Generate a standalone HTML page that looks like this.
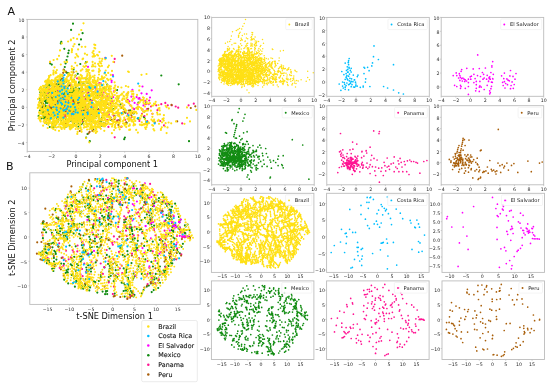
<!DOCTYPE html>
<html><head><meta charset="utf-8"><title>PCA and t-SNE</title>
<style>html,body{margin:0;padding:0;background:#fff;overflow:hidden}svg{display:block;filter:blur(0.3px)}</style></head>
<body><svg width="550" height="386" viewBox="0 0 550 386">
<rect width="550" height="386" fill="#fff"/>
<defs><clipPath id="c_pca"><rect x="27.2" y="19.4" width="170.60000000000002" height="132.0"/></clipPath>
<clipPath id="c_tsne"><rect x="29.8" y="172.8" width="170.39999999999998" height="131.59999999999997"/></clipPath></defs>
<g clip-path="url(#c_pca)">
<path d="M44.8 92.5h0M86.7 98.8h0M62.4 113.4h0M71.5 100.9h0M77.4 103.5h0M79.0 117.4h0M70.6 105.8h0M74.2 96.7h0M59.0 88.4h0M52.9 102.3h0M50.7 99.9h0M124.9 137.5h0M58.1 104.6h0M74.8 90.2h0M51.0 113.9h0M143.9 116.9h0M54.0 117.0h0M56.6 102.7h0M57.6 102.8h0M73.9 92.6h0M52.9 106.9h0M58.6 80.7h0M53.4 108.4h0M144.9 118.5h0M59.9 105.6h0M79.8 112.3h0M118.2 98.4h0M77.5 116.1h0M53.3 84.0h0M40.2 101.2h0M56.6 106.0h0M44.5 97.3h0M73.0 23.7h0M78.6 92.3h0M120.6 104.4h0M67.4 94.1h0M62.0 97.0h0M45.6 106.1h0M93.4 109.0h0M53.7 102.1h0M74.4 117.8h0M99.3 118.5h0M52.1 107.1h0M57.2 107.1h0M73.3 97.5h0M56.1 92.2h0M60.0 85.0h0M49.1 119.3h0M71.2 85.5h0M78.6 103.1h0M39.0 105.8h0M46.1 116.2h0M77.3 98.2h0M117.1 90.1h0M111.1 119.9h0M73.9 123.5h0M46.7 123.6h0M55.4 90.7h0M77.5 95.5h0M83.0 101.2h0M75.4 94.0h0M70.9 89.1h0M72.3 101.0h0M74.3 112.0h0M81.6 101.7h0M74.2 103.0h0M78.7 91.4h0M47.4 91.8h0M80.2 81.9h0M71.0 105.0h0M61.8 102.3h0M75.8 94.8h0M76.0 107.8h0M72.4 98.0h0M63.4 111.4h0M101.6 125.7h0M88.8 118.9h0M71.2 96.2h0M92.3 120.9h0M83.9 97.1h0M75.5 112.3h0M52.6 104.4h0M58.1 87.9h0M77.7 105.1h0M76.5 119.5h0M77.1 91.1h0M86.5 112.7h0M71.3 98.3h0M47.0 91.9h0M73.8 119.6h0M82.9 113.5h0M73.4 110.7h0M45.6 97.9h0M54.6 81.1h0M96.9 110.7h0M52.0 103.4h0M67.5 56.5h0M57.4 80.1h0M88.1 119.2h0M60.0 111.0h0M64.3 109.1h0M69.2 103.3h0M47.6 115.3h0M61.3 94.3h0M74.3 121.7h0M52.2 93.0h0M52.8 101.7h0M47.2 95.9h0M87.2 113.6h0M78.2 97.7h0M98.3 104.3h0M54.9 91.7h0M73.5 101.2h0M65.3 95.4h0M46.0 101.9h0M44.4 107.4h0M70.7 120.8h0M64.3 48.8h0M58.8 84.3h0M67.4 113.7h0M61.2 108.9h0M83.0 121.6h0M50.0 115.8h0M65.2 93.1h0M70.1 96.0h0M45.6 95.5h0M65.1 94.1h0M66.0 109.7h0M67.3 111.8h0M55.6 95.8h0M90.0 99.8h0M79.0 82.4h0M76.5 111.9h0M52.8 113.0h0M71.3 92.9h0M61.7 114.8h0M77.5 118.5h0M48.0 115.1h0M65.9 103.5h0M90.2 117.4h0M75.2 105.7h0M83.4 103.6h0M66.5 72.6h0M82.0 96.4h0M73.2 102.9h0M54.7 115.8h0M47.6 102.8h0M87.6 114.7h0M43.6 115.6h0M49.8 127.0h0M50.2 102.6h0M92.4 100.2h0M81.3 103.2h0M74.8 91.1h0M44.5 97.9h0M51.8 64.6h0M53.0 97.3h0M61.8 108.3h0M74.2 118.8h0M80.7 111.8h0M73.5 89.2h0M59.8 109.8h0M63.5 113.3h0M72.0 92.5h0M95.9 93.1h0M61.4 90.3h0M72.7 103.1h0M47.9 93.6h0M68.3 73.0h0M57.6 100.9h0M74.3 113.4h0M89.9 110.9h0M69.3 92.0h0M50.2 63.5h0M64.4 112.2h0M83.4 83.3h0M65.3 102.1h0M73.6 97.9h0M62.3 103.0h0M45.4 105.5h0M77.0 118.7h0M58.4 109.3h0M40.1 92.3h0M65.6 98.5h0M60.3 111.0h0M58.8 95.5h0M72.1 97.6h0M95.9 85.2h0M72.0 103.2h0M71.2 85.3h0M75.3 111.7h0M53.3 110.0h0M53.0 127.3h0M65.0 110.7h0M68.3 112.7h0M69.2 125.6h0M113.4 109.2h0M51.2 98.9h0M80.1 110.4h0M54.3 108.8h0M58.6 106.5h0M86.0 96.4h0M71.1 102.2h0M69.6 109.6h0M67.2 97.6h0M124.2 139.2h0M65.0 93.6h0M73.0 97.6h0M80.3 64.0h0M69.7 94.9h0M55.6 89.3h0M75.3 93.2h0M76.3 109.3h0M80.3 83.0h0M44.8 117.2h0M65.5 87.8h0M43.2 103.9h0M54.4 105.8h0M73.8 108.3h0M62.4 98.6h0M102.1 117.8h0M69.9 91.3h0M92.2 114.4h0M70.1 105.7h0M41.9 112.2h0M75.6 75.6h0M43.6 95.7h0M51.7 98.5h0M83.9 117.9h0M130.1 110.4h0M92.3 120.9h0M60.3 104.2h0M66.2 81.7h0M66.9 94.4h0M74.0 117.5h0M73.2 104.7h0M48.7 86.1h0M52.7 122.2h0M57.9 99.4h0M44.7 97.8h0M82.7 119.8h0M70.7 106.5h0M61.6 102.1h0M43.6 111.7h0M74.7 94.1h0M119.4 119.9h0M54.0 104.6h0M44.7 112.1h0M57.8 103.1h0M57.8 100.8h0M68.3 121.4h0M76.0 100.7h0M104.1 104.8h0M52.4 105.8h0M91.6 111.6h0M86.1 137.5h0M88.9 99.1h0M70.7 97.6h0M71.7 92.2h0M49.2 97.2h0M79.6 103.2h0M85.5 78.3h0M51.5 84.9h0M90.2 118.2h0M51.5 96.3h0M53.3 106.6h0M71.1 29.9h0M71.8 119.5h0M56.1 109.9h0M78.1 123.6h0M78.5 109.7h0M88.4 92.5h0M72.7 91.5h0M85.2 110.5h0M68.1 102.9h0M55.7 101.0h0M61.3 41.9h0M65.9 115.1h0M69.9 111.9h0M78.2 126.5h0M56.2 93.4h0M103.9 123.4h0M101.6 93.0h0M81.8 100.7h0M73.9 96.1h0M65.5 93.4h0M66.0 109.4h0M45.4 100.9h0M57.9 122.2h0M44.5 93.4h0M58.3 82.8h0M93.5 104.3h0M44.2 100.5h0M65.6 63.5h0M56.8 102.7h0M52.5 87.6h0M86.2 95.6h0M68.9 100.0h0M67.2 97.8h0M66.0 119.7h0M44.8 101.1h0M51.1 115.7h0M101.2 121.4h0M88.8 104.4h0M72.9 105.4h0M178.7 84.3h0M105.1 113.9h0M68.8 105.0h0M73.3 109.4h0M68.8 50.5h0M56.8 118.2h0M56.9 113.4h0M73.2 116.2h0M63.8 104.4h0M54.6 114.5h0M72.7 113.1h0M87.5 119.2h0M60.8 43.4h0M66.7 110.7h0M60.8 120.6h0M55.2 107.9h0M53.0 97.7h0M98.1 109.2h0M106.0 107.8h0M77.3 105.6h0M77.3 117.2h0M50.9 95.5h0M66.0 103.0h0M48.4 101.1h0M72.4 93.2h0M66.2 107.6h0M78.1 120.4h0M96.1 95.9h0M64.3 81.9h0M64.4 113.9h0M47.3 108.0h0M107.2 84.7h0M56.2 105.5h0M41.4 95.4h0M86.1 62.2h0M63.9 106.2h0M50.3 117.5h0M90.5 101.3h0M72.8 101.0h0M72.9 112.0h0M52.3 90.4h0M84.9 106.4h0M38.6 116.1h0M43.9 111.4h0M82.6 33.2h0M68.4 111.8h0M72.9 89.7h0M48.7 113.5h0M42.5 104.3h0M54.0 121.8h0M72.7 116.9h0M59.1 108.3h0M74.0 110.3h0M57.5 108.2h0M64.3 107.4h0M63.0 96.6h0M125.4 112.7h0M75.0 92.9h0M66.0 90.2h0M78.4 117.7h0M57.7 111.8h0M63.1 99.1h0M41.1 93.4h0M109.3 88.9h0M106.4 103.2h0M69.2 105.0h0M54.0 105.5h0M59.6 87.6h0M53.9 118.0h0M43.9 86.4h0M56.6 96.1h0M77.8 73.8h0M48.1 111.0h0M72.9 97.2h0M39.9 110.4h0M60.7 106.1h0M41.7 94.0h0M58.5 98.2h0M73.4 117.0h0M61.5 113.0h0M58.5 110.3h0M77.8 118.1h0M74.2 101.3h0M78.1 116.3h0M55.7 110.2h0M54.0 94.9h0M64.3 88.6h0M42.7 113.2h0M84.1 103.3h0M41.6 118.3h0M42.0 101.9h0M61.5 105.0h0M60.7 92.0h0M61.3 86.7h0M57.1 110.2h0M46.6 99.3h0M44.2 91.2h0M79.6 116.6h0M72.8 107.9h0M51.1 107.1h0M85.4 99.1h0M57.1 88.4h0M52.6 99.6h0M56.2 84.3h0M80.6 93.6h0M104.2 103.3h0M65.7 86.5h0M48.2 107.2h0M83.8 107.9h0M63.2 101.8h0M72.1 101.6h0M81.9 86.9h0M74.9 94.5h0M69.7 96.0h0M59.8 90.3h0M85.8 109.8h0M80.7 89.7h0M63.2 102.0h0M57.3 111.0h0M78.1 112.2h0M87.7 95.3h0M53.4 96.4h0M46.3 119.3h0M66.4 88.0h0M68.3 53.2h0M51.3 113.8h0M55.6 104.8h0M72.8 95.7h0M58.2 105.2h0M73.2 100.4h0M67.1 104.8h0M72.1 101.2h0M100.9 123.9h0M74.9 96.8h0M57.1 107.9h0M63.5 101.4h0M48.1 111.6h0M51.8 113.8h0M48.9 100.2h0M71.7 87.0h0M65.8 106.0h0M44.4 87.0h0M114.6 116.2h0M78.5 91.1h0M43.9 107.6h0M45.9 92.1h0M57.7 112.9h0M63.7 81.8h0M72.0 108.1h0M45.9 91.0h0M82.0 92.6h0M45.5 92.6h0M97.4 94.7h0M137.2 107.9h0M66.9 108.2h0M94.2 97.9h0M44.2 104.9h0M78.3 102.2h0M56.6 112.1h0M49.1 85.2h0M65.4 93.5h0M88.1 82.7h0M71.6 105.2h0M57.1 96.6h0M53.0 124.4h0M93.3 129.4h0M59.4 89.5h0M51.2 116.7h0M60.5 109.9h0M61.7 103.0h0M189.0 141.2h0M70.9 116.3h0M92.8 103.7h0M46.2 113.9h0M63.0 110.6h0M66.1 117.9h0M63.9 104.6h0M87.1 113.7h0M89.8 141.2h0M55.5 115.0h0M62.7 106.7h0M83.8 102.0h0M61.9 108.3h0M70.3 107.8h0M83.5 114.8h0M63.7 117.2h0M124.2 109.2h0M96.9 102.1h0M63.7 93.9h0M56.4 90.3h0M75.7 87.7h0M72.8 106.4h0M73.8 117.2h0M108.8 111.6h0M64.0 70.3h0M89.1 89.2h0M61.3 117.4h0M77.3 113.8h0M76.9 120.0h0M111.5 98.1h0M62.3 108.0h0M138.4 102.7h0M60.0 97.1h0M87.5 134.0h0M88.2 104.6h0M81.5 100.6h0M41.0 95.3h0M43.5 115.0h0M55.0 109.8h0M46.2 98.3h0M47.6 87.0h0M56.7 97.0h0M70.7 96.2h0M65.6 105.0h0M161.3 75.5h0M89.0 95.8h0M70.9 110.1h0M83.0 123.5h0M97.3 96.6h0M92.1 126.9h0M83.6 115.5h0M82.4 92.1h0M52.4 91.9h0M112.3 102.1h0M67.5 107.0h0M71.3 109.8h0M59.2 93.9h0M68.8 83.6h0M76.5 109.1h0M52.3 106.3h0M137.7 118.5h0M49.4 86.5h0M45.7 106.1h0M60.8 94.7h0M75.8 105.5h0M72.3 87.6h0M59.2 103.5h0M47.2 117.9h0M76.4 114.2h0M85.9 98.9h0M90.8 88.4h0M66.1 109.6h0M64.8 67.0h0M48.8 84.5h0M71.3 110.9h0M44.1 118.2h0M78.7 103.7h0M92.9 113.3h0M100.4 94.9h0M59.8 93.4h0M55.1 110.7h0M59.6 85.6h0M53.9 94.8h0M42.2 109.3h0M63.1 88.2h0M55.8 91.5h0M54.8 111.9h0M42.0 103.5h0M56.0 105.2h0M46.4 85.0h0M52.4 115.4h0M75.1 103.6h0M54.7 99.2h0M73.6 98.6h0M64.9 92.5h0M60.9 113.2h0M57.8 98.0h0M84.4 104.6h0M44.6 92.1h0M51.3 98.5h0M78.2 99.1h0M62.2 124.1h0M76.5 100.8h0M56.4 104.4h0M74.5 94.4h0M68.9 95.5h0M61.1 96.4h0M53.4 109.2h0M71.4 97.6h0M74.8 106.3h0M83.4 106.2h0M49.3 107.9h0M67.7 110.0h0M64.3 98.1h0M53.9 113.6h0M59.8 82.2h0M64.6 99.1h0M52.7 90.9h0M70.9 93.7h0M86.5 78.5h0M49.8 92.5h0M92.5 110.4h0M81.0 39.4h0M78.9 88.7h0M59.4 108.1h0M101.6 94.8h0M46.4 107.9h0M61.3 106.2h0M88.7 104.4h0M41.4 107.7h0M51.6 109.3h0M60.5 79.8h0M69.3 106.6h0M86.1 62.3h0M81.1 109.9h0M54.3 94.2h0M46.5 88.7h0M50.2 108.8h0M65.7 126.9h0M73.5 69.5h0M54.6 100.0h0M68.5 106.7h0M58.6 118.3h0M146.2 102.1h0M53.5 127.5h0M69.4 119.1h0M61.3 92.7h0M65.0 81.0h0M71.8 98.2h0M101.6 100.9h0M40.1 98.7h0M66.7 94.6h0M59.6 106.7h0M58.2 119.3h0M51.3 102.0h0M63.0 104.9h0M75.8 116.6h0M82.8 114.6h0M43.5 98.8h0M77.0 106.4h0M79.6 100.6h0M87.7 108.1h0M58.1 119.5h0M49.0 85.1h0M58.7 99.0h0M82.7 101.9h0M69.7 102.6h0M58.5 103.0h0M55.2 125.5h0M43.4 118.2h0M66.2 89.3h0M73.7 79.9h0M45.2 98.2h0M44.9 116.2h0M83.4 113.2h0M59.4 105.1h0M69.2 85.2h0M69.1 84.0h0M59.0 86.8h0M50.2 99.5h0M58.1 111.9h0M61.3 109.4h0M47.0 108.9h0M56.2 106.4h0M93.3 104.0h0M62.4 117.1h0M81.5 112.7h0M84.1 107.8h0M126.6 122.9h0M74.8 105.1h0M70.1 99.1h0M49.3 106.5h0M79.0 96.4h0M65.0 115.4h0M46.0 102.9h0M65.6 90.2h0M83.5 110.2h0M58.3 98.2h0M52.6 107.1h0M133.7 113.4h0M61.1 93.0h0M56.7 97.9h0M66.5 60.0h0M47.5 99.0h0M74.4 93.9h0M65.6 109.9h0M67.6 86.7h0M79.9 115.7h0M50.8 105.8h0M76.3 119.6h0M61.1 103.0h0M68.7 114.1h0M82.2 107.3h0M61.9 105.1h0M46.8 113.3h0M61.9 105.4h0M81.1 116.5h0M74.2 118.6h0M57.0 85.6h0M66.1 106.7h0M50.5 98.8h0M88.9 117.2h0M81.0 124.3h0M79.1 44.5h0M48.1 81.8h0M91.9 117.5h0M78.9 83.8h0M49.4 106.4h0M72.0 94.2h0M43.0 107.4h0M94.4 122.2h0M55.8 108.6h0M57.1 87.7h0M96.3 115.9h0M84.3 101.1h0M71.8 115.1h0M48.5 115.9h0M77.6 104.5h0M57.6 91.5h0M53.7 90.0h0M104.0 87.8h0M65.4 110.7h0M57.9 96.2h0M146.2 122.2h0" stroke="#128c12" stroke-width="2.20" stroke-linecap="round" fill="none"/>
<path d="M59.6 110.9h0M51.8 113.2h0M67.4 101.5h0M67.2 107.9h0M61.2 109.2h0M68.0 103.4h0M63.7 115.0h0M73.8 104.6h0M61.8 112.4h0M69.9 106.7h0M67.9 112.6h0M62.7 100.5h0M64.1 115.4h0M78.0 112.6h0M61.5 109.6h0M56.3 107.5h0M65.9 116.3h0M73.4 112.4h0M66.6 114.5h0M64.4 104.3h0M67.0 112.0h0M61.8 108.9h0M61.0 113.5h0M67.7 108.2h0M67.4 106.3h0M80.2 110.2h0M77.4 109.1h0M65.0 107.8h0M62.0 104.2h0M73.2 106.2h0M67.3 111.2h0M72.2 114.3h0M64.7 109.9h0M68.4 107.3h0M69.0 99.8h0M63.0 108.9h0M74.6 108.1h0M64.0 115.2h0M66.3 105.1h0M71.2 114.4h0M59.9 106.8h0M59.5 108.7h0M85.6 110.9h0M69.2 102.2h0M59.6 108.8h0M75.0 102.8h0M72.0 108.2h0M65.6 116.9h0M70.5 114.0h0M82.8 113.8h0M61.9 115.1h0M64.1 109.4h0M77.5 101.2h0M60.7 103.7h0M63.3 113.4h0M59.9 107.0h0M68.7 110.2h0M56.8 100.6h0M53.6 108.9h0M78.8 104.1h0M64.7 117.5h0M58.1 107.9h0M55.6 112.3h0M66.0 117.5h0M61.7 116.3h0M54.1 109.6h0M65.3 105.0h0M76.5 108.8h0M71.8 118.7h0M60.8 108.8h0M61.1 107.6h0M64.1 113.9h0M60.4 102.9h0M62.8 103.9h0M64.0 105.2h0M62.5 107.2h0M73.0 106.3h0M77.2 110.1h0M62.7 109.8h0M67.7 109.2h0M60.5 106.8h0M68.5 109.5h0M72.1 111.6h0M64.2 115.2h0M69.7 110.1h0M67.4 98.8h0M77.4 104.9h0M61.5 103.0h0M87.0 115.7h0M65.8 107.0h0M61.1 92.9h0M65.9 101.4h0M77.0 100.1h0M51.1 97.0h0M73.7 119.8h0M66.3 99.2h0M60.1 97.7h0M74.9 98.3h0M93.6 92.1h0M74.2 97.2h0M76.0 104.4h0M78.8 97.0h0M65.1 107.5h0M53.6 99.2h0M70.9 101.5h0M54.2 95.1h0M71.4 107.8h0M68.7 113.2h0M80.3 111.4h0M50.2 89.1h0M66.0 115.5h0M51.7 92.2h0M73.3 106.8h0M54.9 105.5h0M71.2 106.0h0M48.0 114.6h0M67.6 104.4h0M70.7 115.4h0M68.1 107.3h0M74.7 120.0h0M75.7 106.1h0M55.7 98.9h0M70.7 86.2h0M73.3 111.9h0M80.6 110.8h0M69.7 125.0h0M92.7 114.0h0M82.1 121.3h0M71.9 116.5h0M56.5 112.4h0M88.2 110.9h0M59.4 109.7h0M48.3 90.2h0M64.3 109.7h0M45.6 122.4h0M69.9 107.7h0M67.7 93.0h0M77.4 108.1h0M73.5 120.7h0M52.0 103.3h0M76.6 116.6h0M105.3 57.9h0M114.7 58.9h0M114.1 62.1h0M99.3 83.1h0M92.8 88.6h0M85.6 90.3h0M85.1 99.4h0M86.3 106.5h0M85.1 109.0h0M87.6 113.8h0M94.1 107.7h0M101.9 95.7h0M105.8 100.5h0M100.6 102.9h0M99.3 110.2h0M97.9 113.8h0M103.1 113.3h0M108.4 113.8h0M110.9 102.9h0M113.6 115.6h0M118.7 115.0h0M122.6 106.5h0M123.9 111.8h0M127.7 99.9h0M127.7 113.8h0M130.4 112.5h0M131.6 117.3h0M125.2 119.8h0M134.2 109.0h0M138.0 107.7h0M139.4 98.1h0M142.0 113.8h0M144.5 116.1h0M147.2 109.0h0M145.9 104.2h0M149.2 100.5h0M151.0 106.5h0M152.4 113.8h0M156.2 105.3h0M161.3 104.2h0M165.3 102.9h0M167.8 105.3h0M171.8 105.3h0M175.7 106.5h0M178.2 107.7h0M188.6 105.3h0M193.8 103.7h0M157.5 110.2h0M153.7 121.0h0M160.2 121.0h0M164.0 125.4h0M182.2 123.4h0M147.2 121.0h0M139.4 121.0h0M121.2 126.9h0M108.4 126.9h0M99.3 123.8h0M114.7 137.3h0M117.4 120.4h0M107.1 119.8h0M95.4 116.1h0M88.9 96.9h0M70.1 75.3h0M77.1 78.3h0M53.8 87.2h0M65.8 87.2h0M50.3 94.4h0M85.8 89.6h0M92.6 88.9h0M50.0 61.9h0" stroke="#ff1493" stroke-width="2.20" stroke-linecap="round" fill="none"/>
<path d="M88.0 66.8h0M112.9 75.2h0M111.6 80.5h0M111.6 82.1h0M69.8 83.7h0M80.5 84.5h0M90.6 84.0h0M100.8 83.3h0M61.3 85.2h0M60.3 87.5h0M52.2 89.5h0M47.2 92.9h0M53.2 92.9h0M57.3 90.5h0M58.3 92.9h0M59.3 95.2h0M61.3 96.7h0M63.3 96.0h0M65.3 97.5h0M67.3 98.2h0M69.5 99.7h0M56.2 96.0h0M58.3 99.0h0M62.3 99.7h0M66.3 100.3h0M72.5 97.5h0M76.5 97.5h0M77.5 93.7h0M83.6 96.7h0M87.6 92.9h0M92.6 94.1h0M95.8 89.0h0M97.8 91.3h0M98.8 96.0h0M96.8 97.5h0M103.8 92.5h0M106.9 95.2h0M102.8 97.5h0M108.9 97.5h0M112.9 96.7h0M113.9 91.3h0M109.9 89.0h0M105.9 100.3h0M110.9 101.3h0M85.6 100.3h0M81.6 101.8h0M91.6 100.3h0M72.5 101.8h0M49.5 105.2h0M59.3 105.2h0M60.3 106.7h0M72.5 106.7h0M59.3 109.0h0M67.3 109.0h0M85.6 104.4h0M91.6 105.9h0M90.6 107.5h0M93.8 107.5h0M85.6 109.0h0M98.8 110.5h0M103.8 105.2h0M110.9 106.4h0M109.9 109.5h0M107.9 112.1h0M108.9 114.4h0M107.9 115.9h0M84.6 112.1h0M90.6 112.9h0M72.5 116.7h0M81.6 91.3h0M75.5 94.4h0M53.2 106.7h0M108.1 94.4h0M107.1 96.7h0M113.2 97.2h0M106.1 99.7h0M112.3 101.4h0M142.5 86.5h0M132.4 89.8h0M151.7 90.3h0M127.7 93.2h0M141.5 93.3h0M146.7 93.9h0M131.4 96.7h0M136.6 97.1h0M138.5 98.7h0M140.5 99.5h0M150.0 97.5h0M129.4 101.4h0M132.4 100.6h0M134.6 102.9h0M137.5 104.4h0M145.2 100.9h0M148.7 104.2h0M143.5 105.4h0M130.4 105.4h0M133.4 108.6h0M142.5 109.5h0M147.2 109.0h0" stroke="#ff00ff" stroke-width="2.20" stroke-linecap="round" fill="none"/>
<path d="M77.5 108.0h0M63.0 108.5h0M56.0 110.5h0M56.3 103.1h0M72.5 100.0h0M71.6 94.8h0M68.9 111.0h0M59.9 105.6h0M81.3 102.8h0M53.2 112.3h0M78.1 98.3h0M75.3 105.4h0M75.6 98.5h0M67.8 120.1h0M58.0 95.7h0M51.2 111.0h0M49.1 101.7h0M63.1 103.8h0M73.4 107.1h0M55.0 109.7h0M56.6 108.3h0M62.8 109.2h0M47.2 98.5h0M52.7 104.4h0M67.9 101.1h0M49.1 113.8h0M55.4 96.4h0M56.9 95.2h0M50.9 107.8h0M46.2 117.9h0M65.0 111.2h0M86.2 117.9h0M52.0 105.5h0M67.2 109.1h0M53.5 108.8h0M63.2 101.7h0M69.1 97.4h0M50.8 112.1h0M74.2 102.2h0M64.8 111.7h0M57.0 103.9h0M72.0 104.4h0M50.5 93.2h0M56.1 102.4h0M40.7 102.2h0M58.6 99.6h0M79.6 105.5h0M50.0 111.0h0M43.4 104.6h0M76.2 95.5h0M70.1 102.9h0M61.1 99.6h0M71.4 95.3h0M43.4 106.7h0M73.4 111.2h0M72.5 115.2h0M55.9 106.7h0M61.7 111.4h0M63.4 106.6h0M61.0 102.5h0M52.4 105.2h0M48.0 107.6h0M57.1 91.6h0M74.7 103.6h0M54.1 99.9h0M72.7 122.1h0M77.4 116.7h0M56.3 112.3h0M67.3 106.7h0M56.3 121.7h0M76.7 105.8h0M52.5 108.1h0M73.8 101.7h0M50.5 108.3h0M69.1 110.0h0M65.9 123.7h0M50.9 97.3h0M90.2 114.4h0M46.7 111.4h0M59.8 95.2h0M58.9 101.6h0M70.1 103.8h0M63.7 87.9h0M88.3 110.6h0M50.9 94.0h0M77.0 118.2h0M58.1 102.7h0M87.1 100.5h0M57.1 97.5h0M66.9 115.6h0M66.7 95.2h0M75.1 104.1h0M59.3 104.2h0M60.6 100.3h0M51.6 100.4h0M74.2 112.0h0M60.0 96.6h0M61.3 116.2h0M57.6 117.8h0M57.7 101.4h0M50.1 111.5h0M49.1 108.1h0M54.3 102.8h0M59.7 107.4h0M63.7 69.7h0M63.2 72.8h0M62.7 75.7h0M62.0 78.7h0M61.2 81.8h0M60.5 85.8h0M59.8 88.8h0M59.3 91.9h0M56.8 80.7h0M55.7 83.8h0M54.7 86.7h0M54.0 89.8h0M53.3 92.3h0M65.8 71.7h0M73.5 72.3h0M67.0 80.7h0M93.8 87.8h0M92.4 88.8h0M79.8 131.0h0M89.6 131.9h0M92.8 129.9h0M98.1 120.9h0M122.2 55.7h0M84.8 106.8h0M87.3 109.2h0M108.1 104.0h0M121.7 108.0h0M124.9 112.0h0M128.7 110.5h0M132.6 112.8h0M131.4 115.3h0M136.6 108.0h0M144.2 111.6h0M148.2 108.8h0M139.0 118.9h0M154.7 122.4h0M171.5 104.9h0M190.8 108.0h0M195.3 106.3h0M177.2 121.3h0M104.1 114.1h0M101.6 120.1h0M98.9 121.3h0M96.4 122.4h0M105.4 123.7h0M110.6 117.6h0M111.9 120.1h0M114.6 118.9h0M117.1 121.3h0M119.7 120.1h0M118.4 124.9h0M126.2 122.4h0M89.9 121.3h0M92.4 131.0h0M88.6 133.3h0M91.3 118.9h0M83.5 120.1h0" stroke="#a95f0a" stroke-width="2.20" stroke-linecap="round" fill="none"/>
<path d="M82.4 85.3h0M40.3 91.8h0M55.3 130.1h0M71.8 52.2h0M55.9 116.1h0M99.4 88.9h0M99.1 84.8h0M95.0 111.9h0M113.9 122.1h0M52.0 110.7h0M114.0 109.8h0M107.9 97.4h0M73.7 94.8h0M53.9 90.2h0M80.3 84.1h0M51.6 87.5h0M106.6 121.4h0M130.4 114.4h0M63.6 124.7h0M94.9 110.0h0M126.5 98.1h0M92.8 80.0h0M74.3 92.4h0M96.6 87.5h0M165.0 126.5h0M94.2 121.4h0M123.8 96.5h0M72.5 121.1h0M80.2 115.0h0M69.4 82.6h0M43.1 89.7h0M75.1 93.4h0M42.3 103.9h0M77.8 109.6h0M72.1 81.8h0M88.3 120.0h0M95.2 48.4h0M99.9 70.7h0M54.1 101.9h0M86.1 96.3h0M98.5 104.0h0M108.4 122.5h0M99.4 52.0h0M99.9 118.7h0M85.8 100.9h0M49.6 117.9h0M80.5 89.8h0M95.0 91.2h0M65.4 95.1h0M102.2 100.3h0M67.3 104.4h0M56.1 90.2h0M66.8 122.2h0M59.7 97.4h0M84.9 53.7h0M74.1 110.0h0M39.1 89.5h0M102.0 90.7h0M60.6 83.7h0M50.2 111.5h0M69.9 95.1h0M133.4 122.1h0M47.7 128.0h0M91.0 108.5h0M77.7 95.7h0M49.6 80.5h0M49.6 94.1h0M110.1 109.9h0M70.5 103.3h0M83.9 101.5h0M82.3 95.3h0M92.6 102.6h0M48.0 105.6h0M75.9 83.9h0M68.8 91.5h0M60.0 89.2h0M95.4 130.5h0M70.4 119.8h0M102.3 123.6h0M115.0 91.0h0M91.7 94.1h0M75.6 92.9h0M67.5 96.1h0M95.6 97.1h0M104.6 97.1h0M71.8 68.9h0M70.9 79.3h0M91.3 90.2h0M95.0 93.2h0M73.7 116.0h0M83.4 78.4h0M95.8 116.5h0M67.4 98.6h0M57.9 112.9h0M72.4 115.3h0M82.5 85.1h0M84.0 101.1h0M48.5 124.9h0M47.8 90.3h0M97.2 110.5h0M55.8 71.8h0M67.6 119.7h0M55.0 80.1h0M75.7 111.7h0M98.2 92.7h0M46.2 91.4h0M56.0 120.8h0M59.0 111.8h0M114.1 92.1h0M98.9 114.5h0M142.3 109.1h0M124.5 123.4h0M45.7 98.5h0M102.4 125.2h0M101.8 123.8h0M141.5 74.8h0M86.4 78.7h0M71.4 100.8h0M107.5 100.5h0M46.3 114.4h0M82.7 104.8h0M47.8 119.9h0M55.1 126.9h0M71.9 94.6h0M68.7 118.1h0M72.6 89.3h0M184.5 123.8h0M115.6 127.8h0M103.7 96.6h0M56.3 89.9h0M71.8 90.4h0M56.0 85.3h0M98.4 102.4h0M132.2 120.4h0M72.4 120.4h0M124.3 119.5h0M92.8 76.6h0M77.6 112.6h0M89.1 123.7h0M160.0 114.3h0M95.6 110.7h0M143.1 111.7h0M141.0 108.1h0M81.2 107.2h0M136.2 129.9h0M67.4 85.2h0M80.5 121.9h0M64.7 113.6h0M60.3 104.2h0M128.3 86.8h0M84.5 67.0h0M62.5 98.5h0M93.6 95.5h0M69.9 106.0h0M56.0 92.9h0M157.1 112.7h0M47.0 110.7h0M101.1 105.3h0M76.8 122.3h0M58.5 107.0h0M94.3 118.6h0M80.8 104.3h0M113.4 61.9h0M108.9 100.3h0M42.7 117.6h0M133.6 112.1h0M108.7 87.2h0M53.8 114.3h0M103.3 84.7h0M132.1 94.1h0M80.8 114.9h0M98.5 93.2h0M97.0 113.6h0M54.5 83.0h0M81.5 88.0h0M86.3 77.4h0M40.2 120.0h0M60.6 109.3h0M70.4 89.5h0M54.6 107.0h0M190.0 121.4h0M63.6 100.5h0M70.7 103.9h0M47.6 80.4h0M97.1 131.5h0M92.8 117.2h0M106.2 101.3h0M53.6 95.0h0M90.8 126.2h0M75.3 104.9h0M57.2 87.5h0M44.5 112.6h0M89.4 97.2h0M70.2 94.1h0M91.9 85.6h0M56.3 121.9h0M75.6 89.3h0M75.2 104.5h0M78.3 117.4h0M86.3 92.5h0M69.6 102.0h0M71.7 109.7h0M82.9 78.4h0M95.4 112.1h0M94.5 126.2h0M53.0 85.3h0M48.6 109.5h0M94.6 106.8h0M109.0 105.3h0M82.0 95.4h0M121.8 114.4h0M81.0 89.8h0M80.6 90.8h0M74.7 120.5h0M74.0 114.1h0M141.8 122.4h0M73.8 94.9h0M75.8 110.2h0M47.4 88.7h0M80.3 127.7h0M53.8 106.8h0M79.2 115.7h0M114.7 109.4h0M100.9 97.4h0M101.9 99.1h0M104.0 104.9h0M60.2 74.6h0M78.6 118.0h0M67.3 80.6h0M111.7 108.1h0M70.0 108.8h0M88.9 110.0h0M77.3 133.9h0M65.8 88.1h0M72.8 105.9h0M93.9 94.1h0M86.4 91.2h0M39.7 103.5h0M38.2 105.1h0M118.7 122.3h0M42.5 94.0h0M123.8 92.0h0M80.6 74.9h0M55.8 88.8h0M103.5 120.5h0M86.2 117.9h0M81.6 131.8h0M55.8 73.1h0M102.4 91.6h0M81.7 82.1h0M62.8 89.7h0M88.3 119.9h0M139.7 102.3h0M79.7 121.8h0M63.2 125.7h0M95.1 85.3h0M44.8 89.8h0M74.6 121.0h0M109.6 91.6h0M80.7 102.4h0M80.7 102.5h0M97.3 114.7h0M73.6 98.4h0M78.4 96.9h0M66.3 95.8h0M143.5 102.8h0M73.9 115.4h0M84.3 85.2h0M76.0 115.1h0M122.9 121.0h0M64.7 83.4h0M83.5 116.0h0M64.6 61.9h0M85.4 114.8h0M87.5 105.9h0M99.7 126.5h0M54.0 125.6h0M46.8 90.4h0M78.7 124.8h0M124.3 105.2h0M108.5 90.7h0M83.5 23.3h0M50.2 81.3h0M49.6 99.7h0M73.0 104.0h0M93.1 86.0h0M74.7 77.3h0M98.4 121.2h0M70.9 87.1h0M46.2 92.1h0M41.6 88.0h0M96.2 96.5h0M72.1 110.8h0M130.9 113.1h0M61.6 88.6h0M65.4 101.9h0M124.3 96.5h0M163.7 120.6h0M117.6 113.1h0M44.4 90.8h0M84.0 93.1h0M67.2 124.2h0M47.2 117.0h0M78.1 49.4h0M57.7 86.6h0M114.6 82.3h0M54.0 106.6h0M77.7 92.0h0M91.0 91.5h0M94.2 112.4h0M107.7 120.9h0M137.0 94.9h0M48.1 87.7h0M73.5 82.2h0M84.1 108.5h0M63.9 83.4h0M88.4 106.2h0M92.7 92.0h0M80.6 100.9h0M136.8 113.3h0M137.9 132.6h0M83.9 89.2h0M86.5 115.0h0M134.4 118.7h0M73.4 96.9h0M60.3 116.2h0M70.9 77.8h0M89.7 77.0h0M97.8 122.0h0M92.2 92.7h0M56.5 96.7h0M56.6 103.9h0M66.7 93.4h0M107.9 116.8h0M54.5 113.8h0M62.0 115.9h0M104.7 91.3h0M85.8 122.4h0M55.5 107.0h0M146.5 101.7h0M68.1 110.6h0M93.5 118.8h0M46.7 117.2h0M85.2 85.0h0M81.1 100.9h0M77.0 101.2h0M54.8 107.6h0M126.4 124.3h0M108.6 108.8h0M176.0 121.4h0M101.1 63.4h0M119.2 126.6h0M94.6 75.5h0M81.9 113.8h0M101.5 120.3h0M64.8 104.2h0M67.7 92.5h0M39.0 112.4h0M43.7 110.5h0M58.0 122.2h0M86.7 98.1h0M42.5 93.5h0M96.6 93.0h0M74.4 80.9h0M53.7 89.1h0M89.9 75.8h0M77.3 97.7h0M67.2 76.8h0M47.8 116.2h0M75.5 91.4h0M97.2 113.4h0M98.0 105.5h0M67.6 113.1h0M52.1 90.3h0M66.4 103.3h0M64.2 96.7h0M72.0 102.8h0M53.6 85.6h0M49.4 111.5h0M62.3 114.4h0M53.3 90.5h0M41.1 98.0h0M70.0 90.6h0M62.2 115.7h0M69.8 128.7h0M83.3 106.4h0M129.6 117.8h0M91.7 102.9h0M71.4 125.2h0M98.1 93.7h0M103.8 95.1h0M75.3 113.4h0M97.4 114.8h0M110.1 124.2h0M66.0 94.4h0M90.5 115.5h0M95.0 106.4h0M146.1 122.8h0M81.4 121.1h0M109.4 108.5h0M72.7 123.3h0M93.4 122.8h0M89.6 96.1h0M85.3 102.6h0M80.3 99.1h0M41.4 111.2h0M82.1 116.9h0M53.2 128.4h0M55.7 111.4h0M60.9 99.1h0M103.6 110.6h0M66.7 106.3h0M155.7 101.8h0M75.1 98.6h0M67.7 115.4h0M70.6 94.0h0M73.2 87.0h0M110.6 79.2h0M72.6 72.6h0M81.7 109.2h0M96.2 115.2h0M143.4 100.2h0M50.0 91.5h0M113.6 103.8h0M86.9 110.6h0M80.0 119.8h0M80.5 79.8h0M92.1 110.3h0M78.7 101.4h0M94.0 82.8h0M54.3 83.6h0M53.6 72.6h0M153.3 105.5h0M82.3 96.0h0M74.1 93.9h0M52.4 101.6h0M52.8 113.5h0M117.9 99.6h0M73.3 114.5h0M100.3 88.9h0M59.1 118.0h0M93.1 92.9h0M50.1 90.7h0M76.3 71.5h0M41.3 111.6h0M69.0 120.1h0M71.5 125.0h0M133.4 93.9h0M74.9 96.9h0M71.6 105.9h0M66.0 87.7h0M40.7 105.9h0M64.3 85.8h0M99.3 105.6h0M159.0 123.8h0M84.2 111.8h0M61.8 43.3h0M111.4 105.0h0M60.7 97.1h0M130.8 111.9h0M61.8 112.0h0M105.4 100.7h0M77.4 123.3h0M59.1 92.9h0M111.8 124.2h0M145.8 129.0h0M133.0 91.3h0M88.5 112.4h0M73.0 93.6h0M43.0 102.3h0M79.1 113.6h0M42.3 110.5h0M154.3 130.5h0M84.0 99.5h0M55.6 113.9h0M100.6 86.5h0M54.9 107.3h0M63.5 70.7h0M98.3 94.7h0M122.8 108.3h0M93.3 97.4h0M104.1 124.1h0M62.6 87.5h0M87.8 108.3h0M72.8 126.2h0M117.2 96.1h0M78.9 114.5h0M73.1 127.0h0M88.9 89.7h0M98.7 94.4h0M72.6 124.7h0M72.3 98.7h0M107.7 94.7h0M51.0 116.5h0M106.2 124.8h0M52.2 115.6h0M151.5 119.7h0M98.7 117.3h0M62.4 111.7h0M83.7 103.3h0M49.7 99.9h0M116.4 108.1h0M86.0 94.6h0M82.6 59.2h0M124.3 117.5h0M110.9 86.3h0M72.6 103.3h0M71.4 94.2h0M91.8 102.9h0M47.5 82.0h0M92.5 94.8h0M84.2 111.6h0M45.1 81.7h0M106.1 95.8h0M106.2 89.8h0M94.0 100.2h0M69.3 104.1h0M85.2 111.7h0M49.3 100.3h0M92.0 104.8h0M55.5 112.5h0M52.2 113.1h0M85.8 109.4h0M70.0 101.6h0M73.0 96.4h0M102.1 104.7h0M58.1 116.5h0M134.3 118.9h0M98.9 71.4h0M57.1 108.8h0M48.7 116.1h0M71.4 97.4h0M53.6 115.1h0M86.4 120.9h0M63.3 103.8h0M103.7 124.7h0M91.1 102.4h0M90.4 86.6h0M65.2 103.4h0M85.2 114.5h0M61.6 108.2h0M91.8 112.3h0M93.4 70.7h0M66.9 115.2h0M91.0 120.4h0M95.3 45.1h0M70.8 78.3h0M90.2 117.2h0M86.5 78.6h0M42.9 92.6h0M75.4 97.6h0M72.8 119.0h0M79.2 117.9h0M75.5 99.8h0M110.2 110.7h0M49.2 91.1h0M89.7 98.1h0M147.9 110.6h0M77.0 114.1h0M46.2 90.6h0M81.7 103.2h0M86.1 65.9h0M115.5 106.4h0M63.3 82.6h0M63.7 104.6h0M63.9 121.8h0M53.7 84.7h0M84.4 119.9h0M84.0 104.5h0M168.9 108.4h0M70.4 125.6h0M83.8 123.6h0M98.6 94.7h0M65.7 92.9h0M108.7 91.0h0M74.5 44.2h0M132.1 100.6h0M152.6 113.8h0M118.9 96.9h0M95.1 105.6h0M84.8 78.3h0M115.8 103.4h0M49.5 120.1h0M91.0 85.2h0M43.7 97.3h0M61.9 127.9h0M58.8 105.9h0M140.7 100.4h0M68.6 115.7h0M61.0 104.6h0M90.3 94.4h0M54.8 102.9h0M81.8 114.0h0M112.1 120.9h0M47.8 84.5h0M80.7 104.1h0M103.3 78.5h0M78.1 128.9h0M80.8 81.7h0M89.5 75.0h0M49.4 109.5h0M40.0 120.3h0M49.6 123.0h0M108.1 93.8h0M97.7 80.9h0M140.3 118.7h0M52.7 111.8h0M59.6 114.0h0M54.8 93.3h0M95.8 104.6h0M115.4 113.3h0M166.6 133.1h0M78.3 119.3h0M109.3 94.2h0M46.5 120.5h0M61.6 121.6h0M79.8 110.7h0M137.6 107.1h0M46.1 92.2h0M53.5 94.1h0M150.9 110.7h0M95.3 66.6h0M54.2 97.6h0M80.6 94.0h0M105.1 102.3h0M60.6 104.0h0M53.6 60.0h0M88.1 87.1h0M80.6 78.7h0M97.9 98.6h0M75.3 62.8h0M81.4 87.2h0M84.1 127.5h0M103.5 98.0h0M42.2 114.6h0M63.0 119.8h0M97.2 114.5h0M101.2 106.5h0M54.2 80.3h0M187.0 117.8h0M94.6 105.7h0M50.0 121.1h0M39.5 97.4h0M104.4 111.5h0M60.6 91.3h0M139.6 118.4h0M138.3 103.5h0M53.3 125.0h0M110.5 102.1h0M53.6 104.1h0M109.3 108.1h0M49.5 112.8h0M152.1 105.6h0M46.4 83.3h0M77.0 111.4h0M161.8 127.3h0M52.2 88.9h0M78.1 111.3h0M86.0 138.1h0M144.8 111.4h0M46.2 89.1h0M116.9 96.5h0M64.5 128.1h0M62.7 104.6h0M71.6 109.1h0M130.9 119.6h0M77.6 118.3h0M112.5 94.7h0M72.4 120.5h0M157.7 120.9h0M83.4 104.9h0M162.0 122.3h0M89.4 85.1h0M110.6 101.1h0M68.9 91.3h0M104.6 77.3h0M99.1 93.9h0M93.8 117.5h0M58.5 115.8h0M70.4 98.4h0M43.9 115.0h0M45.1 85.5h0M76.2 118.9h0M69.7 97.7h0M116.0 113.1h0M79.9 95.6h0M45.9 97.0h0M128.7 116.2h0M79.0 34.5h0M89.8 95.8h0M100.7 107.1h0M59.5 79.4h0M40.9 91.6h0M72.5 117.4h0M152.2 125.1h0M153.1 125.7h0M123.5 120.3h0M83.9 102.7h0M95.7 100.9h0M69.7 99.5h0M99.9 106.9h0M106.4 106.7h0M107.8 107.9h0M67.0 116.2h0M90.0 107.1h0M87.4 126.1h0M74.3 104.9h0M62.5 122.7h0M41.2 96.3h0M117.0 100.9h0M98.4 111.2h0M130.6 105.3h0M75.7 118.7h0M57.2 59.2h0M57.6 109.1h0M48.7 107.1h0M48.7 119.5h0M70.4 119.9h0M71.3 99.3h0M67.0 126.6h0M77.6 85.4h0M95.7 128.1h0M57.2 119.2h0M87.4 100.9h0M68.1 74.3h0M53.3 129.0h0M110.9 91.7h0M96.1 95.9h0M125.6 123.9h0M120.3 118.1h0M103.3 126.2h0M85.9 78.4h0M44.3 99.6h0M89.9 118.0h0M58.2 82.7h0M100.9 93.8h0M111.8 93.4h0M142.8 124.8h0M72.2 125.3h0M97.3 89.0h0M81.3 89.7h0M88.8 114.5h0M52.6 86.5h0M55.6 82.8h0M78.7 98.7h0M66.4 93.5h0M49.1 112.2h0M75.7 97.9h0M99.7 61.7h0M65.4 98.0h0M50.6 91.5h0M75.9 85.3h0M89.4 78.7h0M47.6 119.8h0M99.0 69.0h0M159.7 110.4h0M46.7 85.9h0M51.1 119.1h0M84.2 119.7h0M87.3 123.7h0M108.9 65.5h0M48.7 119.4h0M143.7 101.0h0M96.4 106.7h0M89.6 104.0h0M100.7 102.2h0M67.8 105.7h0M81.3 117.8h0M66.6 78.7h0M76.3 116.1h0M56.4 127.5h0M80.8 101.2h0M66.8 115.9h0M63.1 123.6h0M94.9 114.7h0M51.4 95.3h0M106.0 107.8h0M104.7 103.5h0M67.3 122.3h0M55.0 120.8h0M57.8 120.3h0M133.1 98.9h0M125.9 86.0h0M90.8 107.3h0M55.4 117.2h0M89.5 103.2h0M103.7 100.5h0M63.1 101.1h0M59.1 103.7h0M70.9 39.5h0M82.6 108.9h0M111.7 99.9h0M108.2 72.9h0M112.7 106.2h0M171.2 123.3h0M79.7 96.6h0M86.4 83.2h0M62.0 87.1h0M70.1 115.5h0M105.0 119.8h0M59.8 76.0h0M104.4 106.5h0M79.7 125.0h0M59.3 82.1h0M81.5 112.3h0M67.8 81.3h0M107.9 67.2h0M118.0 86.9h0M48.4 81.8h0M55.0 93.4h0M56.0 101.4h0M143.4 99.9h0M54.1 91.9h0M96.2 107.8h0M98.6 101.3h0M53.4 95.3h0M61.1 82.0h0M78.1 94.7h0M115.1 125.1h0M97.8 127.2h0M69.0 80.5h0M128.6 112.6h0M77.4 86.3h0M56.7 92.9h0M64.7 98.1h0M64.2 109.3h0M82.5 98.2h0M69.5 121.7h0M111.1 111.9h0M82.8 90.5h0M61.5 116.2h0M106.4 114.4h0M43.1 90.2h0M77.4 97.1h0M47.7 88.1h0M108.1 107.5h0M90.6 117.0h0M68.6 124.8h0M92.1 113.6h0M82.0 96.8h0M87.1 54.8h0M43.9 86.6h0M86.2 110.7h0M63.0 106.4h0M61.8 92.7h0M70.6 117.5h0M107.7 114.2h0M47.1 108.3h0M90.7 84.8h0M57.5 115.6h0M54.5 98.8h0M87.8 70.4h0M76.3 111.7h0M85.3 104.3h0M105.4 88.1h0M75.5 102.1h0M104.3 130.8h0M75.7 129.0h0M129.1 120.6h0M106.9 86.6h0M75.7 88.7h0M109.3 97.8h0M75.7 126.3h0M39.0 102.3h0M47.5 91.7h0M98.9 97.2h0M44.3 89.4h0M48.9 100.5h0M75.1 95.2h0M49.3 96.2h0M72.7 122.7h0M63.5 115.6h0M123.1 123.3h0M91.9 125.0h0M91.5 107.6h0M76.3 54.0h0M95.0 63.4h0M59.0 100.7h0M73.5 38.1h0M99.9 66.3h0M98.0 126.0h0M103.1 105.8h0M92.7 105.0h0M49.8 111.2h0M76.3 100.5h0M55.0 95.5h0M66.3 113.2h0M93.4 92.8h0M75.9 81.5h0M144.8 124.4h0M114.5 118.2h0M168.6 122.5h0M83.4 81.9h0M79.0 107.1h0M115.6 128.0h0M58.1 88.4h0M46.9 90.2h0M78.2 116.2h0M68.8 99.2h0M53.8 92.0h0M89.3 142.3h0M48.1 79.2h0M136.6 113.5h0M160.9 129.0h0M86.0 101.1h0M53.4 74.5h0M69.3 109.6h0M109.1 108.0h0M83.8 127.6h0M62.6 118.2h0M51.5 123.2h0M55.3 97.7h0M73.5 122.5h0M44.7 115.6h0M63.5 125.7h0M83.8 125.1h0M90.5 108.5h0M77.7 112.2h0M81.2 94.3h0M74.9 114.7h0M68.2 108.7h0M94.2 82.6h0M112.6 102.6h0M86.3 123.0h0M103.7 117.7h0M130.0 118.7h0M54.3 92.9h0M116.2 122.9h0M87.0 107.6h0M77.1 99.2h0M94.1 108.7h0M95.3 124.7h0M116.5 111.8h0M92.6 91.5h0M71.9 50.7h0M109.9 117.6h0M61.8 106.9h0M124.3 117.8h0M139.2 90.4h0M138.2 106.7h0M87.7 107.8h0M80.8 70.7h0M71.9 105.4h0M105.7 103.5h0M106.8 115.8h0M94.7 123.7h0M99.1 102.7h0M92.9 103.2h0M88.9 87.8h0M48.2 82.2h0M46.1 123.1h0M98.2 96.7h0M159.5 108.0h0M81.3 30.0h0M40.4 101.5h0M119.4 101.0h0M68.9 97.8h0M127.3 97.0h0M97.9 121.3h0M62.3 88.8h0M89.9 79.3h0M61.6 96.1h0M104.4 73.5h0M99.9 79.3h0M147.1 124.9h0M55.8 88.5h0M65.1 121.5h0M114.7 127.2h0M91.0 113.5h0M82.7 101.3h0M71.8 119.3h0M76.6 118.6h0M96.7 89.2h0M107.2 121.4h0M75.4 117.6h0M52.4 122.0h0M107.0 98.2h0M45.4 119.2h0M90.2 75.4h0M44.8 123.0h0M64.8 110.0h0M53.2 86.3h0M71.5 128.4h0M77.1 93.0h0M60.5 76.7h0M61.4 109.8h0M63.8 82.2h0M83.6 84.2h0M51.5 84.8h0M94.0 114.3h0M91.5 118.8h0M95.7 83.4h0M100.7 125.5h0M62.4 75.7h0M93.4 88.7h0M89.2 106.4h0M58.6 115.3h0M71.9 113.5h0M62.0 83.3h0M50.6 114.1h0M98.9 105.3h0M97.2 107.7h0M56.5 77.4h0M58.4 97.0h0M66.6 107.5h0M68.4 122.0h0M115.2 124.5h0M126.1 100.6h0M67.9 89.9h0M65.8 105.7h0M62.9 85.0h0M60.4 106.3h0M52.5 96.5h0M105.6 88.7h0M80.5 85.1h0M81.3 78.3h0M47.1 112.5h0M76.4 113.6h0M80.5 79.5h0M95.2 104.3h0M116.7 106.7h0M45.9 122.7h0M52.2 106.1h0M113.6 118.6h0M101.2 89.6h0M93.8 116.9h0M187.0 107.4h0M57.3 87.3h0M77.0 105.9h0M93.5 50.9h0M66.3 120.7h0M81.1 103.4h0M86.9 120.8h0M55.4 112.6h0M40.2 106.0h0M53.1 110.3h0M68.9 119.8h0M42.9 98.8h0M95.5 86.2h0M63.3 87.5h0M101.8 61.0h0M89.5 87.5h0M52.9 83.8h0M47.7 84.5h0M90.6 78.6h0M143.9 124.2h0M92.9 94.7h0M93.6 117.4h0M108.5 97.7h0M40.2 109.1h0M126.5 101.9h0M128.7 117.9h0M84.6 102.8h0M118.0 114.9h0M92.3 70.8h0M103.4 113.8h0M97.0 105.8h0M53.7 112.6h0M62.5 91.5h0M55.6 92.9h0M92.8 64.5h0M41.1 93.8h0M57.9 76.9h0M53.9 120.1h0M123.5 95.8h0M81.3 97.5h0M50.6 100.1h0M80.7 127.4h0M101.4 104.5h0M122.1 100.1h0M66.6 98.7h0M104.4 117.9h0M110.8 74.9h0M111.8 97.1h0M44.8 123.1h0M76.9 113.0h0M110.5 101.6h0M42.8 109.0h0M81.8 46.8h0M53.9 87.0h0M87.3 86.1h0M62.2 101.4h0M100.9 112.2h0M80.3 111.9h0M68.8 116.1h0M92.0 66.4h0M69.7 127.6h0M72.6 80.1h0M66.4 101.2h0M110.8 109.2h0M63.8 82.0h0M57.2 104.7h0M85.3 90.5h0M70.3 95.6h0M101.4 95.4h0M75.3 75.3h0M114.8 121.8h0M116.9 99.8h0M46.1 122.2h0M73.7 109.4h0M55.2 112.9h0M139.5 86.2h0M47.7 123.1h0M80.7 123.3h0M49.2 80.3h0M113.9 100.9h0M89.8 111.8h0M56.3 111.1h0M87.6 88.1h0M38.6 118.5h0M91.2 104.4h0M81.5 129.7h0M43.4 109.9h0M105.9 105.3h0M148.1 103.5h0M46.3 80.8h0M78.0 97.5h0M75.0 83.6h0M89.4 129.3h0M99.2 96.8h0M65.6 107.0h0M81.7 87.0h0M63.7 86.2h0M72.8 104.7h0M62.9 102.3h0M53.3 87.3h0M105.8 82.5h0M49.7 116.5h0M54.8 83.2h0M141.2 115.5h0M88.0 113.5h0M101.9 76.3h0M53.3 119.7h0M122.1 93.7h0M83.1 117.7h0M110.6 89.3h0M90.5 121.6h0M60.0 50.4h0M77.0 94.8h0M104.7 115.3h0M90.2 101.4h0M90.6 77.5h0M85.1 78.3h0M100.1 90.2h0M41.2 91.2h0M105.4 81.6h0M50.0 96.0h0M90.2 86.9h0M96.4 122.2h0M132.3 107.9h0M64.6 125.9h0M54.5 123.2h0M92.4 99.3h0M59.4 100.7h0M108.8 103.7h0M67.3 86.4h0M74.2 85.0h0M94.4 94.3h0M85.1 63.3h0M82.4 69.4h0M122.5 106.5h0M58.1 113.8h0M91.4 94.1h0M41.6 112.6h0M63.3 99.0h0M42.4 89.0h0M41.2 99.5h0M69.6 74.6h0M71.7 119.6h0M106.7 101.8h0M51.0 81.2h0M71.1 91.5h0M56.0 96.8h0M90.3 127.3h0M65.3 113.5h0M80.7 118.9h0M94.4 126.1h0M73.1 123.9h0M106.7 112.3h0M56.9 70.0h0M83.5 66.3h0M87.2 90.3h0M89.7 95.2h0M80.1 106.0h0M86.3 71.5h0M87.3 89.8h0M55.6 120.4h0M48.9 76.0h0M76.4 103.9h0M57.6 113.3h0M66.6 124.6h0M42.6 117.6h0M95.0 56.0h0M45.3 81.4h0M49.6 109.2h0M49.5 121.9h0M74.6 113.7h0M75.9 82.6h0M55.7 85.6h0M60.5 94.6h0M55.9 115.2h0M70.0 124.6h0M73.1 108.7h0M70.0 75.0h0M115.3 103.7h0M106.1 75.2h0M95.8 116.0h0M94.4 77.9h0M145.9 120.8h0M117.5 101.5h0M43.9 107.8h0M46.5 89.2h0M118.7 116.1h0M44.5 94.4h0M102.0 108.0h0M87.9 96.9h0M105.2 105.5h0M46.1 122.7h0M80.3 93.0h0M79.5 118.5h0M61.0 96.1h0M67.1 61.9h0M53.7 122.2h0M146.0 123.5h0M167.5 127.4h0M90.0 82.1h0M61.1 110.7h0M101.0 103.4h0M98.2 92.1h0M73.6 105.5h0M96.9 103.6h0M67.3 101.0h0M89.7 118.5h0M100.0 127.7h0M53.5 70.7h0M78.4 77.6h0M104.8 118.6h0M54.9 81.8h0M83.9 113.6h0M87.9 98.3h0M59.5 91.5h0M41.7 96.0h0M81.0 118.1h0M100.0 124.5h0M71.5 111.9h0M153.5 129.2h0M107.4 85.0h0M133.5 125.4h0M97.4 114.2h0M108.0 110.8h0M127.7 95.0h0M120.4 119.6h0M67.5 84.7h0M112.0 103.6h0M143.8 97.9h0M51.5 127.6h0M96.6 107.4h0M88.3 90.6h0M55.8 106.3h0M110.8 88.5h0M59.9 85.4h0M77.8 89.2h0M85.4 115.2h0M93.0 120.1h0M100.6 94.7h0M91.9 102.4h0M51.9 100.9h0M78.1 118.8h0M48.5 119.0h0M101.7 97.8h0M74.0 93.9h0M131.8 110.5h0M59.3 124.7h0M102.1 102.9h0M76.9 110.0h0M54.0 113.5h0M67.0 107.6h0M91.7 89.0h0M88.8 121.2h0M89.5 112.4h0M81.0 94.8h0M60.2 117.8h0M95.2 109.5h0M62.2 81.8h0M60.6 114.9h0M49.0 77.7h0M61.1 85.8h0M119.3 95.8h0M106.2 104.8h0M61.2 81.5h0M66.5 125.2h0M73.7 107.5h0M120.0 113.2h0M46.5 92.4h0M62.1 93.3h0M68.1 122.6h0M43.0 85.8h0M80.1 104.6h0M117.4 115.3h0M66.0 118.1h0M75.3 57.6h0M118.3 115.3h0M41.2 108.8h0M90.6 84.1h0M59.6 104.2h0M69.7 112.7h0M110.8 106.9h0M69.7 100.1h0M57.2 86.5h0M64.6 122.8h0M76.7 99.6h0M99.0 65.5h0M92.6 56.6h0M74.2 117.6h0M71.5 72.1h0M62.7 101.9h0M98.1 116.8h0M95.6 121.0h0M82.9 113.3h0M51.8 80.2h0M78.1 56.6h0M84.2 105.7h0M106.7 116.8h0M49.2 77.1h0M53.9 118.2h0M40.7 90.6h0M71.9 49.0h0M58.2 114.1h0M90.7 118.9h0M78.9 97.3h0M119.5 116.2h0M88.4 105.0h0M62.2 115.2h0M87.9 116.7h0M43.1 125.7h0M90.3 88.5h0M63.5 119.6h0M60.4 127.5h0M64.5 71.6h0M113.8 88.3h0M48.4 82.5h0M98.8 126.4h0M55.2 95.9h0M96.9 83.8h0M51.0 89.1h0M87.3 99.6h0M74.1 112.5h0M51.9 124.8h0M59.9 116.9h0M48.9 88.3h0M119.3 106.0h0M196.3 109.9h0M72.5 75.3h0M104.5 117.6h0M99.2 120.3h0M115.6 89.5h0M94.2 56.4h0M90.4 94.6h0M77.5 94.0h0M98.1 120.5h0M42.0 104.5h0M80.3 117.1h0M70.2 109.4h0M62.6 84.9h0M60.8 122.5h0M109.8 100.3h0M93.6 131.4h0M121.5 103.7h0M50.9 110.1h0M108.5 89.9h0M56.3 80.5h0M96.5 107.1h0M125.4 110.2h0M138.1 106.5h0M61.4 89.8h0M67.8 83.8h0M114.1 130.1h0M102.0 113.4h0M91.2 86.3h0M78.5 116.2h0M116.3 103.6h0M103.3 78.4h0M113.1 103.2h0M49.9 116.1h0M128.7 126.0h0M72.5 88.6h0M92.0 129.2h0M66.2 80.1h0M73.9 106.2h0M48.7 87.7h0M107.7 124.0h0M66.5 118.9h0M75.3 105.0h0M92.5 112.7h0M65.3 109.6h0M51.6 100.0h0M49.6 117.9h0M114.7 116.8h0M111.5 108.9h0M143.1 97.4h0M124.8 123.7h0M44.9 95.1h0M134.1 111.4h0M79.8 100.7h0M105.2 104.6h0M134.9 117.0h0M104.9 126.4h0M94.9 106.8h0M96.0 107.3h0M80.2 124.5h0M121.1 94.7h0M52.3 90.1h0M48.9 86.6h0M115.1 121.6h0M109.3 116.0h0M57.2 112.2h0M89.0 116.6h0M56.3 73.0h0M89.4 117.5h0M83.3 108.8h0M90.8 103.8h0M154.3 121.4h0M73.7 81.2h0M79.0 98.2h0M97.5 104.2h0M101.3 105.5h0M52.6 115.1h0M103.9 123.6h0M78.2 93.3h0M95.7 121.0h0M51.9 87.4h0M58.6 110.2h0M68.2 112.5h0M88.9 69.9h0M55.6 78.2h0M133.9 124.1h0M82.3 112.0h0M93.9 111.0h0M72.0 94.1h0M58.3 79.3h0M70.6 116.7h0M81.2 96.6h0M66.6 102.6h0M54.6 84.8h0M67.9 123.5h0M70.3 105.3h0M61.1 87.4h0M76.5 121.6h0M50.6 75.2h0M58.6 88.6h0M96.0 90.2h0M57.6 99.1h0M109.6 86.2h0M74.5 122.5h0M139.9 124.7h0M89.2 79.4h0M105.7 107.9h0M74.0 108.0h0M54.5 88.5h0M73.9 67.9h0M86.3 100.7h0M87.4 119.8h0M91.3 123.1h0M79.2 105.1h0M72.6 87.6h0M106.1 93.1h0M114.5 87.5h0M125.6 111.3h0M59.5 105.9h0M102.5 117.8h0M70.0 107.6h0M101.0 109.3h0M120.4 121.5h0M91.5 96.2h0M73.6 126.3h0M42.0 110.9h0M103.3 97.2h0M76.5 91.4h0M78.4 92.2h0M78.8 79.3h0M163.6 118.3h0M81.3 116.0h0M70.4 89.5h0M160.9 130.0h0M72.2 88.7h0M60.0 114.0h0M48.7 121.0h0M63.0 98.9h0M102.6 109.2h0M95.2 117.3h0M60.4 126.8h0M79.6 101.0h0M90.5 83.4h0M84.0 100.7h0M50.5 94.1h0M80.8 109.5h0M58.1 87.0h0M92.4 93.3h0M64.7 108.6h0M93.9 118.9h0M158.6 119.8h0M85.8 113.2h0M44.5 89.0h0M136.5 108.3h0M108.5 103.4h0M97.4 107.9h0M93.3 81.1h0M86.4 105.9h0M112.0 70.9h0M77.7 104.8h0M124.7 108.7h0M100.5 110.4h0M88.0 126.4h0M74.7 82.0h0M76.8 122.2h0M93.2 98.8h0M56.6 103.1h0M100.3 109.1h0M94.9 121.2h0M76.8 97.5h0M66.8 125.8h0M61.8 81.4h0M50.3 104.1h0M55.0 116.5h0M51.5 82.6h0M69.3 116.8h0M84.2 113.3h0M39.8 94.8h0M46.5 121.8h0M101.1 124.4h0M84.7 100.9h0M89.6 73.1h0M86.3 127.0h0M69.7 116.3h0M49.3 109.8h0M106.3 99.0h0M43.8 95.9h0M82.9 97.0h0M93.8 54.0h0M108.3 79.8h0M89.3 90.8h0M62.7 100.2h0M92.8 111.4h0M63.4 116.5h0M104.8 123.4h0M71.9 90.9h0M82.7 116.5h0M39.0 102.3h0M106.4 116.2h0M58.0 98.3h0M56.6 80.8h0M101.9 78.2h0M80.0 91.3h0M66.3 78.4h0M99.6 90.1h0M127.8 93.4h0M74.7 116.8h0M57.2 122.2h0M61.4 74.8h0M84.0 113.8h0M38.0 99.0h0M87.4 74.0h0M104.2 108.5h0M81.5 90.8h0M75.4 104.6h0M40.3 105.5h0M50.2 104.2h0M85.5 91.8h0M117.6 122.5h0M64.5 97.7h0M108.2 99.3h0M109.8 96.2h0M100.5 99.5h0M79.7 118.6h0M60.5 98.0h0M76.7 120.7h0M58.3 109.8h0M50.0 61.9h0M77.8 90.3h0M120.6 108.2h0M70.6 89.9h0M81.7 117.7h0M85.8 101.7h0M47.3 101.5h0M62.3 118.6h0M101.9 65.9h0M103.8 89.6h0M129.2 129.9h0M78.0 93.6h0M79.4 118.0h0M87.6 104.4h0M57.9 86.1h0M74.8 85.5h0M148.4 122.4h0M126.6 94.1h0M60.8 64.5h0M44.2 120.1h0M105.3 92.7h0M138.0 109.2h0M51.2 99.3h0M82.0 93.0h0M75.7 125.2h0M72.9 103.2h0M109.6 110.7h0M123.0 114.1h0M97.7 79.9h0M95.8 123.0h0M94.5 113.9h0M52.3 80.3h0M56.9 99.4h0M87.7 85.5h0M61.3 96.2h0M45.3 94.1h0M114.9 95.0h0M90.2 102.5h0M111.8 55.8h0M126.1 101.5h0M61.5 104.2h0M105.6 119.5h0M58.1 110.8h0M57.5 88.5h0M93.1 115.0h0M40.7 107.3h0M129.1 103.6h0M82.8 93.2h0M105.7 70.5h0M144.6 103.9h0M54.5 67.3h0M60.6 88.1h0M46.2 86.0h0M90.1 102.9h0M71.5 85.8h0M77.3 107.0h0M70.2 129.3h0M100.6 104.1h0M65.0 79.7h0M81.1 101.0h0M76.2 91.6h0M127.3 100.8h0M78.3 121.4h0M59.2 117.6h0M64.3 118.0h0M79.2 124.7h0M87.6 81.7h0M111.9 107.3h0M122.1 126.5h0M88.1 71.7h0M62.6 124.0h0M106.8 106.8h0M117.9 98.8h0M68.1 41.5h0M53.9 110.0h0M128.8 121.1h0M112.2 96.4h0M62.9 112.7h0M152.7 121.1h0M94.3 44.6h0M103.4 84.6h0M80.3 127.3h0M63.8 102.5h0M66.0 80.8h0M124.2 96.7h0M59.6 114.1h0M80.3 80.9h0M146.8 103.5h0M56.5 93.8h0M117.4 122.5h0M64.8 91.5h0M64.2 89.9h0M81.1 87.6h0M60.0 108.9h0M45.2 91.6h0M51.9 112.5h0M78.9 109.6h0M100.6 122.6h0M66.9 97.4h0M121.4 126.4h0M55.2 107.8h0M82.1 95.5h0M68.1 76.2h0M111.2 108.9h0M65.7 109.6h0M54.1 111.6h0M45.2 112.9h0M70.3 83.0h0M60.5 123.4h0M135.3 120.9h0M122.9 112.2h0M105.8 88.0h0M54.6 99.6h0M61.8 124.1h0M63.5 120.0h0M108.9 89.9h0M83.4 116.1h0M93.9 104.5h0M73.3 107.4h0M85.2 81.5h0M74.9 105.5h0M51.0 91.6h0M117.9 104.6h0M56.2 96.7h0M76.0 125.4h0M55.1 110.4h0M81.7 88.9h0M75.7 100.4h0M89.9 112.3h0M59.6 98.3h0M93.1 82.8h0M57.5 119.3h0M116.4 122.8h0M91.3 128.6h0M108.3 108.3h0M55.7 100.0h0M94.8 55.8h0M100.5 103.9h0M100.4 111.4h0M58.1 118.7h0M80.0 93.6h0M59.9 92.3h0M87.6 125.1h0M81.8 95.3h0M80.7 113.9h0M73.9 93.4h0M95.8 132.9h0M60.0 88.8h0M54.9 117.3h0M84.7 103.2h0M88.7 99.2h0M84.2 102.1h0M131.4 91.4h0M102.5 102.8h0M56.6 98.5h0M65.4 121.8h0M61.3 124.3h0M46.8 113.7h0M82.2 86.8h0M70.2 90.7h0M66.6 102.6h0M47.6 99.6h0M69.7 113.6h0M67.8 112.4h0M102.1 109.8h0M49.5 109.5h0M45.8 94.2h0M92.6 116.8h0M56.4 94.6h0M109.3 88.2h0M135.9 111.9h0M77.1 38.9h0M85.3 103.0h0M93.5 127.9h0M83.7 104.9h0M64.1 112.7h0M56.7 93.6h0M43.5 113.9h0M77.6 114.9h0M75.9 89.8h0M47.1 107.8h0M65.0 125.3h0M106.7 102.8h0M64.2 113.2h0M48.4 116.8h0M50.7 112.0h0M79.4 120.9h0M98.6 123.5h0M43.7 121.6h0M67.0 89.5h0M67.8 84.8h0M71.6 106.4h0M84.6 107.6h0M37.8 107.9h0M118.2 122.6h0M96.3 104.9h0M59.0 130.8h0M76.7 98.4h0M70.4 105.2h0M44.2 105.0h0M129.0 118.7h0M131.4 106.1h0M77.2 107.6h0M90.4 110.2h0M71.5 77.9h0M116.8 93.1h0M99.0 74.5h0M49.2 102.1h0M86.7 87.5h0M86.7 110.5h0M70.4 99.2h0M113.1 112.7h0M146.9 124.6h0M70.6 108.1h0M82.0 78.0h0M77.1 65.5h0M48.4 123.2h0M95.6 113.6h0M163.9 115.2h0M66.4 98.8h0M92.6 61.9h0M158.5 108.6h0M44.2 87.1h0M90.2 111.9h0M108.6 117.3h0M46.4 108.0h0M87.1 76.1h0M145.1 127.5h0M64.4 102.2h0M98.9 72.0h0M50.4 99.6h0M90.2 116.4h0M57.9 122.4h0M76.0 88.4h0M67.7 91.9h0M60.5 109.7h0M64.5 128.8h0M47.6 115.1h0M139.2 107.0h0M95.4 96.9h0M85.6 117.4h0M79.6 107.9h0M72.3 69.5h0M113.0 120.6h0M40.4 113.5h0M47.4 96.0h0M126.2 127.1h0M80.2 93.6h0M50.1 97.9h0M70.2 90.1h0M70.9 40.3h0M112.6 114.4h0M128.3 92.2h0M74.7 117.0h0M73.3 46.3h0M65.6 82.2h0M67.6 84.6h0M97.3 104.5h0M132.8 117.0h0M99.5 127.4h0M76.6 86.0h0M81.9 86.7h0M155.2 104.2h0M52.9 115.0h0M78.1 115.1h0M54.4 101.2h0M146.8 99.2h0M86.2 124.4h0M73.2 104.9h0M122.9 106.3h0M101.6 84.8h0M102.0 101.4h0M114.4 106.1h0M126.7 94.4h0M133.3 96.3h0M87.6 118.5h0M123.4 108.0h0M113.5 121.7h0M67.0 90.8h0M106.6 89.1h0M76.2 111.1h0M57.9 110.0h0M131.5 121.3h0M60.2 91.0h0M165.7 105.8h0M79.8 103.9h0M110.2 119.1h0M59.5 103.6h0M86.9 97.6h0M82.8 82.2h0M56.7 123.0h0M91.1 90.8h0M130.1 129.7h0M77.6 115.4h0M61.2 113.2h0M112.2 110.8h0M72.6 80.6h0M40.8 98.0h0M46.3 118.8h0M87.7 108.1h0M87.1 61.9h0M38.4 104.7h0M74.0 115.0h0M47.8 94.6h0M61.7 129.0h0M80.3 128.4h0M59.6 101.0h0M114.7 108.2h0M82.0 99.6h0M104.3 124.6h0M95.5 82.4h0M59.0 55.8h0M86.0 86.6h0M80.8 113.0h0M59.7 118.2h0M119.6 102.0h0M75.8 94.3h0M165.6 123.2h0M162.5 119.2h0M94.3 80.1h0M149.1 123.1h0M88.3 101.7h0M54.6 107.7h0M72.1 49.7h0M73.1 93.6h0M115.4 117.3h0M54.0 109.0h0M44.9 89.4h0M71.6 108.1h0M51.4 102.9h0M124.2 123.9h0M86.9 87.3h0M53.1 91.7h0M89.8 112.6h0M52.7 91.4h0M43.8 93.4h0M89.9 124.6h0M100.1 99.5h0M48.3 108.5h0M78.2 84.4h0M50.7 101.7h0M48.0 82.0h0M102.1 118.8h0M95.7 101.8h0M95.3 124.5h0M112.5 125.1h0M126.8 116.1h0M105.9 121.5h0M75.8 95.6h0M108.3 80.2h0M55.3 78.6h0M75.4 112.9h0M46.3 80.7h0M57.6 114.5h0M124.7 125.5h0M61.1 114.4h0M115.0 126.6h0M65.4 91.0h0M50.8 116.0h0M71.4 113.5h0M55.1 125.0h0M96.2 109.4h0M50.6 84.1h0M98.5 123.4h0M61.6 118.2h0M45.4 108.1h0M90.9 77.5h0M89.2 77.9h0M106.4 93.6h0M71.7 84.3h0M128.0 102.6h0M86.8 105.0h0M69.0 114.3h0M154.1 119.6h0M99.1 105.6h0M62.2 89.2h0M97.2 92.7h0M133.7 113.0h0M115.2 85.7h0M66.5 125.8h0M60.6 118.8h0M106.0 102.5h0M83.5 93.7h0M71.9 127.5h0M108.9 103.3h0M70.0 94.7h0M80.6 95.7h0M76.5 92.8h0M92.9 82.2h0M82.9 101.9h0M65.1 124.8h0M77.3 116.6h0M102.3 58.9h0M79.1 115.9h0M104.9 113.4h0M67.6 97.4h0M158.5 105.0h0M97.5 85.6h0M149.9 103.2h0M50.7 100.2h0M61.1 92.9h0M63.5 84.3h0M144.8 119.0h0M75.7 109.7h0M100.3 83.5h0M41.6 101.4h0M62.2 95.3h0M79.5 112.9h0M60.6 101.6h0M146.1 110.7h0M77.1 97.0h0M61.8 123.3h0M96.9 98.2h0M42.4 101.0h0M77.1 107.8h0M88.0 69.8h0M39.2 117.9h0M118.4 109.6h0M82.1 117.8h0M79.9 111.7h0M90.9 118.9h0M124.7 109.9h0M96.3 129.2h0M83.1 58.6h0M57.4 117.0h0M126.2 110.3h0M102.7 87.7h0M82.5 113.5h0M60.7 122.9h0M118.5 116.0h0M96.4 82.2h0M94.6 115.0h0M127.7 119.1h0M50.8 105.7h0M74.6 108.1h0M105.8 90.6h0M73.5 79.7h0M56.6 123.9h0M92.9 121.7h0M118.3 112.9h0M87.2 75.7h0M122.7 98.5h0M40.6 121.4h0M145.0 106.6h0M51.9 82.3h0M40.1 87.9h0M62.3 110.3h0M87.2 119.1h0M128.9 72.0h0M53.3 102.8h0M121.4 87.5h0M77.6 131.9h0M53.7 123.7h0M86.4 81.3h0M146.7 123.7h0M70.4 114.2h0M115.8 102.8h0M71.8 66.3h0M94.9 110.0h0M76.1 101.2h0M98.1 77.9h0M141.7 109.8h0M69.2 73.4h0M139.2 117.8h0M53.2 117.4h0M105.4 102.6h0M89.6 80.3h0M75.7 85.0h0M146.6 127.0h0M97.7 125.0h0M69.4 119.0h0M68.6 121.0h0M91.7 111.8h0M100.5 79.3h0M48.1 88.0h0M58.6 114.2h0M97.8 94.2h0M87.1 99.0h0M122.4 103.7h0M114.3 100.6h0M128.1 71.5h0M99.5 104.6h0M41.2 100.9h0M97.6 98.1h0M89.5 89.5h0M97.2 102.4h0M102.0 116.0h0M56.5 94.0h0M104.8 86.9h0M98.0 55.4h0M77.2 108.0h0M43.7 96.9h0M135.1 124.7h0M107.1 78.8h0M86.4 69.4h0M97.3 112.5h0M75.1 89.7h0M87.4 97.8h0M80.7 91.0h0M53.5 98.8h0M112.0 103.1h0M65.5 125.1h0M57.5 120.9h0M84.5 97.7h0M81.8 75.8h0M127.7 101.0h0M64.0 112.1h0M70.8 127.2h0M100.8 128.8h0M66.7 115.5h0M98.0 97.3h0M95.4 82.2h0M72.4 107.5h0M56.8 91.8h0M100.4 92.1h0M87.0 116.5h0M99.3 116.1h0M152.4 116.8h0M58.8 80.8h0M101.8 79.3h0M53.1 121.2h0M65.6 93.9h0M71.4 79.8h0M59.5 108.6h0M63.3 123.5h0M68.5 80.9h0M118.6 127.2h0M73.8 115.1h0M102.7 123.3h0M81.6 106.1h0M105.8 114.2h0M75.5 107.5h0M82.8 103.1h0M99.6 58.5h0M53.0 108.5h0M84.8 120.9h0M68.5 104.1h0M100.0 86.9h0M85.3 46.8h0M65.9 91.5h0M47.0 107.0h0M42.8 88.8h0M88.1 98.6h0M113.6 113.4h0M58.2 76.1h0M102.0 89.1h0M104.0 114.4h0M79.5 112.2h0M48.2 94.8h0M64.0 127.7h0M96.6 121.8h0M38.5 106.9h0M60.2 78.1h0M103.8 101.6h0M49.3 103.2h0M80.4 113.7h0M105.3 59.2h0M134.6 112.0h0M75.0 122.5h0M60.1 90.9h0M46.0 96.8h0M104.1 103.2h0M127.6 118.9h0M48.8 87.5h0M49.8 101.5h0M57.6 97.0h0M92.4 81.6h0M41.3 89.0h0M86.3 113.9h0M105.1 113.3h0M105.7 98.3h0M103.2 101.3h0M85.6 89.8h0M100.4 63.0h0M78.0 92.7h0M142.1 100.2h0M132.5 116.9h0M131.5 113.0h0M67.0 107.0h0M47.2 113.7h0M45.1 110.4h0M67.5 110.8h0M54.1 105.6h0M85.4 103.2h0M68.4 119.4h0M79.4 112.9h0M89.0 94.1h0M119.7 129.3h0M58.3 89.1h0M75.8 89.8h0M88.3 79.8h0M154.0 103.7h0M111.0 104.8h0M40.9 86.8h0M106.7 98.5h0M77.2 55.7h0M89.1 114.0h0M141.7 125.2h0M60.3 120.7h0M45.9 110.0h0M44.0 114.5h0M94.3 110.3h0M68.9 125.2h0M95.5 80.8h0M93.3 66.2h0M81.1 82.3h0M49.4 98.3h0M124.3 99.0h0M98.2 63.9h0M48.0 82.5h0M50.2 90.3h0M93.0 87.4h0M95.9 118.4h0M76.0 124.6h0M129.7 125.5h0M157.7 114.4h0M123.0 113.0h0M75.1 100.7h0M112.9 123.3h0M56.2 111.5h0M51.5 84.6h0M80.2 91.7h0M62.5 95.5h0M64.5 89.4h0M62.7 107.3h0M103.8 117.8h0M68.2 98.7h0M46.5 111.0h0M119.3 123.4h0M64.4 102.8h0M64.5 80.0h0M42.8 92.1h0M52.0 104.7h0M148.6 123.2h0M90.7 96.5h0M75.1 105.3h0M52.8 118.5h0M59.0 89.1h0M97.5 124.7h0M66.8 102.5h0M134.4 98.4h0M67.6 81.1h0M77.7 92.0h0M54.7 98.9h0M87.5 97.6h0M76.9 127.0h0M81.0 94.1h0M39.3 116.7h0M47.0 84.9h0M101.1 123.9h0M79.4 77.4h0M97.2 92.4h0M75.8 98.8h0M77.0 89.5h0M59.2 88.0h0M58.7 93.3h0M102.8 77.6h0M88.9 119.2h0M113.5 120.8h0M54.4 100.1h0M108.9 120.0h0M80.8 120.7h0M146.5 74.0h0M86.1 81.1h0M56.5 86.8h0M108.8 113.2h0M71.5 75.9h0M48.1 81.6h0M45.4 91.2h0M50.7 110.8h0M85.5 87.3h0M89.4 83.2h0M39.5 114.2h0M43.6 99.8h0M91.4 123.7h0M114.1 113.6h0M65.4 90.2h0M95.6 121.7h0M101.4 108.8h0M41.4 95.5h0M133.7 119.5h0M58.5 95.1h0M98.1 121.8h0M42.3 117.0h0M43.2 98.7h0M78.8 85.4h0M98.6 118.2h0M55.7 108.0h0M74.8 95.4h0M94.4 47.8h0M110.2 117.6h0M83.9 120.4h0M129.7 124.3h0M61.6 118.1h0M79.5 96.6h0M166.6 107.2h0M59.3 76.5h0M64.8 127.3h0M47.4 99.0h0M60.1 112.1h0M92.4 106.7h0M76.1 91.2h0M71.5 106.8h0M74.4 119.8h0M143.3 124.5h0M65.5 126.6h0M82.3 88.9h0M68.7 115.8h0M52.6 87.9h0M91.1 119.5h0M64.9 83.0h0M47.7 81.6h0M102.8 115.7h0M72.2 80.3h0M102.9 115.0h0M58.2 126.8h0M68.0 121.9h0M57.9 106.5h0M43.7 110.0h0M75.6 89.7h0M87.2 94.7h0M77.2 119.3h0M85.8 101.9h0M92.3 126.9h0M71.3 103.5h0M53.1 105.5h0M69.4 95.3h0M46.9 88.5h0M53.3 109.3h0M56.8 80.1h0M59.4 103.1h0M54.9 95.9h0M48.6 98.8h0M52.0 126.1h0M68.6 83.9h0M73.8 121.1h0M58.5 117.9h0M79.7 78.9h0M142.1 114.5h0M80.3 123.4h0M112.0 126.6h0M105.1 110.0h0M118.1 110.8h0M47.8 90.5h0M87.1 129.5h0M83.4 84.9h0M81.8 76.2h0M88.5 82.3h0M88.1 119.4h0M92.5 52.6h0M54.4 90.2h0M80.5 82.9h0M96.0 126.5h0M84.9 127.0h0M81.2 96.2h0M63.1 118.8h0M147.0 114.4h0M97.1 54.8h0M91.7 117.1h0M40.4 117.0h0M50.8 92.8h0M83.5 113.6h0M96.7 94.2h0M77.6 106.8h0M93.3 56.0h0M74.5 125.3h0M81.4 104.7h0M57.0 105.3h0M61.9 92.0h0M122.3 93.8h0M53.4 73.3h0M92.2 109.3h0M126.2 95.0h0M69.5 108.3h0M111.9 133.2h0M102.5 93.2h0M92.8 85.3h0M86.5 92.3h0M115.8 98.3h0M71.6 119.3h0M107.2 124.0h0M49.9 82.9h0M141.4 116.5h0M60.0 97.8h0M72.2 74.8h0M51.1 92.7h0M120.2 106.3h0M59.3 91.9h0M82.7 100.0h0M65.7 120.4h0M100.8 109.7h0M44.2 106.1h0M63.6 119.3h0M93.3 127.1h0M63.9 121.5h0M79.0 112.8h0M46.6 115.4h0M100.2 108.6h0M94.8 98.7h0M53.9 98.7h0M57.8 105.4h0" stroke="#ffe014" stroke-width="2.20" stroke-linecap="round" fill="none"/>
<path d="M63.5 77.8h0M62.8 80.7h0M57.8 81.4h0M63.5 83.5h0M61.4 86.4h0M64.2 87.1h0M67.8 88.5h0M62.1 89.9h0M60.0 91.4h0M66.4 91.4h0M62.8 93.5h0M67.8 93.5h0M59.2 95.6h0M64.9 96.4h0M55.7 97.1h0M60.7 98.5h0M63.5 99.2h0M71.4 97.8h0M59.2 100.6h0M65.7 102.1h0M68.5 102.8h0M57.8 103.5h0M62.1 104.2h0M73.5 104.2h0M64.9 105.6h0M67.8 106.3h0M70.6 106.8h0M74.9 107.3h0M53.5 107.0h0M56.4 107.7h0M60.7 108.5h0M66.4 109.2h0M63.5 110.6h0M69.2 110.6h0M75.6 109.9h0M59.2 112.0h0M53.5 112.7h0M57.8 114.2h0M67.8 113.4h0M73.5 114.2h0M77.8 112.7h0M50.7 118.4h0M57.8 117.0h0M63.5 117.7h0M89.2 87.1h0M92.0 102.8h0M47.8 109.9h0M52.1 92.8h0M79.2 97.8h0M87.7 112.7h0M89.2 95.6h0M105.8 58.0h0M104.9 72.7h0M113.1 76.5h0M64.5 75.1h0M103.3 81.1h0M102.1 85.2h0M95.1 87.1h0M90.3 88.2h0M97.6 91.7h0M91.4 107.2h0M87.8 113.9h0M83.0 114.3h0M98.9 113.2h0M121.7 113.2h0M138.2 83.6h0M128.4 115.3h0M138.2 118.0h0M146.9 121.8h0M154.7 123.4h0M63.2 80.2h0M64.5 88.2h0M62.0 93.8h0M78.0 99.8h0M60.8 102.6h0M73.0 104.2h0M66.8 108.3h0M57.0 110.2h0M75.5 112.3h0M54.7 115.3h0M71.8 113.9h0M64.5 110.2h0" stroke="#00bfff" stroke-width="2.20" stroke-linecap="round" fill="none"/>
</g>
<g clip-path="url(#c_tsne)">
<path d="M75.0 195.1h0M76.4 200.1h0M122.3 205.1h0M165.4 270.3h0M111.5 201.9h0M116.7 200.8h0M121.5 199.4h0M128.3 190.5h0M130.2 188.6h0M100.8 277.2h0M102.6 291.6h0M93.8 281.3h0M125.0 189.1h0M154.9 258.1h0M161.0 239.9h0M164.7 224.7h0M91.8 247.0h0M85.8 252.2h0M81.8 259.7h0M80.1 238.3h0M73.6 233.4h0M68.7 226.8h0M79.4 201.5h0M143.6 290.0h0M132.9 279.6h0M137.5 269.5h0M138.8 266.5h0M139.6 264.1h0M113.7 281.2h0M114.9 278.8h0M117.1 277.2h0M126.3 272.3h0M55.8 253.9h0M53.3 254.2h0M48.1 253.7h0M50.3 263.2h0M141.3 188.2h0M142.3 185.4h0M145.3 199.2h0M144.5 202.0h0M93.2 228.2h0M106.7 202.7h0M79.2 233.9h0M82.1 242.3h0M81.8 245.2h0M82.6 248.1h0M83.6 250.9h0M81.7 256.3h0M76.3 280.8h0M74.9 286.7h0M53.7 236.2h0M52.5 247.3h0M45.1 259.0h0M47.6 260.1h0M80.4 214.1h0M72.6 211.8h0M70.0 211.6h0M77.4 201.0h0M106.8 254.9h0M110.8 262.3h0M112.8 273.5h0M114.7 293.6h0M147.1 241.3h0M135.8 247.3h0M142.9 256.3h0M143.7 264.9h0M150.3 273.7h0M154.2 277.0h0M156.5 278.3h0M158.4 280.2h0M159.9 282.8h0M86.7 270.0h0M86.3 267.5h0M74.2 256.8h0M72.0 265.5h0M73.0 274.0h0M85.2 285.1h0M133.4 240.5h0M135.8 251.3h0M133.6 273.7h0M133.8 276.8h0M163.0 194.9h0M155.6 209.7h0M151.7 213.5h0M149.6 215.5h0M42.7 254.8h0M40.9 255.4h0M46.4 260.0h0M53.9 257.9h0M126.9 184.6h0M118.7 180.7h0M95.7 262.4h0M91.9 252.2h0M111.6 208.4h0M111.9 194.2h0M113.3 188.7h0M114.8 180.1h0M116.5 182.0h0M118.8 183.6h0M184.9 225.3h0M189.5 230.0h0M110.8 196.8h0M106.2 195.6h0M101.1 195.6h0M95.6 196.7h0M93.3 196.4h0M88.4 198.3h0M83.9 200.2h0M79.6 203.3h0M72.2 205.9h0M66.8 205.4h0M108.5 240.1h0M100.9 241.2h0M139.6 229.6h0M137.8 240.8h0M135.9 249.2h0M131.5 263.1h0M58.1 218.9h0M63.1 225.2h0M64.6 236.5h0M100.0 199.0h0M98.0 200.8h0M92.0 210.0h0M152.9 266.5h0M154.8 255.1h0M157.2 247.4h0M110.9 224.5h0M108.2 224.7h0M93.3 226.2h0M86.8 231.0h0M83.5 235.5h0M172.2 223.2h0M172.4 226.2h0M173.2 231.8h0M173.2 237.5h0M67.3 239.0h0M70.6 230.8h0M69.7 211.5h0M68.8 208.8h0M81.1 288.3h0M88.4 285.8h0M95.3 282.2h0M108.1 263.9h0M104.5 267.4h0M100.9 275.0h0M166.2 247.3h0M163.6 247.6h0M110.8 275.8h0M108.7 281.1h0M186.6 235.9h0M185.1 233.6h0M178.6 228.5h0M177.1 226.5h0M77.1 264.0h0M76.8 267.2h0M76.3 270.3h0M75.7 275.7h0M74.2 278.4h0M60.7 220.7h0M58.4 219.4h0M56.4 217.8h0M143.9 205.0h0M145.1 202.4h0M148.2 197.6h0M148.2 197.9h0M165.2 276.4h0M157.7 255.7h0M163.6 270.4h0M181.6 246.8h0M174.7 238.6h0M127.4 251.2h0M127.8 254.5h0M138.3 266.4h0M141.8 273.9h0M128.1 277.8h0M123.6 291.0h0M65.7 272.9h0M90.1 287.4h0M124.1 222.3h0M125.3 219.5h0M129.8 216.3h0M132.3 216.0h0M144.6 211.4h0M127.1 228.2h0M129.2 229.3h0M131.9 229.8h0M136.8 228.9h0M144.9 217.8h0M109.5 183.4h0M111.5 197.7h0M95.8 210.5h0M100.6 212.9h0M102.1 215.8h0M103.6 217.6h0M105.0 220.5h0M106.2 225.7h0M97.9 234.5h0M93.0 234.4h0M121.7 282.7h0M97.3 292.6h0M98.9 281.0h0M157.6 226.4h0M159.8 224.4h0M171.6 219.4h0M43.9 223.9h0M73.1 222.8h0M77.2 229.7h0M66.0 206.1h0M67.6 197.4h0M71.2 205.1h0M70.2 210.9h0M70.6 216.3h0M71.7 219.0h0M74.1 224.0h0M133.5 186.1h0M126.8 190.6h0M122.0 192.3h0M71.8 274.9h0M73.3 260.6h0M151.6 279.3h0M155.0 283.4h0M158.2 288.0h0M152.6 281.6h0M150.1 273.1h0M150.2 219.2h0M149.5 221.9h0M166.4 215.2h0M168.8 213.6h0M170.9 211.7h0M178.4 214.0h0M134.4 294.9h0M128.8 286.4h0M62.4 218.4h0M60.3 210.5h0M56.0 208.9h0M55.0 210.3h0M103.1 199.2h0M108.2 199.8h0M110.6 199.1h0M113.5 198.0h0M52.6 264.1h0M66.4 270.3h0M67.8 272.4h0M170.6 250.0h0M169.3 219.3h0M171.0 217.0h0M101.5 237.2h0M100.7 245.6h0M97.8 250.4h0M159.0 198.2h0M163.7 197.3h0M170.4 215.7h0M118.3 270.0h0M109.6 248.5h0M100.1 239.1h0M92.9 227.2h0M46.5 252.9h0M54.3 250.8h0M88.1 265.3h0M118.0 186.6h0M68.1 269.4h0M67.3 272.1h0M64.2 279.7h0M81.7 202.9h0M76.6 204.0h0M83.0 184.4h0M79.0 191.6h0M67.0 232.3h0M133.6 184.1h0M136.9 188.8h0M142.5 197.8h0M89.4 220.8h0M79.6 223.9h0M76.8 224.8h0M74.6 225.8h0M70.1 229.3h0M65.3 236.0h0M55.8 238.5h0M53.4 238.0h0M111.9 200.3h0M116.6 200.9h0M127.0 193.0h0M70.9 231.4h0M68.4 232.3h0M66.6 234.5h0M53.1 242.9h0M48.8 249.6h0M66.4 201.5h0M116.8 265.1h0M61.1 210.8h0M129.0 199.7h0M75.7 246.3h0M79.8 256.5h0M78.2 265.2h0M144.9 274.0h0M138.7 258.4h0M145.3 259.4h0M151.0 282.7h0M152.4 282.1h0M142.8 192.6h0M147.4 195.3h0M151.6 191.8h0M141.7 194.5h0M51.9 232.8h0M50.7 230.2h0M43.4 222.0h0M46.5 226.6h0M122.7 254.9h0M42.4 223.3h0M62.7 225.5h0M63.8 236.7h0M88.0 271.3h0M85.7 279.3h0M83.2 288.7h0M81.9 286.4h0M54.2 268.2h0M53.4 271.0h0M52.2 268.8h0M48.9 260.9h0M47.4 258.5h0M83.4 245.4h0M85.3 250.7h0M88.5 254.5h0M90.9 268.7h0M91.0 271.6h0M97.8 253.2h0M99.3 247.5h0M100.8 245.1h0M103.0 230.8h0M134.2 250.8h0M141.3 269.5h0M65.1 216.0h0M66.2 218.4h0M68.6 223.8h0M69.2 229.5h0M70.2 232.1h0M162.6 211.5h0M160.0 210.4h0M153.7 206.2h0M134.7 192.7h0M178.9 216.9h0M180.3 219.7h0M179.5 222.5h0M183.9 229.6h0M186.5 230.0h0M124.7 296.6h0M125.6 290.4h0M125.7 287.6h0M124.8 285.0h0M126.6 269.3h0M152.8 241.6h0M102.8 187.2h0M100.2 180.7h0M170.3 253.7h0M170.0 256.7h0M165.2 266.6h0M164.5 272.4h0M151.0 219.1h0M152.4 216.8h0M105.9 291.7h0M107.2 294.1h0M107.2 291.0h0M108.8 277.0h0M109.1 271.4h0M109.8 268.5h0M115.2 262.7h0M89.1 180.6h0M85.9 188.3h0M87.8 196.8h0M91.3 198.8h0M93.5 200.1h0M103.6 209.5h0M104.7 217.1h0M101.2 224.7h0M109.7 266.1h0M165.7 260.4h0M162.9 244.6h0M159.7 239.9h0M158.8 237.1h0M151.7 292.1h0M153.7 290.1h0M159.8 274.7h0M160.0 271.6h0M157.6 263.3h0M155.0 258.2h0M150.8 250.8h0M58.5 246.7h0M53.8 243.4h0M51.2 243.6h0M49.2 245.7h0M45.1 249.3h0M43.4 254.3h0M45.5 252.0h0M156.4 199.3h0M158.6 201.0h0M165.7 203.7h0M168.3 203.0h0M169.4 204.5h0M167.0 205.8h0M143.9 238.3h0M159.9 266.5h0M159.1 269.2h0M155.8 273.9h0M154.3 279.4h0M150.9 283.5h0M148.8 285.6h0M146.8 286.6h0M141.9 293.4h0M78.9 286.8h0M76.7 281.3h0M63.9 263.9h0M61.2 263.6h0M135.3 275.7h0M133.6 277.7h0M130.1 288.4h0M130.9 291.1h0M132.6 293.4h0M133.5 296.4h0M131.9 294.4h0M127.5 290.9h0M123.7 283.2h0M189.2 237.5h0M185.3 233.2h0M180.0 227.6h0M175.2 225.2h0M131.6 227.4h0M141.1 229.2h0M142.4 232.1h0M152.8 205.9h0M154.2 203.3h0M64.2 279.7h0M68.2 283.4h0M55.1 264.5h0M49.9 263.2h0M46.9 263.2h0M89.9 205.3h0M95.8 214.9h0M99.7 222.1h0M101.9 223.9h0M141.6 192.2h0M141.9 189.3h0M136.2 194.8h0M71.7 227.5h0M158.8 270.0h0M151.4 261.9h0M148.0 250.2h0M129.0 281.7h0M128.1 284.4h0M127.4 290.2h0M127.7 290.4h0M128.3 284.3h0M128.1 278.9h0M126.2 276.3h0M123.7 268.4h0M173.2 230.7h0M171.1 236.0h0M171.5 241.8h0M171.4 247.2h0M169.2 252.9h0M170.0 257.8h0M172.3 263.4h0M151.9 227.2h0M151.4 224.3h0M150.6 221.4h0M150.3 218.4h0M183.9 232.1h0M185.6 226.5h0M187.6 224.5h0M109.2 215.7h0M108.7 213.0h0M109.5 207.1h0M91.5 243.0h0M90.0 245.7h0M97.1 246.8h0M94.9 241.3h0M94.9 238.6h0M88.9 219.3h0M88.8 216.7h0M89.1 207.9h0M129.7 294.6h0M132.1 292.8h0M115.6 275.7h0M115.7 270.2h0M122.1 248.7h0M127.5 239.2h0M132.5 237.7h0M134.8 238.4h0M169.5 209.6h0M172.0 206.7h0M171.0 209.8h0M170.6 212.8h0M144.2 245.9h0M136.8 244.1h0M125.5 222.0h0M46.1 232.3h0M44.6 229.9h0M43.6 221.4h0M43.3 229.4h0M42.9 238.2h0M76.0 281.8h0M85.2 286.7h0M89.3 290.4h0M141.0 208.3h0M146.8 214.4h0M148.2 223.3h0M90.9 253.8h0M90.2 247.8h0M89.3 242.0h0M90.2 239.4h0M89.3 236.8h0M87.8 205.2h0M85.2 206.7h0M64.0 215.2h0M60.1 228.3h0M55.8 230.0h0M55.5 252.1h0M70.1 229.1h0M71.9 226.7h0M74.2 226.1h0M82.0 224.7h0M80.7 261.6h0M80.5 278.7h0M80.4 281.7h0M85.4 283.6h0M81.4 211.6h0M88.4 207.9h0M105.1 202.9h0M109.6 199.2h0M116.9 196.6h0M105.1 294.2h0M106.0 291.2h0M126.1 219.0h0M131.4 228.4h0M132.1 231.1h0M132.6 234.1h0M132.7 239.8h0M132.6 198.0h0M158.4 244.7h0M137.2 247.9h0M48.9 243.8h0M40.3 252.9h0M42.5 251.4h0M44.2 248.9h0M45.3 246.4h0M58.7 233.5h0M60.1 231.3h0M61.9 228.7h0M170.9 243.7h0M173.5 248.4h0M177.9 251.8h0M179.9 253.3h0M63.1 232.9h0M64.0 235.7h0M69.6 245.5h0M70.7 264.4h0M75.7 270.8h0M109.3 256.7h0M112.3 267.6h0M110.6 272.9h0M131.2 242.0h0M130.0 227.4h0M130.5 224.7h0M130.6 218.4h0M108.8 209.6h0M119.4 204.3h0M89.5 209.1h0M90.2 206.2h0M91.3 186.1h0M85.3 203.1h0M83.4 197.5h0M80.9 189.6h0M57.0 232.4h0M64.4 240.8h0M168.8 215.7h0M167.3 218.0h0M165.5 220.4h0M154.1 225.7h0M108.7 223.8h0M109.6 218.0h0M108.2 215.3h0M120.3 247.9h0M122.3 239.3h0M122.7 230.8h0M125.7 225.8h0M104.0 219.9h0M108.0 217.2h0M113.7 216.7h0M54.0 261.7h0M56.4 259.6h0M168.6 266.0h0M168.3 265.8h0M173.6 250.0h0M174.3 247.3h0M174.1 244.4h0M141.3 220.3h0M150.9 209.0h0M161.7 203.9h0M163.4 201.4h0M175.1 203.7h0M162.3 202.3h0M154.4 201.3h0M144.7 199.0h0M170.9 263.2h0M171.7 260.4h0M165.6 239.5h0M168.1 234.3h0M171.8 230.2h0M172.4 227.4h0M173.2 224.6h0M162.5 241.2h0M165.3 236.6h0M180.4 230.8h0M182.9 243.8h0M177.2 249.9h0M176.9 252.8h0M124.8 256.4h0M125.9 270.6h0M124.8 273.4h0M130.0 234.9h0M87.3 216.8h0M94.2 220.4h0M96.9 220.4h0M99.5 219.5h0" stroke="#128c12" stroke-width="2.16" stroke-linecap="round" fill="none"/>
<path d="M106.3 179.9h0M111.8 183.4h0M115.6 186.4h0M94.2 188.3h0M99.9 186.8h0M102.9 186.4h0M103.2 190.3h0M106.6 189.6h0M95.3 195.5h0M97.5 195.2h0M99.9 194.3h0M107.9 197.8h0M97.5 199.5h0M112.8 201.2h0M73.4 201.7h0M76.1 209.1h0M76.5 211.1h0M100.9 209.4h0M107.4 207.4h0M106.6 210.8h0M112.3 204.7h0M111.5 211.6h0M67.0 212.3h0M67.8 215.6h0M94.2 214.0h0M109.8 215.6h0M99.6 218.1h0M107.9 218.7h0M111.2 221.5h0M55.9 223.0h0M62.9 225.0h0M93.7 223.9h0M77.6 228.2h0M98.3 230.2h0M42.7 235.4h0M52.2 234.8h0M95.0 235.4h0M96.7 236.9h0M127.6 178.2h0M124.7 183.4h0M115.5 186.4h0M134.1 188.3h0M150.1 183.9h0M152.8 192.0h0M154.7 195.2h0M120.1 196.8h0M124.7 198.3h0M117.7 200.4h0M120.1 202.0h0M121.0 204.7h0M140.3 194.8h0M144.1 197.8h0M145.7 202.0h0M145.7 204.2h0M156.0 202.0h0M126.8 207.4h0M142.8 207.4h0M129.2 211.1h0M128.4 212.6h0M138.2 212.3h0M136.6 213.4h0M139.6 209.4h0M149.5 212.6h0M162.2 210.4h0M170.3 212.6h0M173.7 216.3h0M179.1 221.2h0M124.2 216.3h0M126.0 218.1h0M119.3 218.7h0M130.9 218.7h0M139.2 216.3h0M151.4 220.8h0M150.6 223.0h0M118.2 226.9h0M124.2 224.7h0M125.2 226.9h0M130.1 226.9h0M134.7 226.9h0M139.6 225.0h0M120.1 232.1h0M126.0 230.7h0M126.8 235.9h0M138.2 235.4h0M142.3 233.1h0M154.0 230.2h0M155.5 235.4h0M164.6 230.7h0M177.0 235.9h0M181.1 232.6h0M183.5 236.6h0M186.1 236.6h0M188.5 236.9h0M59.2 243.3h0M50.5 247.0h0M59.2 250.0h0M66.0 250.7h0M72.6 250.0h0M73.5 251.9h0M77.6 245.5h0M77.3 251.4h0M83.8 244.7h0M88.1 253.7h0M105.9 239.1h0M112.8 244.7h0M114.5 242.0h0M106.7 250.0h0M47.6 257.9h0M62.7 257.4h0M64.3 259.3h0M66.0 261.1h0M68.7 259.3h0M70.8 257.4h0M59.7 267.8h0M61.7 267.2h0M63.5 265.7h0M74.1 269.0h0M84.3 263.5h0M91.5 262.0h0M100.7 263.5h0M104.2 267.2h0M108.5 261.1h0M113.7 259.3h0M82.1 269.0h0M85.9 272.0h0M89.4 273.9h0M82.6 276.2h0M90.4 278.4h0M102.9 273.9h0M108.8 282.4h0M114.1 275.7h0M114.1 286.6h0M112.8 294.0h0M113.9 236.4h0M117.4 239.1h0M112.1 242.8h0M126.8 240.1h0M133.8 235.4h0M160.6 239.1h0M161.4 242.0h0M165.7 238.3h0M164.9 243.7h0M164.1 246.5h0M176.2 244.7h0M177.0 248.4h0M182.3 237.3h0M184.8 237.3h0M188.3 237.3h0M190.0 238.3h0M119.0 251.9h0M132.0 253.7h0M113.6 259.3h0M139.0 258.4h0M152.8 251.4h0M157.1 252.9h0M161.4 252.4h0M166.7 250.2h0M170.2 254.4h0M171.0 257.4h0M173.5 259.3h0M176.2 259.3h0M165.7 257.4h0M181.3 254.4h0M147.6 261.1h0M149.3 267.8h0M165.7 267.2h0M121.7 265.7h0M119.9 268.3h0M118.2 273.9h0M114.2 275.7h0M122.2 273.0h0M135.5 272.0h0M147.6 273.9h0M146.8 275.7h0M162.4 273.9h0M151.9 278.4h0M158.9 279.4h0M147.6 284.0h0M151.1 282.4h0M155.4 283.6h0M113.9 286.6h0M112.9 294.0h0M127.7 297.7h0M130.3 295.9h0M133.0 294.9h0" stroke="#ff1493" stroke-width="2.16" stroke-linecap="round" fill="none"/>
<path d="M126.5 179.0h0M101.3 191.6h0M86.5 200.1h0M66.4 205.5h0M65.4 208.4h0M72.2 219.9h0M87.4 219.9h0M144.9 183.3h0M133.0 188.4h0M140.3 189.3h0M141.0 191.6h0M131.0 194.3h0M139.7 195.2h0M140.7 196.5h0M149.3 197.9h0M151.4 197.0h0M136.9 201.5h0M132.7 204.1h0M134.1 205.5h0M145.1 204.1h0M154.1 206.1h0M163.8 200.8h0M167.3 203.7h0M147.7 211.3h0M161.0 212.7h0M163.1 214.7h0M173.4 215.6h0M132.5 220.5h0M152.1 219.1h0M152.7 221.9h0M150.6 223.4h0M164.5 221.3h0M171.4 221.3h0M172.7 222.7h0M181.0 219.5h0M179.0 221.9h0M167.9 224.8h0M145.8 226.1h0M174.2 226.1h0M176.2 227.1h0M92.4 232.5h0M82.4 241.9h0M94.0 250.9h0M80.6 274.4h0M145.5 226.0h0M150.9 223.2h0M153.1 222.1h0M146.7 230.0h0M153.9 228.9h0M132.6 237.1h0M150.9 238.3h0M166.9 224.5h0M168.3 228.4h0M169.9 230.7h0M172.2 222.1h0M172.9 226.0h0M174.5 228.4h0M175.3 224.5h0M179.8 222.1h0M179.8 227.7h0M181.3 230.7h0M182.9 232.4h0M166.1 234.7h0M179.8 235.8h0M182.1 236.2h0M184.3 236.2h0M186.6 236.2h0M188.9 236.7h0M177.1 242.6h0M166.1 245.2h0M163.8 249.4h0M160.7 252.0h0M159.3 253.7h0M142.5 248.1h0M137.7 250.1h0M144.3 252.8h0M155.4 260.7h0M149.4 266.3h0M144.9 270.5h0M152.5 273.3h0M135.7 275.7h0M151.7 277.7h0" stroke="#ff00ff" stroke-width="2.16" stroke-linecap="round" fill="none"/>
<path d="M88.9 179.9h0M95.3 179.2h0M103.2 180.4h0M102.5 182.6h0M71.4 186.4h0M99.9 186.4h0M111.4 185.6h0M70.6 191.3h0M70.9 192.5h0M74.2 194.8h0M88.4 189.9h0M82.1 195.5h0M98.7 195.5h0M103.8 190.8h0M89.7 203.5h0M112.2 203.0h0M112.2 206.9h0M45.3 208.7h0M94.1 214.0h0M52.7 214.6h0M58.3 217.5h0M66.8 220.3h0M73.1 220.3h0M108.4 219.8h0M111.4 221.5h0M43.0 221.5h0M46.8 223.0h0M71.9 223.9h0M83.8 222.7h0M93.0 225.0h0M86.7 229.9h0M68.8 232.1h0M42.0 232.6h0M60.8 234.8h0M80.5 235.1h0M85.9 234.3h0M96.4 235.4h0M67.2 236.9h0M127.2 178.2h0M124.7 184.4h0M125.2 188.6h0M123.9 189.6h0M119.1 190.8h0M143.4 185.1h0M140.0 196.0h0M154.1 195.5h0M119.6 203.5h0M125.5 202.5h0M145.6 204.2h0M152.8 203.9h0M161.2 202.5h0M148.5 212.3h0M162.2 211.1h0M170.6 216.3h0M118.6 222.2h0M124.2 219.8h0M179.9 229.6h0M119.1 232.1h0M119.6 236.6h0M190.1 236.9h0M67.3 236.8h0M37.2 242.3h0M41.4 242.0h0M45.5 243.7h0M47.6 244.2h0M49.1 246.5h0M50.2 247.7h0M58.3 240.1h0M58.3 246.5h0M82.9 244.7h0M93.1 241.0h0M96.8 243.3h0M101.2 244.7h0M106.6 238.6h0M109.2 240.1h0M36.9 253.7h0M51.2 252.6h0M53.8 256.1h0M83.3 253.7h0M87.2 254.4h0M101.2 250.7h0M40.4 259.3h0M42.2 260.1h0M47.6 261.6h0M61.6 257.9h0M71.8 258.3h0M96.8 260.6h0M105.6 257.9h0M52.9 264.8h0M54.7 266.5h0M60.9 269.3h0M63.7 275.7h0M92.3 267.8h0M101.2 272.5h0M112.9 263.8h0M112.4 269.3h0M85.1 283.6h0M86.9 289.8h0M96.8 286.6h0M98.6 288.0h0M104.5 286.6h0M113.7 296.4h0M119.3 236.8h0M109.4 239.6h0M135.4 244.2h0M141.6 243.7h0M181.9 239.1h0M190.0 238.0h0M157.7 250.2h0M164.2 247.7h0M164.2 251.9h0M170.4 251.9h0M170.9 254.4h0M176.6 252.6h0M181.1 255.6h0M131.9 255.6h0M165.0 257.4h0M165.8 259.3h0M164.5 261.6h0M174.5 259.3h0M113.0 263.8h0M112.5 269.3h0M155.4 268.3h0M163.2 274.4h0M151.5 276.2h0M158.4 280.3h0M150.7 282.4h0M153.3 283.6h0M147.1 285.5h0M144.4 287.6h0M132.8 291.3h0M131.9 295.9h0M130.1 297.7h0M127.3 298.9h0M114.8 295.9h0M120.3 297.0h0" stroke="#a95f0a" stroke-width="2.16" stroke-linecap="round" fill="none"/>
<path d="M75.6 197.5h0M76.4 203.2h0M76.9 206.4h0M77.4 209.3h0M78.6 211.7h0M80.2 214.5h0M81.5 216.7h0M119.1 216.2h0M120.4 213.6h0M121.1 210.5h0M121.1 207.7h0M123.2 202.7h0M124.4 199.7h0M125.0 197.1h0M163.3 247.1h0M162.6 250.2h0M163.0 252.9h0M163.9 255.8h0M164.6 258.6h0M165.9 261.2h0M166.7 263.9h0M167.2 267.0h0M167.0 269.6h0M167.2 272.7h0M168.7 274.7h0M167.0 272.8h0M93.2 190.1h0M94.1 192.8h0M94.9 195.5h0M96.5 197.7h0M98.8 198.8h0M101.5 199.3h0M103.9 200.9h0M106.5 201.7h0M109.0 201.9h0M114.1 201.6h0M119.1 200.5h0M122.8 196.8h0M124.3 194.2h0M125.9 192.0h0M131.5 186.2h0M133.2 184.3h0M101.5 274.8h0M100.5 280.3h0M101.0 283.5h0M102.5 286.0h0M102.7 289.0h0M101.1 289.6h0M98.7 288.0h0M97.2 286.3h0M95.3 283.7h0M92.0 279.2h0M90.1 277.0h0M127.6 189.9h0M130.1 189.3h0M132.6 190.1h0M135.4 190.5h0M137.8 190.7h0M140.3 190.4h0M142.8 190.2h0M145.3 189.0h0M147.3 187.1h0M145.1 188.1h0M142.6 189.3h0M140.3 190.8h0M137.7 192.2h0M135.7 193.6h0M134.5 196.1h0M132.4 198.2h0M156.0 255.1h0M157.6 252.9h0M159.7 251.5h0M161.0 248.9h0M161.8 246.0h0M161.2 242.9h0M161.4 237.2h0M160.8 234.1h0M160.4 231.4h0M160.9 228.4h0M162.2 226.0h0M166.5 222.7h0M169.0 221.5h0M136.8 277.6h0M136.5 275.2h0M137.4 272.4h0M137.2 269.3h0M137.2 266.2h0M136.2 263.6h0M135.6 260.7h0M94.3 246.7h0M90.0 249.1h0M87.7 250.5h0M84.6 254.8h0M83.1 257.3h0M81.3 262.6h0M80.4 265.4h0M80.1 268.4h0M79.9 271.2h0M80.1 274.2h0M80.6 277.0h0M84.4 252.2h0M84.0 249.2h0M83.4 246.3h0M82.4 243.8h0M81.3 240.9h0M77.8 236.5h0M75.5 235.6h0M71.5 232.0h0M70.1 229.4h0M81.4 202.7h0M76.8 201.1h0M74.2 200.3h0M72.6 198.0h0M71.4 195.1h0M70.2 192.8h0M72.1 194.7h0M73.8 196.9h0M75.2 199.3h0M76.2 201.5h0M77.8 204.4h0M78.8 207.0h0M79.2 209.8h0M79.6 212.4h0M79.8 215.7h0M168.4 202.0h0M167.1 199.6h0M165.9 197.2h0M163.4 195.5h0M162.3 193.1h0M142.5 292.8h0M141.4 295.2h0M139.9 293.1h0M138.2 291.2h0M136.4 288.9h0M134.1 287.4h0M132.2 285.2h0M132.3 282.4h0M133.4 277.0h0M134.4 274.3h0M135.8 271.7h0M141.2 261.6h0M141.4 258.7h0M142.5 255.8h0M144.6 254.1h0M145.3 251.2h0M168.0 224.3h0M165.5 224.8h0M163.0 224.8h0M160.9 222.6h0M159.5 220.4h0M159.5 217.5h0M158.6 214.7h0M157.9 211.5h0M110.9 286.4h0M111.7 283.4h0M119.3 275.8h0M121.8 274.5h0M124.1 273.5h0M50.7 253.5h0M45.8 255.4h0M44.5 257.7h0M46.1 259.7h0M47.9 262.0h0M52.6 264.3h0M145.0 197.9h0M143.0 196.4h0M141.9 193.8h0M141.3 190.8h0M143.1 188.2h0M144.0 190.8h0M145.2 193.4h0M145.6 196.3h0M144.1 204.7h0M89.8 232.3h0M92.1 230.2h0M95.1 225.6h0M95.3 222.7h0M95.0 219.8h0M95.7 216.9h0M95.8 213.9h0M96.4 211.3h0M98.4 209.5h0M100.2 207.0h0M102.3 205.7h0M104.9 204.7h0M80.1 237.1h0M81.4 239.5h0M83.0 253.7h0M80.3 258.8h0M79.2 261.7h0M78.2 264.1h0M77.0 266.8h0M76.1 269.9h0M76.7 272.5h0M77.8 275.1h0M76.9 277.8h0M75.7 283.4h0M52.8 233.7h0M55.2 239.0h0M54.7 241.7h0M53.7 244.3h0M51.9 249.9h0M51.2 252.6h0M49.0 254.4h0M46.8 255.8h0M44.9 258.0h0M42.4 258.5h0M77.8 212.8h0M75.3 212.0h0M67.9 210.1h0M66.1 208.1h0M64.4 205.9h0M64.2 202.9h0M62.1 201.1h0M64.9 201.9h0M67.3 202.1h0M70.1 202.5h0M72.5 202.0h0M75.0 201.6h0M80.0 200.2h0M82.2 199.1h0M84.6 197.5h0M87.1 196.3h0M89.9 196.0h0M104.8 249.8h0M105.2 252.8h0M108.2 257.2h0M108.9 260.1h0M111.3 265.0h0M112.2 267.9h0M112.7 270.6h0M113.6 276.5h0M114.2 279.5h0M114.3 282.4h0M114.2 285.2h0M114.7 288.1h0M114.0 290.8h0M151.9 239.1h0M149.6 240.3h0M144.7 242.1h0M142.6 243.7h0M140.5 245.9h0M138.7 247.3h0M133.5 249.0h0M131.5 250.7h0M130.2 253.2h0M129.4 255.9h0M127.9 258.7h0M127.3 261.4h0M126.4 264.4h0M126.0 267.0h0M125.1 269.8h0M124.9 272.9h0M124.5 275.8h0M123.0 278.2h0M141.1 250.9h0M141.3 253.9h0M143.5 259.0h0M143.8 262.0h0M144.6 267.8h0M145.8 270.1h0M148.0 272.0h0M151.8 275.9h0M159.0 283.4h0M160.4 285.7h0M87.0 290.1h0M87.2 287.1h0M87.0 284.2h0M88.3 281.3h0M88.8 278.5h0M87.6 275.8h0M87.4 272.9h0M86.4 264.4h0M74.1 253.9h0M73.6 260.1h0M72.5 262.5h0M72.4 268.2h0M72.2 271.0h0M74.6 276.8h0M76.2 278.8h0M77.8 280.8h0M80.4 280.9h0M82.3 283.0h0M83.8 285.6h0M85.1 288.2h0M86.4 290.5h0M85.6 287.5h0M86.0 282.2h0M86.4 279.4h0M134.3 243.1h0M135.6 245.6h0M135.3 248.7h0M136.4 254.4h0M136.0 257.3h0M136.5 260.2h0M136.1 262.8h0M134.9 265.6h0M133.3 268.1h0M133.3 271.0h0M155.3 215.5h0M156.9 213.1h0M158.6 211.5h0M160.3 208.6h0M160.3 205.8h0M161.4 203.4h0M162.5 200.3h0M162.7 197.4h0M161.5 196.7h0M160.5 199.6h0M159.2 202.1h0M158.0 205.1h0M157.0 207.6h0M153.3 211.7h0M147.3 217.1h0M145.7 219.1h0M43.4 240.3h0M44.0 243.5h0M44.2 246.5h0M43.8 249.0h0M43.3 251.9h0M42.5 257.7h0M39.0 253.5h0M40.9 255.3h0M43.2 256.9h0M44.9 258.8h0M44.7 261.8h0M49.1 258.8h0M51.7 258.5h0M56.8 256.7h0M133.3 200.3h0M131.8 197.6h0M131.0 194.8h0M129.8 192.3h0M129.1 189.3h0M128.8 186.6h0M125.8 181.7h0M124.0 180.1h0M121.4 180.5h0M116.2 179.8h0M113.7 178.5h0M115.1 180.9h0M152.0 188.6h0M149.7 189.6h0M147.0 188.6h0M144.5 187.9h0M141.8 187.6h0M140.6 185.1h0M139.7 182.1h0M96.2 265.4h0M96.1 259.4h0M94.7 257.0h0M92.7 255.1h0M91.5 249.9h0M90.8 246.6h0M89.5 244.1h0M88.2 241.6h0M86.4 239.7h0M111.7 205.3h0M110.9 202.6h0M110.2 199.6h0M110.8 197.2h0M112.0 191.2h0M113.7 186.0h0M114.2 182.9h0M120.7 185.6h0M122.9 187.3h0M123.6 190.0h0M124.0 193.0h0M123.8 195.9h0M185.4 222.4h0M185.1 219.5h0M185.8 222.4h0M187.5 224.5h0M188.5 227.1h0M190.5 232.5h0M191.9 235.2h0M193.0 237.7h0M190.9 236.3h0M135.4 218.3h0M136.6 221.1h0M138.6 222.8h0M140.2 224.8h0M141.8 227.4h0M142.8 230.0h0M143.2 233.0h0M108.7 195.6h0M103.6 196.4h0M98.5 196.2h0M90.7 196.7h0M86.5 200.0h0M81.7 201.6h0M77.4 205.1h0M74.7 206.1h0M69.6 205.5h0M64.6 205.8h0M110.9 241.6h0M106.0 239.6h0M103.4 240.2h0M98.6 242.4h0M96.1 242.9h0M93.6 243.1h0M90.7 242.7h0M88.3 242.5h0M85.9 241.6h0M83.9 239.9h0M137.9 231.8h0M137.6 234.9h0M137.8 237.4h0M136.6 243.5h0M135.8 246.5h0M136.0 252.0h0M134.8 254.7h0M133.6 257.3h0M132.6 260.0h0M131.0 265.4h0M130.7 268.3h0M56.5 216.2h0M59.1 220.8h0M60.9 223.4h0M63.7 227.8h0M64.6 230.8h0M64.8 233.9h0M99.3 178.7h0M99.6 181.7h0M101.4 184.0h0M103.3 186.1h0M104.5 188.8h0M103.9 191.4h0M102.4 193.8h0M101.5 196.6h0M97.3 203.7h0M95.6 206.2h0M94.0 208.1h0M89.4 210.8h0M153.4 281.1h0M153.3 277.9h0M152.6 275.5h0M152.7 272.4h0M153.2 269.4h0M152.7 263.5h0M153.9 261.0h0M154.4 258.1h0M156.0 252.8h0M157.4 250.0h0M157.3 244.2h0M156.5 241.8h0M156.3 238.7h0M106.0 225.1h0M103.7 226.1h0M100.4 225.6h0M98.3 225.3h0M95.5 225.2h0M91.3 228.2h0M89.1 229.8h0M84.5 233.1h0M82.0 238.1h0M176.3 210.9h0M174.4 212.6h0M172.4 214.9h0M171.7 217.6h0M171.2 220.2h0M172.7 228.7h0M173.1 234.7h0M65.5 240.7h0M68.7 235.9h0M69.5 233.4h0M71.3 228.1h0M72.6 225.2h0M73.0 222.5h0M72.9 219.4h0M72.2 216.9h0M71.3 213.9h0M67.7 206.3h0M66.8 203.5h0M99.3 223.9h0M101.3 225.4h0M103.8 226.6h0M105.8 228.3h0M108.7 228.4h0M111.0 227.7h0M113.4 226.0h0M115.8 224.9h0M118.3 224.4h0M80.4 277.2h0M79.5 279.8h0M78.8 282.7h0M78.6 285.5h0M78.4 288.4h0M83.5 287.4h0M85.8 286.8h0M91.1 285.5h0M93.3 284.2h0M96.9 280.3h0M98.2 277.6h0M98.6 274.7h0M115.9 252.6h0M114.8 255.3h0M112.6 257.1h0M110.4 258.6h0M109.6 261.6h0M105.8 265.1h0M102.4 269.7h0M101.5 272.2h0M99.9 278.0h0M176.3 238.6h0M174.3 240.4h0M172.3 242.5h0M170.5 244.8h0M168.3 246.0h0M161.0 247.8h0M158.2 248.0h0M155.8 249.1h0M109.7 264.1h0M110.4 266.9h0M110.7 269.6h0M110.8 272.9h0M110.1 278.6h0M190.4 239.5h0M188.0 238.2h0M182.7 232.5h0M181.0 230.2h0M75.8 273.2h0M73.9 281.4h0M72.6 283.8h0M74.1 281.7h0M74.7 278.7h0M68.6 221.6h0M65.9 220.9h0M63.4 220.0h0M53.4 218.3h0M51.2 216.9h0M49.4 215.0h0M51.6 216.6h0M52.7 219.3h0M53.8 221.8h0M55.6 224.1h0M57.5 226.1h0M57.5 229.2h0M58.2 232.2h0M144.1 210.7h0M143.6 207.8h0M146.6 199.9h0M150.0 195.2h0M151.4 193.1h0M151.8 190.4h0M150.6 192.6h0M149.0 195.0h0M165.1 273.6h0M166.0 279.1h0M165.1 276.5h0M163.5 274.3h0M161.7 272.3h0M159.9 270.1h0M158.8 267.5h0M158.3 264.7h0M158.5 261.5h0M158.2 258.6h0M157.3 253.0h0M157.5 250.2h0M158.2 247.3h0M166.7 257.8h0M166.8 260.8h0M167.8 263.2h0M167.1 266.4h0M165.5 268.7h0M161.2 271.5h0M159.9 274.1h0M183.2 248.9h0M179.7 244.9h0M178.0 242.3h0M176.8 240.0h0M172.4 237.0h0M169.9 236.0h0M167.3 235.6h0M164.7 235.4h0M162.5 234.6h0M129.2 257.1h0M128.9 259.7h0M128.1 262.7h0M128.3 265.5h0M129.1 268.5h0M130.1 271.3h0M131.6 273.8h0M132.3 276.3h0M132.8 279.3h0M132.6 282.6h0M132.5 285.1h0M130.3 287.3h0M136.8 260.7h0M137.4 263.6h0M140.1 268.6h0M140.6 271.5h0M143.4 276.7h0M143.8 279.4h0M128.5 268.9h0M128.9 272.3h0M128.6 275.1h0M127.4 280.7h0M127.5 283.7h0M126.3 286.1h0M125.2 288.8h0M122.5 293.5h0M122.8 296.5h0M121.4 294.1h0M64.5 270.4h0M67.8 274.3h0M70.6 274.3h0M73.2 275.0h0M75.7 275.2h0M78.4 276.4h0M80.7 277.2h0M83.1 278.7h0M84.4 281.1h0M86.5 283.2h0M88.1 285.4h0M122.8 239.4h0M123.0 236.3h0M123.3 233.6h0M122.9 230.8h0M123.2 227.8h0M123.6 224.9h0M127.3 217.4h0M134.6 215.0h0M137.3 214.3h0M139.6 213.4h0M142.0 212.0h0M146.9 212.4h0M124.6 227.0h0M134.5 230.1h0M138.9 227.2h0M140.3 224.7h0M141.9 222.3h0M142.8 219.6h0M147.2 217.2h0M149.8 218.1h0M152.2 219.0h0M154.8 220.0h0M112.0 178.2h0M110.9 180.7h0M109.0 186.1h0M109.7 189.4h0M110.0 192.1h0M111.1 194.7h0M110.9 200.6h0M93.7 209.4h0M98.4 211.9h0M106.1 222.8h0M106.2 228.8h0M105.4 231.2h0M103.0 233.3h0M100.6 234.2h0M95.3 234.6h0M90.3 234.6h0M87.7 234.3h0M85.3 234.4h0M120.1 280.6h0M118.2 279.1h0M116.0 276.9h0M114.5 274.9h0M112.6 272.8h0M112.8 269.9h0M97.5 289.7h0M98.3 287.0h0M98.3 283.8h0M100.5 278.9h0M102.7 277.2h0M162.1 223.6h0M164.7 223.2h0M167.3 222.4h0M169.7 221.1h0M41.3 223.7h0M46.6 225.2h0M48.7 225.2h0M51.6 224.9h0M54.0 225.0h0M56.6 223.5h0M58.6 221.8h0M61.0 220.4h0M63.5 219.9h0M66.0 220.0h0M68.8 220.0h0M70.8 221.4h0M75.5 224.3h0M76.9 226.7h0M76.6 232.8h0M75.5 234.8h0M73.7 237.2h0M65.7 209.0h0M66.0 203.1h0M67.0 200.2h0M68.0 194.5h0M69.8 196.8h0M71.1 199.2h0M71.0 202.4h0M70.5 208.2h0M69.4 213.7h0M72.8 221.7h0M74.5 227.0h0M74.2 230.0h0M72.5 232.3h0M72.0 235.4h0M136.3 180.9h0M134.8 183.5h0M131.3 187.3h0M129.0 189.3h0M124.5 191.2h0M70.9 283.6h0M70.7 280.3h0M71.2 277.6h0M73.0 272.0h0M73.4 269.0h0M74.2 266.1h0M74.3 263.5h0M72.7 257.8h0M71.7 255.3h0M150.3 267.8h0M151.1 270.5h0M151.6 273.3h0M151.3 276.2h0M152.6 281.9h0M156.4 285.7h0M156.2 285.9h0M154.6 283.9h0M151.3 279.1h0M150.5 276.3h0M150.2 270.2h0M163.0 236.5h0M161.2 234.1h0M159.6 231.4h0M158.8 229.2h0M157.9 226.2h0M156.5 223.8h0M154.6 221.5h0M152.1 221.0h0M147.8 217.5h0M147.1 221.9h0M152.0 221.1h0M154.7 220.9h0M157.3 219.4h0M159.2 217.9h0M161.8 216.8h0M164.0 215.2h0M173.3 210.8h0M174.9 208.3h0M176.2 205.8h0M176.3 208.8h0M177.0 211.4h0M180.3 215.6h0M133.5 292.2h0M136.2 297.4h0M133.5 295.9h0M131.8 294.2h0M129.6 292.4h0M128.9 289.4h0M129.4 283.6h0M129.8 280.9h0M130.9 278.0h0M62.0 230.0h0M62.1 226.8h0M61.6 224.1h0M61.0 220.9h0M62.2 215.5h0M62.3 212.7h0M58.2 208.6h0M53.4 207.9h0M56.0 212.4h0M100.4 199.8h0M105.5 199.0h0M115.6 197.2h0M47.8 262.2h0M50.2 263.4h0M55.4 263.6h0M57.7 263.5h0M60.3 264.8h0M62.1 266.9h0M64.3 268.1h0M68.2 275.7h0M67.9 278.3h0M177.4 258.3h0M175.3 256.7h0M173.1 255.0h0M171.8 252.5h0M169.1 247.7h0M168.3 244.8h0M167.9 242.0h0M166.8 239.4h0M167.7 236.0h0M167.0 233.3h0M167.0 230.6h0M167.7 227.7h0M167.1 224.7h0M167.9 221.9h0M92.7 280.3h0M93.5 277.6h0M94.4 274.7h0M95.1 272.0h0M94.2 269.3h0M93.6 266.2h0M93.7 263.5h0M100.5 239.7h0M101.0 242.4h0M99.3 248.1h0M96.3 252.4h0M94.6 255.3h0M93.5 257.9h0M91.7 260.3h0M90.4 262.6h0M87.7 263.4h0M156.2 198.8h0M161.3 197.1h0M166.1 199.3h0M167.1 201.8h0M167.6 205.1h0M167.9 207.7h0M168.3 210.6h0M169.1 213.2h0M117.9 266.8h0M116.6 264.1h0M115.8 261.5h0M114.7 258.8h0M112.9 256.9h0M112.1 254.0h0M111.4 251.2h0M108.0 246.8h0M107.1 244.1h0M105.0 241.9h0M102.5 240.9h0M98.7 237.0h0M97.4 234.9h0M96.1 232.1h0M94.5 229.5h0M91.6 224.6h0M41.1 253.3h0M38.8 254.2h0M41.3 253.6h0M43.5 252.7h0M49.0 252.2h0M51.3 251.4h0M56.7 251.0h0M59.3 251.7h0M61.4 252.7h0M64.1 253.7h0M66.4 255.1h0M68.4 257.0h0M70.7 258.9h0M72.1 260.8h0M87.0 262.9h0M89.0 267.8h0M89.2 270.8h0M89.0 273.7h0M89.3 276.6h0M89.8 279.5h0M89.7 282.5h0M88.9 285.3h0M87.8 287.8h0M87.4 290.6h0M87.9 287.9h0M87.8 284.8h0M87.4 281.8h0M87.2 279.2h0M86.3 276.4h0M86.1 273.3h0M87.5 270.9h0M88.4 267.8h0M90.4 266.4h0M92.6 264.5h0M122.3 200.2h0M122.0 197.1h0M120.8 194.3h0M120.1 191.9h0M119.4 189.0h0M115.9 184.9h0M64.8 258.7h0M66.7 261.2h0M68.1 263.5h0M68.5 266.3h0M66.6 275.2h0M65.0 277.3h0M64.6 276.8h0M64.4 274.1h0M105.6 187.8h0M103.3 189.1h0M100.9 190.7h0M99.7 193.0h0M98.7 196.0h0M96.6 197.4h0M94.1 198.2h0M91.7 199.1h0M89.2 200.2h0M86.5 201.2h0M84.0 201.9h0M79.2 203.7h0M82.5 187.1h0M84.5 181.7h0M83.1 184.1h0M81.8 186.7h0M80.6 189.4h0M76.6 193.2h0M74.5 194.7h0M72.6 196.7h0M70.7 199.0h0M77.5 223.6h0M75.3 225.7h0M73.3 227.3h0M71.6 229.2h0M69.1 231.0h0M64.7 233.6h0M62.2 234.6h0M59.6 235.2h0M125.1 177.8h0M127.3 178.9h0M129.8 180.4h0M132.0 182.3h0M136.0 185.9h0M138.1 191.1h0M140.3 193.0h0M141.0 195.5h0M144.9 199.9h0M146.8 201.6h0M147.9 204.0h0M148.1 207.0h0M148.5 209.9h0M150.4 212.4h0M151.1 215.0h0M87.0 221.9h0M84.3 222.4h0M81.8 222.8h0M72.3 227.3h0M68.4 231.6h0M66.4 233.7h0M63.6 238.4h0M60.8 238.7h0M58.4 238.8h0M101.5 212.5h0M102.2 209.9h0M104.7 207.9h0M106.3 206.0h0M107.5 203.5h0M109.8 202.2h0M114.2 199.4h0M119.3 200.0h0M121.8 199.3h0M123.9 197.6h0M125.6 195.4h0M128.7 190.8h0M64.3 236.4h0M61.9 237.6h0M59.6 238.0h0M57.3 239.6h0M55.0 240.9h0M50.6 244.2h0M49.6 246.9h0M65.3 199.0h0M67.6 204.1h0M69.5 206.3h0M71.5 207.8h0M73.5 209.8h0M74.3 212.7h0M74.8 215.9h0M74.5 218.7h0M73.8 221.4h0M71.5 223.4h0M70.4 226.1h0M68.7 228.5h0M67.4 230.7h0M116.9 295.0h0M116.3 292.3h0M115.0 289.6h0M115.3 286.6h0M114.6 283.6h0M116.1 281.0h0M117.1 278.5h0M118.7 276.1h0M118.6 273.0h0M118.3 270.1h0M118.4 267.2h0M115.4 262.4h0M114.5 259.7h0M56.9 203.9h0M58.3 206.0h0M59.8 208.9h0M63.6 212.4h0M65.0 214.8h0M66.0 217.7h0M66.5 220.5h0M64.5 222.0h0M128.3 211.1h0M128.1 208.5h0M127.8 205.5h0M127.5 202.8h0M129.6 197.0h0M128.8 194.2h0M127.8 191.4h0M128.4 188.8h0M129.1 185.8h0M74.7 243.9h0M77.5 248.6h0M79.4 250.6h0M80.1 253.6h0M79.4 259.4h0M78.9 262.3h0M78.5 268.1h0M79.1 271.0h0M145.5 277.4h0M143.8 271.4h0M143.5 268.9h0M141.9 266.3h0M140.4 263.7h0M139.4 261.1h0M144.5 262.0h0M143.9 264.7h0M143.6 267.5h0M144.2 270.7h0M144.9 273.5h0M146.9 275.2h0M148.5 277.8h0M149.4 280.4h0M152.6 285.2h0M154.2 287.4h0M155.9 289.7h0M154.3 287.4h0M153.2 284.8h0M150.9 279.4h0M137.7 191.0h0M140.1 192.2h0M145.3 194.0h0M149.7 193.9h0M151.8 192.3h0M153.0 189.6h0M149.9 194.0h0M146.9 194.6h0M144.3 194.8h0M56.3 243.0h0M54.5 241.0h0M53.6 238.3h0M52.8 235.4h0M48.8 228.5h0M46.7 226.3h0M45.7 224.1h0M45.1 224.4h0M48.2 228.9h0M123.6 260.4h0M123.3 257.1h0M122.6 251.7h0M122.3 248.7h0M121.7 245.8h0M119.7 243.8h0M117.5 242.7h0M114.7 242.6h0M112.7 241.1h0M110.4 239.5h0M108.6 237.6h0M106.1 236.7h0M50.2 224.7h0M47.6 224.9h0M45.5 224.5h0M45.1 223.8h0M47.8 224.6h0M50.0 223.6h0M52.2 222.8h0M55.2 223.4h0M58.0 223.5h0M60.2 224.1h0M63.8 228.0h0M64.6 230.7h0M64.1 233.5h0M64.1 239.4h0M64.2 242.6h0M63.6 245.4h0M62.4 247.8h0M88.0 274.5h0M87.7 277.4h0M83.4 280.2h0M81.0 281.8h0M79.8 284.1h0M81.4 286.6h0M81.2 283.5h0M79.4 281.4h0M78.0 279.0h0M77.4 276.3h0M77.7 273.4h0M51.5 266.2h0M50.5 263.4h0M45.6 256.6h0M43.0 255.2h0M41.1 253.5h0M38.9 252.1h0M40.5 254.0h0M42.9 255.3h0M45.3 256.6h0M47.0 258.7h0M83.0 242.5h0M83.6 248.4h0M86.3 253.0h0M89.3 257.0h0M89.9 260.1h0M90.8 262.8h0M91.0 265.9h0M91.4 274.3h0M92.0 277.1h0M92.0 280.5h0M93.1 282.7h0M93.9 285.7h0M95.5 288.1h0M95.8 291.1h0M97.9 255.8h0M98.6 250.2h0M101.9 242.5h0M102.1 239.5h0M102.8 236.5h0M102.9 233.7h0M116.6 230.9h0M118.9 231.5h0M121.3 233.7h0M121.6 236.2h0M123.4 238.7h0M125.0 241.0h0M126.4 243.3h0M128.2 245.2h0M130.4 246.8h0M132.4 249.1h0M136.0 253.0h0M137.2 255.7h0M138.3 258.5h0M139.3 261.3h0M139.8 263.9h0M139.9 266.9h0M142.2 272.2h0M142.9 275.0h0M144.3 277.5h0M49.8 210.6h0M52.0 209.0h0M54.3 209.7h0M56.8 209.3h0M59.7 209.9h0M61.7 211.6h0M63.4 213.6h0M67.7 221.1h0M68.5 226.6h0M69.7 235.1h0M69.6 237.9h0M69.8 240.9h0M157.5 209.5h0M156.1 207.2h0M151.0 205.2h0M148.5 204.5h0M146.8 202.5h0M145.6 199.8h0M144.0 198.0h0M141.6 195.7h0M139.7 194.4h0M136.9 193.7h0M132.0 192.4h0M129.4 192.9h0M127.0 193.3h0M178.8 220.0h0M178.6 214.2h0M178.1 211.1h0M178.1 208.4h0M178.4 211.2h0M178.8 213.9h0M179.9 216.7h0M178.6 225.1h0M179.1 228.1h0M181.1 229.5h0M186.5 229.9h0M189.0 229.1h0M184.0 231.0h0M182.0 232.6h0M179.5 233.3h0M177.0 234.8h0M125.3 293.5h0M123.3 282.5h0M123.3 279.6h0M122.5 277.0h0M123.6 274.0h0M124.9 271.6h0M127.4 266.8h0M127.8 263.8h0M128.3 261.0h0M127.8 258.2h0M126.6 255.3h0M149.4 249.2h0M149.5 246.3h0M151.3 243.7h0M154.8 239.5h0M156.4 237.1h0M159.1 236.9h0M161.4 235.9h0M163.9 234.5h0M165.8 232.8h0M167.6 230.6h0M168.4 227.7h0M168.9 225.3h0M167.6 222.5h0M115.5 186.0h0M113.2 186.8h0M110.4 187.2h0M107.8 187.5h0M105.3 187.7h0M100.8 185.8h0M99.1 183.5h0M96.9 181.7h0M94.8 180.0h0M97.4 180.9h0M173.1 248.6h0M171.9 251.3h0M169.5 259.6h0M168.1 261.9h0M166.5 264.3h0M164.1 269.4h0M164.4 275.2h0M149.8 230.8h0M149.9 227.7h0M149.8 224.8h0M150.0 222.0h0M154.8 215.1h0M156.4 212.9h0M157.2 209.9h0M159.2 208.6h0M160.7 206.2h0M162.6 204.0h0M164.6 202.0h0M166.5 200.4h0M102.7 283.4h0M103.7 286.3h0M105.0 288.9h0M107.8 288.4h0M107.4 285.5h0M106.8 282.5h0M107.8 280.1h0M109.1 274.5h0M111.1 265.8h0M112.8 264.2h0M87.8 183.2h0M86.7 186.0h0M86.3 191.2h0M86.5 194.3h0M89.2 199.4h0M90.2 201.9h0M91.2 204.6h0M95.7 201.4h0M98.3 203.3h0M100.1 204.7h0M102.1 206.8h0M105.1 211.5h0M105.8 214.7h0M104.3 220.4h0M102.8 222.6h0M99.2 226.8h0M98.2 229.6h0M109.3 275.0h0M109.1 272.1h0M109.1 269.5h0M109.7 263.2h0M111.7 261.2h0M112.0 258.3h0M174.3 266.6h0M172.0 265.5h0M169.5 264.4h0M167.7 262.4h0M164.4 258.0h0M163.0 255.3h0M163.0 252.5h0M164.3 249.6h0M164.5 246.9h0M161.4 242.3h0M155.7 288.3h0M156.5 285.3h0M157.3 282.7h0M157.6 279.8h0M158.7 277.1h0M159.6 268.9h0M158.3 266.4h0M156.8 260.6h0M154.1 255.3h0M152.5 253.2h0M149.5 248.3h0M65.5 249.8h0M63.0 249.3h0M60.8 247.7h0M56.0 245.1h0M46.8 246.8h0M43.5 251.4h0M43.0 257.3h0M43.8 254.3h0M46.7 249.5h0M47.4 247.0h0M144.5 184.3h0M145.7 186.3h0M148.0 188.4h0M149.5 190.3h0M151.5 192.5h0M153.1 194.8h0M154.7 197.1h0M160.8 202.6h0M162.8 203.5h0M170.6 202.0h0M164.9 207.5h0M162.6 208.6h0M160.0 210.0h0M144.7 235.2h0M145.1 232.7h0M146.7 230.3h0M149.1 229.0h0M151.4 228.4h0M153.9 227.5h0M156.6 227.5h0M159.2 226.8h0M161.6 226.9h0M164.3 226.5h0M167.1 226.3h0M169.6 226.2h0M157.4 271.0h0M154.9 276.2h0M153.3 282.1h0M144.4 288.3h0M143.1 290.9h0M140.9 296.4h0M79.9 285.8h0M81.0 288.4h0M77.7 283.7h0M76.2 278.3h0M74.5 276.6h0M73.0 274.1h0M71.4 271.5h0M70.2 269.1h0M68.1 267.1h0M66.4 265.5h0M58.6 263.0h0M56.0 263.2h0M53.6 263.0h0M50.9 262.8h0M48.5 263.8h0M50.9 264.2h0M140.8 269.2h0M139.1 271.5h0M137.0 273.5h0M132.2 280.1h0M130.7 282.4h0M130.3 285.3h0M129.7 292.3h0M126.3 288.3h0M124.9 285.8h0M122.1 280.8h0M122.0 278.0h0M189.6 231.9h0M189.2 234.5h0M189.8 240.5h0M188.9 238.0h0M186.7 235.9h0M184.3 231.0h0M181.9 229.1h0M177.9 225.9h0M172.8 224.3h0M170.5 225.9h0M134.0 227.5h0M136.9 227.0h0M139.5 227.7h0M144.2 234.4h0M145.1 236.9h0M146.2 239.6h0M147.1 242.6h0M148.2 245.3h0M149.3 247.8h0M155.0 200.9h0M155.8 198.0h0M156.5 195.1h0M157.8 192.6h0M156.6 195.4h0M154.3 197.0h0M152.9 199.3h0M151.8 202.0h0M152.1 205.1h0M152.1 208.4h0M152.4 210.8h0M152.8 213.7h0M152.4 216.6h0M66.0 281.8h0M67.1 280.8h0M65.4 278.5h0M63.8 276.4h0M63.4 273.7h0M63.1 270.5h0M61.5 268.0h0M59.8 266.4h0M57.6 264.3h0M52.5 263.6h0M47.8 261.5h0M45.2 260.7h0M49.1 264.6h0M51.7 265.1h0M72.7 203.9h0M75.0 203.2h0M77.4 204.0h0M80.0 204.1h0M82.7 203.7h0M85.1 202.7h0M87.5 204.1h0M92.1 207.0h0M93.3 209.6h0M94.5 212.0h0M96.7 217.6h0M98.3 219.8h0M103.4 226.5h0M105.3 228.5h0M107.3 230.2h0M109.2 232.4h0M111.4 233.6h0M139.7 203.6h0M140.1 200.6h0M141.1 198.1h0M141.9 195.0h0M142.7 189.6h0M143.4 186.8h0M144.5 184.2h0M143.3 186.8h0M140.5 191.5h0M138.2 193.3h0M133.5 195.9h0M131.3 197.0h0M128.8 197.7h0M126.3 198.2h0M84.1 226.7h0M81.9 227.3h0M79.4 227.0h0M76.9 228.0h0M74.3 227.4h0M69.1 228.6h0M162.8 282.8h0M162.3 280.1h0M161.6 277.2h0M162.2 274.6h0M161.1 271.7h0M157.1 268.0h0M155.3 265.6h0M153.5 263.9h0M148.9 260.5h0M147.5 258.3h0M146.5 255.5h0M146.1 252.9h0M104.9 229.2h0M106.0 231.4h0M106.8 234.3h0M106.4 237.3h0M105.5 240.1h0M104.8 242.6h0M103.7 245.3h0M102.2 248.1h0M101.2 250.7h0M100.3 253.2h0M98.1 255.0h0M127.9 287.6h0M127.2 293.3h0M127.0 296.2h0M127.1 293.0h0M128.0 287.6h0M128.4 281.7h0M124.9 273.8h0M124.8 270.9h0M122.2 265.9h0M120.1 264.2h0M118.6 261.9h0M174.2 227.9h0M172.1 233.1h0M170.8 238.9h0M171.2 244.6h0M171.0 250.3h0M168.8 255.5h0M170.8 260.8h0M157.8 274.0h0M158.3 271.4h0M158.6 268.3h0M158.6 265.6h0M158.5 262.8h0M158.8 259.7h0M157.2 257.4h0M156.5 254.6h0M156.1 251.7h0M157.0 248.7h0M157.4 245.8h0M157.1 243.0h0M155.8 240.2h0M156.1 237.4h0M156.1 234.4h0M154.8 231.9h0M153.1 230.0h0M182.2 234.5h0M184.7 229.5h0M185.5 226.4h0M183.9 228.9h0M108.8 210.1h0M110.6 204.6h0M112.2 202.1h0M112.7 199.3h0M113.9 197.0h0M116.0 194.9h0M118.5 194.1h0M91.8 239.9h0M89.3 248.8h0M86.8 249.7h0M84.3 250.4h0M82.8 252.4h0M80.4 253.9h0M78.8 255.9h0M76.3 257.3h0M103.7 261.9h0M103.8 259.0h0M103.1 256.2h0M101.7 253.7h0M100.1 251.8h0M98.2 249.2h0M95.3 244.3h0M94.4 235.7h0M92.5 233.5h0M91.7 230.8h0M91.0 228.0h0M89.8 225.0h0M89.7 222.4h0M89.1 213.4h0M89.3 210.7h0M126.5 288.6h0M127.8 290.8h0M128.0 294.0h0M128.6 297.1h0M133.2 290.4h0M134.8 287.6h0M115.2 278.6h0M116.4 273.1h0M115.4 267.5h0M115.9 264.5h0M116.1 261.7h0M117.4 259.1h0M119.2 256.9h0M120.6 254.5h0M121.2 251.7h0M122.5 245.7h0M123.8 243.3h0M125.3 241.2h0M129.9 238.3h0M137.6 239.0h0M170.3 206.5h0M170.8 203.6h0M171.7 201.0h0M172.0 204.1h0M169.3 215.0h0M168.4 217.7h0M157.0 243.4h0M154.3 244.7h0M151.9 244.5h0M149.3 245.3h0M146.8 245.8h0M141.4 246.0h0M138.9 245.9h0M134.7 242.7h0M133.4 240.4h0M131.6 237.9h0M130.1 235.6h0M129.9 232.3h0M129.1 229.5h0M127.9 227.2h0M126.6 224.7h0M44.1 227.0h0M44.1 224.2h0M44.9 224.1h0M44.1 226.8h0M43.3 232.5h0M43.3 235.6h0M73.2 273.2h0M73.4 276.3h0M74.4 279.0h0M78.4 283.1h0M80.5 284.3h0M82.9 285.4h0M87.8 288.3h0M136.3 209.7h0M138.8 209.4h0M143.3 209.9h0M145.6 211.9h0M147.2 217.3h0M148.0 220.1h0M90.8 250.9h0M89.9 245.1h0M88.0 233.7h0M87.0 231.6h0M85.4 229.1h0M82.3 206.6h0M80.0 207.0h0M77.6 206.8h0M75.0 207.5h0M72.3 208.5h0M70.1 209.8h0M68.0 211.6h0M65.9 213.3h0M62.9 217.8h0M61.8 220.5h0M62.0 223.3h0M62.3 226.0h0M58.1 230.3h0M53.4 230.3h0M50.6 230.4h0M48.5 253.1h0M51.0 254.4h0M53.7 254.1h0M57.2 250.0h0M59.4 248.6h0M61.5 246.5h0M62.6 243.9h0M64.0 241.2h0M65.5 238.9h0M66.8 236.3h0M67.0 233.4h0M67.8 230.3h0M76.6 225.5h0M79.2 224.8h0M84.5 224.8h0M87.2 224.8h0M81.3 258.6h0M81.2 264.4h0M81.3 267.4h0M80.3 270.2h0M80.2 273.0h0M80.6 275.9h0M79.4 284.5h0M78.5 287.1h0M80.1 284.9h0M82.6 284.1h0M87.9 282.6h0M89.7 280.7h0M91.1 278.2h0M122.2 246.9h0M123.9 244.8h0M124.1 241.9h0M123.4 238.8h0M123.6 236.2h0M123.1 233.3h0M122.9 230.4h0M123.8 227.3h0M124.9 224.9h0M126.6 222.5h0M128.8 220.5h0M131.3 219.7h0M71.2 213.8h0M73.7 213.4h0M76.3 211.9h0M79.0 211.7h0M83.7 210.4h0M85.9 209.0h0M90.9 209.0h0M93.4 208.4h0M95.8 207.7h0M98.6 207.0h0M100.9 206.0h0M102.5 203.7h0M107.5 201.4h0M111.9 198.3h0M114.5 197.2h0M119.2 197.3h0M106.3 288.1h0M105.6 285.4h0M104.6 282.7h0M104.5 280.0h0M104.7 276.8h0M128.5 220.8h0M129.8 222.7h0M130.8 225.4h0M133.5 236.9h0M133.3 242.6h0M134.5 245.3h0M134.6 248.1h0M134.2 251.5h0M135.1 254.0h0M136.2 256.7h0M138.3 258.8h0M139.9 260.7h0M142.6 261.2h0M145.2 261.8h0M130.8 192.7h0M131.9 195.3h0M133.9 200.7h0M134.5 203.6h0M134.4 206.6h0M135.0 209.1h0M135.6 212.1h0M134.5 214.7h0M132.3 216.6h0M130.1 217.6h0M127.5 216.9h0M169.3 232.7h0M167.3 234.7h0M165.1 236.3h0M163.1 238.1h0M161.4 240.4h0M160.3 243.1h0M156.3 246.6h0M153.9 247.6h0M151.5 248.7h0M149.5 251.1h0M147.4 252.4h0M145.3 253.8h0M142.7 253.7h0M140.5 252.5h0M138.9 250.5h0M136.5 244.9h0M134.9 242.9h0M132.0 242.1h0M129.7 242.2h0M49.6 240.7h0M48.4 246.6h0M47.0 249.2h0M45.0 250.9h0M42.7 252.4h0M46.1 243.5h0M47.7 241.4h0M49.8 239.9h0M52.2 238.4h0M54.4 236.7h0M56.5 235.0h0M160.7 192.3h0M168.6 241.8h0M172.4 245.8h0M175.5 250.1h0M177.6 251.9h0M175.7 250.4h0M174.0 247.7h0M171.9 245.7h0M170.1 244.0h0M168.5 241.6h0M167.0 239.6h0M164.8 238.0h0M96.5 230.4h0M96.2 227.4h0M95.9 224.1h0M95.5 221.5h0M95.4 218.5h0M94.3 216.0h0M92.2 213.8h0M90.8 211.5h0M90.1 208.6h0M89.1 206.0h0M87.8 203.3h0M86.9 200.6h0M86.3 197.7h0M87.8 194.9h0M89.2 192.9h0M90.0 190.1h0M90.1 187.1h0M90.4 184.1h0M62.4 218.7h0M63.0 221.4h0M63.3 224.5h0M62.2 227.6h0M62.3 230.3h0M65.2 238.5h0M67.0 240.6h0M68.4 242.8h0M71.8 247.0h0M73.2 249.2h0M74.3 251.9h0M76.4 254.4h0M77.6 256.8h0M76.6 259.3h0M75.3 262.2h0M74.4 264.6h0M71.9 267.0h0M74.3 268.5h0M77.5 272.9h0M78.5 275.6h0M79.5 278.4h0M80.2 281.3h0M80.1 284.3h0M79.9 287.2h0M110.3 259.5h0M111.2 261.9h0M112.1 264.9h0M112.2 270.5h0M132.9 247.7h0M132.4 244.6h0M131.0 239.0h0M130.8 236.2h0M130.8 233.1h0M129.9 230.5h0M130.6 221.4h0M131.4 215.8h0M118.0 224.0h0M119.3 221.0h0M120.1 218.1h0M119.6 215.1h0M117.6 213.4h0M116.4 211.3h0M113.9 209.4h0M111.4 209.1h0M106.0 209.5h0M120.2 207.1h0M118.0 202.1h0M117.3 199.1h0M116.8 196.2h0M116.3 193.5h0M116.0 190.5h0M114.9 187.6h0M115.5 184.8h0M115.9 181.9h0M87.2 214.0h0M88.4 211.2h0M90.6 203.1h0M91.7 200.7h0M91.1 197.8h0M91.1 194.5h0M91.1 191.8h0M90.4 188.9h0M95.6 215.7h0M94.0 213.2h0M91.9 211.5h0M89.8 209.7h0M87.8 207.9h0M86.0 206.0h0M84.3 200.2h0M81.9 195.2h0M81.4 192.4h0M79.9 186.9h0M79.6 189.7h0M78.9 192.6h0M50.3 217.8h0M52.4 219.5h0M54.3 221.7h0M56.0 224.0h0M56.5 226.7h0M56.7 229.8h0M58.5 234.9h0M60.4 237.0h0M62.4 238.7h0M163.6 222.4h0M161.4 223.8h0M158.9 224.1h0M156.4 225.0h0M151.6 227.5h0M149.3 228.7h0M147.3 230.7h0M146.8 233.4h0M146.1 236.2h0M145.4 238.7h0M106.9 235.2h0M107.9 232.4h0M108.8 229.4h0M108.9 226.6h0M109.7 221.3h0M105.9 214.2h0M104.0 212.1h0M101.8 210.9h0M117.7 261.9h0M117.6 258.8h0M118.2 256.1h0M119.3 253.6h0M120.3 250.6h0M121.8 245.2h0M122.1 242.3h0M121.5 236.4h0M122.2 233.8h0M124.5 228.3h0M127.9 224.2h0M129.9 222.5h0M105.5 217.9h0M110.8 217.0h0M116.0 216.3h0M118.3 214.2h0M119.9 212.0h0M121.5 209.7h0M59.7 261.7h0M57.9 263.8h0M56.0 266.0h0M54.2 267.6h0M52.6 270.2h0M53.1 267.1h0M53.4 264.4h0M168.5 268.8h0M167.9 271.7h0M166.4 274.3h0M166.2 276.9h0M165.2 279.7h0M165.6 276.9h0M166.1 274.2h0M166.4 271.6h0M166.8 268.3h0M169.8 263.6h0M171.0 261.2h0M172.7 258.7h0M173.4 255.9h0M174.2 253.1h0M173.4 241.6h0M140.0 217.8h0M140.1 215.0h0M141.7 212.6h0M143.7 210.9h0M145.9 209.1h0M148.4 208.9h0M153.2 210.1h0M156.1 209.6h0M158.4 208.4h0M160.4 206.7h0M164.3 199.5h0M166.6 197.2h0M164.6 199.2h0M172.4 203.4h0M170.0 202.7h0M167.4 202.5h0M164.9 202.5h0M159.7 202.3h0M156.9 202.1h0M151.9 200.8h0M149.6 199.2h0M147.4 198.3h0M142.2 200.0h0M140.3 202.2h0M171.0 272.2h0M170.7 269.2h0M171.0 266.3h0M171.1 257.7h0M170.6 254.9h0M169.5 252.1h0M167.4 250.4h0M166.1 247.9h0M165.3 244.8h0M164.7 242.1h0M166.6 237.0h0M170.4 232.8h0M173.7 221.6h0M160.9 258.1h0M160.8 255.1h0M161.9 252.5h0M163.0 249.6h0M162.6 247.0h0M162.2 244.2h0M163.3 238.4h0M167.4 234.5h0M169.9 233.6h0M172.3 232.8h0M174.9 232.1h0M177.7 232.0h0M179.9 230.8h0M182.6 230.8h0M185.1 229.9h0M187.7 229.6h0M185.1 230.6h0M182.5 231.4h0M184.8 241.5h0M180.9 245.8h0M179.1 247.6h0M175.9 255.5h0M116.9 242.1h0M118.0 244.7h0M120.0 246.6h0M121.1 249.3h0M123.4 250.8h0M124.5 253.4h0M124.8 259.2h0M125.8 262.0h0M126.1 264.8h0M126.6 267.7h0M126.5 276.0h0M127.3 278.7h0M129.2 280.5h0M130.3 283.4h0M129.3 286.4h0M128.4 288.7h0M127.7 235.5h0M125.2 235.3h0M122.7 234.7h0M120.3 233.1h0M118.0 232.0h0M116.6 228.9h0M115.5 226.8h0M113.2 225.0h0M112.3 222.4h0M111.2 219.7h0M110.7 216.8h0M110.4 213.8h0M109.9 211.0h0M109.6 207.9h0M77.5 207.5h0M79.3 209.4h0M81.3 211.7h0M83.2 213.6h0M85.0 215.7h0M89.5 218.9h0M91.8 219.4h0M102.1 218.8h0M104.3 220.0h0M105.5 222.2h0M106.9 224.9h0" stroke="#ffe014" stroke-width="1.90" stroke-linecap="round" fill="none"/>
<path d="M97.4 179.1h0M101.5 179.6h0M102.6 178.7h0M106.6 182.1h0M96.9 186.3h0M100.0 186.3h0M88.1 190.9h0M99.0 195.2h0M71.4 196.8h0M88.1 204.1h0M112.0 203.1h0M94.7 211.2h0M111.1 214.1h0M107.8 218.1h0M112.7 218.7h0M98.0 220.6h0M100.5 224.7h0M59.1 226.0h0M71.1 226.0h0M75.8 230.6h0M79.9 230.6h0M127.4 178.4h0M118.2 189.7h0M119.7 192.5h0M114.3 197.8h0M122.8 195.2h0M126.0 196.8h0M124.6 198.8h0M140.6 196.3h0M120.4 204.7h0M128.9 203.1h0M146.7 202.4h0M132.1 210.0h0M150.2 210.4h0M118.2 216.7h0M115.8 222.9h0M133.6 219.1h0M161.4 212.9h0M162.6 216.7h0M171.4 212.5h0M173.8 218.1h0M168.3 222.9h0M169.2 223.7h0M175.3 222.9h0M64.6 232.3h0M66.1 231.7h0M66.8 236.9h0M57.6 244.7h0M66.1 246.7h0M48.3 249.8h0M83.1 245.3h0M82.3 252.4h0M84.1 252.4h0M88.4 255.5h0M90.4 254.1h0M43.7 260.1h0M63.7 260.1h0M83.1 258.9h0M83.8 264.6h0M90.1 265.2h0M89.2 269.8h0M86.2 272.6h0M78.4 270.2h0M105.4 261.6h0M89.2 279.0h0M73.1 282.9h0M75.3 282.0h0M126.3 240.3h0M118.2 246.4h0M120.0 246.0h0M121.3 245.3h0M127.4 246.4h0M136.4 245.3h0M117.0 256.1h0M128.2 265.2h0M141.3 278.6h0M127.4 284.0h0M182.7 234.5h0M173.8 243.9h0M176.0 246.0h0M164.1 255.5h0M174.1 259.6h0M179.1 258.3h0" stroke="#00bfff" stroke-width="2.16" stroke-linecap="round" fill="none"/>
</g>
<path d="M244.9 57.6h0M219.6 61.6h0M228.6 85.2h0M238.5 37.2h0M228.9 76.5h0M255.1 59.8h0M254.9 57.2h0M252.4 74.0h0M263.8 80.2h0M226.6 73.2h0M263.8 72.6h0M260.2 65.0h0M239.7 63.4h0M227.8 60.6h0M243.6 56.9h0M226.4 58.9h0M259.4 79.8h0M273.7 75.5h0M233.6 81.9h0M252.4 72.8h0M271.3 65.5h0M251.1 54.3h0M240.0 62.0h0M253.4 58.9h0M294.5 82.9h0M251.9 79.8h0M269.8 64.5h0M238.9 79.6h0M243.5 75.9h0M237.1 55.9h0M221.3 60.3h0M240.5 62.6h0M220.8 69.1h0M242.1 72.5h0M238.7 55.4h0M248.4 78.9h0M252.5 34.8h0M255.4 48.6h0M227.9 67.8h0M247.1 64.4h0M254.6 69.1h0M260.5 80.5h0M255.1 37.1h0M255.4 78.2h0M246.9 67.2h0M225.2 77.6h0M243.7 60.3h0M252.5 61.2h0M234.6 63.6h0M256.8 66.8h0M235.8 69.3h0M229.0 60.6h0M235.5 80.3h0M231.2 65.0h0M246.4 38.1h0M239.9 72.8h0M218.8 60.2h0M256.6 60.9h0M231.8 56.6h0M225.5 73.7h0M237.4 63.6h0M275.5 80.2h0M224.0 83.9h0M250.0 71.9h0M242.0 64.0h0M225.2 54.6h0M225.2 63.0h0M261.5 72.7h0M237.7 68.7h0M245.8 67.5h0M244.8 63.8h0M251.0 68.3h0M224.2 70.1h0M241.0 56.7h0M236.7 61.4h0M231.4 60.0h0M252.7 85.4h0M237.7 78.8h0M256.8 81.1h0M264.5 61.1h0M250.5 63.0h0M240.8 62.2h0M235.9 64.2h0M252.8 64.8h0M258.2 64.9h0M238.5 47.5h0M238.0 53.9h0M250.2 60.6h0M252.4 62.4h0M239.6 76.5h0M245.5 53.4h0M252.9 76.8h0M235.9 65.8h0M230.1 74.6h0M238.9 76.1h0M244.9 57.4h0M245.8 67.3h0M224.5 82.0h0M224.1 60.7h0M253.7 73.1h0M228.9 49.2h0M236.0 78.8h0M228.4 54.4h0M240.9 73.8h0M254.3 62.1h0M223.1 61.3h0M229.0 79.4h0M230.8 73.9h0M263.9 61.8h0M254.8 75.6h0M280.8 72.3h0M270.1 81.1h0M222.8 65.7h0M256.9 82.2h0M256.5 81.3h0M280.4 51.1h0M247.2 53.5h0M238.3 67.2h0M259.9 66.9h0M223.2 75.5h0M245.1 69.6h0M224.1 78.9h0M228.4 83.2h0M238.5 63.3h0M236.6 77.8h0M239.0 60.1h0M306.2 81.3h0M264.8 83.8h0M257.7 64.5h0M229.2 60.4h0M238.5 60.7h0M229.0 57.6h0M254.5 68.1h0M274.8 79.2h0M238.8 79.2h0M270.1 78.6h0M251.1 52.2h0M242.0 74.4h0M248.9 81.2h0M291.5 75.4h0M252.8 73.2h0M281.3 73.8h0M280.1 71.6h0M244.2 71.1h0M277.2 85.0h0M235.9 57.5h0M243.7 80.1h0M234.2 75.0h0M231.6 69.2h0M272.5 58.5h0M246.1 46.3h0M232.9 65.7h0M251.6 63.8h0M237.4 70.3h0M229.0 62.3h0M289.7 74.4h0M223.6 73.2h0M256.1 69.9h0M241.5 80.3h0M230.5 71.0h0M252.0 78.1h0M243.9 69.3h0M263.5 43.2h0M260.8 66.8h0M221.0 77.5h0M275.6 74.1h0M260.7 58.7h0M227.7 75.5h0M257.4 57.2h0M274.7 63.0h0M243.9 75.8h0M254.6 62.4h0M253.6 75.0h0M228.1 56.2h0M244.3 59.2h0M247.2 52.7h0M219.5 79.0h0M231.8 72.4h0M237.7 60.2h0M228.2 70.9h0M309.5 79.8h0M233.6 66.9h0M237.8 69.1h0M223.9 54.6h0M253.7 86.1h0M251.1 77.2h0M259.2 67.4h0M227.6 63.5h0M249.9 82.7h0M240.6 69.7h0M229.7 58.9h0M222.1 74.4h0M249.1 64.9h0M237.5 63.0h0M250.6 57.8h0M229.2 80.1h0M240.8 60.1h0M240.6 69.4h0M242.4 77.4h0M247.2 62.0h0M237.2 67.9h0M238.4 72.6h0M245.2 53.3h0M252.7 74.1h0M252.2 82.8h0M227.2 57.6h0M224.6 72.5h0M252.2 70.8h0M260.8 69.9h0M244.6 63.8h0M268.5 75.5h0M244.0 60.4h0M243.8 61.0h0M240.3 79.2h0M239.8 75.3h0M280.5 80.4h0M239.7 63.5h0M240.9 72.9h0M223.9 59.6h0M243.6 83.7h0M227.7 70.8h0M243.0 76.3h0M264.3 72.4h0M256.0 65.0h0M256.6 66.0h0M257.8 69.7h0M231.5 51.0h0M242.6 77.7h0M235.8 54.7h0M262.5 71.6h0M237.4 72.0h0M248.8 72.8h0M241.8 87.5h0M234.9 59.3h0M239.1 70.2h0M251.8 63.0h0M247.3 61.2h0M219.2 68.8h0M218.3 69.8h0M266.7 80.3h0M220.9 63.0h0M269.7 61.7h0M243.8 51.2h0M228.9 59.7h0M257.6 79.2h0M247.2 77.7h0M244.4 86.2h0M228.9 50.1h0M256.9 61.4h0M244.5 55.6h0M233.1 60.3h0M248.4 78.9h0M279.3 68.0h0M243.3 80.1h0M233.3 82.5h0M252.5 57.6h0M222.3 60.4h0M240.2 79.5h0M261.2 61.5h0M243.8 68.1h0M243.8 68.2h0M253.8 75.7h0M239.5 65.7h0M242.5 64.7h0M235.2 64.0h0M281.6 68.4h0M239.8 76.1h0M246.0 57.5h0M241.0 75.9h0M269.2 79.6h0M234.2 56.4h0M245.5 76.5h0M234.2 43.2h0M246.7 75.8h0M247.9 70.2h0M255.3 82.9h0M227.8 82.4h0M223.5 60.7h0M242.6 81.9h0M270.0 69.8h0M260.5 60.9h0M245.5 19.4h0M225.5 55.1h0M225.1 66.4h0M239.2 69.1h0M251.3 58.0h0M240.3 52.6h0M254.5 79.7h0M238.0 58.7h0M223.1 61.8h0M220.3 59.2h0M253.1 64.4h0M238.7 73.3h0M274.0 74.7h0M232.3 59.6h0M234.6 67.8h0M270.1 64.5h0M293.7 79.3h0M266.0 74.7h0M222.0 61.0h0M245.8 62.4h0M235.7 81.5h0M223.7 77.1h0M242.3 35.5h0M230.0 58.4h0M264.2 55.7h0M227.8 70.7h0M242.0 61.7h0M250.0 61.4h0M252.0 74.3h0M260.1 79.5h0M277.7 63.5h0M224.3 59.1h0M239.5 55.7h0M245.9 71.9h0M233.8 56.4h0M248.5 70.4h0M251.0 61.7h0M243.8 67.2h0M277.5 74.8h0M278.2 86.7h0M245.8 60.0h0M247.3 75.9h0M276.1 78.2h0M239.5 64.7h0M231.6 76.6h0M237.9 53.0h0M249.3 52.5h0M254.1 80.1h0M250.8 62.1h0M229.3 64.6h0M229.4 69.0h0M235.4 62.6h0M260.2 77.0h0M228.1 75.1h0M232.6 76.4h0M258.3 61.3h0M246.9 80.4h0M228.7 70.9h0M283.4 67.7h0M236.2 73.2h0M251.5 78.2h0M223.4 77.2h0M246.6 57.4h0M244.1 67.2h0M241.6 67.3h0M228.3 71.3h0M271.3 81.6h0M260.6 72.1h0M301.1 79.8h0M256.1 44.1h0M267.0 83.0h0M252.2 51.5h0M244.5 75.1h0M256.3 79.1h0M234.3 69.2h0M236.0 62.0h0M218.8 74.3h0M221.6 73.1h0M230.2 80.3h0M247.4 65.5h0M220.9 62.6h0M253.4 62.3h0M240.0 54.9h0M227.6 59.9h0M249.4 51.8h0M241.8 65.2h0M235.7 52.3h0M224.1 76.6h0M240.7 61.4h0M253.7 74.9h0M254.2 70.0h0M236.0 74.7h0M226.6 60.6h0M235.2 68.7h0M233.9 64.6h0M238.6 68.3h0M227.6 57.8h0M225.1 73.7h0M232.8 75.5h0M227.4 60.8h0M220.0 65.4h0M237.4 60.9h0M232.8 76.3h0M237.3 84.3h0M245.4 70.6h0M273.2 77.6h0M250.4 68.4h0M238.2 82.2h0M254.3 62.7h0M257.7 63.6h0M240.6 74.9h0M253.9 75.8h0M261.5 81.5h0M235.0 63.2h0M249.7 76.2h0M252.4 70.6h0M283.1 80.7h0M244.3 79.6h0M261.1 71.9h0M239.1 81.0h0M251.5 80.6h0M249.2 64.2h0M246.6 68.2h0M243.6 66.1h0M220.2 73.5h0M244.7 77.0h0M227.3 84.1h0M228.8 73.6h0M231.9 66.1h0M257.6 73.1h0M235.4 70.5h0M288.9 67.7h0M240.5 65.8h0M236.0 76.1h0M237.7 63.0h0M239.4 58.6h0M261.8 53.8h0M239.0 49.7h0M244.4 72.3h0M253.1 76.0h0M281.5 66.8h0M225.4 61.4h0M263.6 68.9h0M247.6 73.1h0M243.4 78.8h0M243.7 54.2h0M250.7 73.0h0M242.7 67.5h0M251.8 56.1h0M228.0 56.5h0M227.5 49.7h0M287.5 70.0h0M244.8 64.2h0M239.9 62.9h0M226.9 67.6h0M227.1 74.9h0M266.2 66.4h0M239.4 75.5h0M255.6 59.8h0M230.9 77.7h0M251.3 62.3h0M225.5 60.9h0M241.2 49.1h0M220.2 73.8h0M236.8 79.0h0M238.3 82.0h0M275.5 62.9h0M240.3 64.7h0M238.4 70.3h0M235.0 59.0h0M219.8 70.2h0M234.0 57.9h0M255.0 70.0h0M290.9 81.3h0M245.9 73.9h0M232.5 31.7h0M262.3 69.7h0M231.8 64.9h0M274.0 73.9h0M232.5 74.0h0M258.7 67.1h0M241.8 81.0h0M230.9 62.2h0M262.5 81.5h0M283.0 84.5h0M275.3 61.3h0M248.5 74.3h0M239.2 62.7h0M221.2 68.1h0M242.9 75.0h0M220.8 73.1h0M288.0 85.4h0M245.9 66.3h0M228.7 75.2h0M255.8 58.3h0M228.4 71.1h0M233.5 48.6h0M254.4 63.4h0M269.1 71.7h0M251.4 65.1h0M257.9 81.5h0M233.0 58.9h0M248.1 71.8h0M239.1 82.8h0M265.8 64.2h0M242.8 75.6h0M239.3 83.3h0M248.8 60.3h0M254.7 63.2h0M239.0 81.9h0M238.8 65.8h0M260.1 63.4h0M226.0 76.8h0M259.2 81.9h0M226.7 76.2h0M286.4 78.7h0M254.7 77.3h0M232.8 73.9h0M245.7 68.7h0M225.2 66.6h0M265.3 71.6h0M247.0 63.3h0M245.0 41.5h0M270.1 77.4h0M262.0 58.2h0M239.0 68.7h0M238.3 63.1h0M250.5 68.4h0M223.9 55.6h0M250.9 63.4h0M245.9 73.8h0M222.5 55.4h0M259.1 64.0h0M259.2 60.4h0M251.8 66.7h0M237.0 69.2h0M246.6 73.8h0M225.0 66.8h0M250.6 69.6h0M228.7 74.3h0M226.7 74.7h0M246.9 72.4h0M237.4 67.6h0M239.2 64.4h0M256.7 69.5h0M230.3 76.8h0M276.0 78.3h0M254.8 49.0h0M229.7 72.0h0M224.6 76.5h0M238.2 65.0h0M227.6 75.9h0M247.3 79.5h0M233.4 69.0h0M257.7 81.8h0M250.1 68.1h0M249.7 58.4h0M234.5 68.7h0M246.6 75.6h0M232.3 71.7h0M250.5 74.2h0M251.5 48.6h0M235.5 76.0h0M250.0 79.2h0M252.6 32.8h0M237.9 53.2h0M249.5 77.2h0M247.4 53.5h0M221.1 62.1h0M240.7 65.1h0M239.1 78.3h0M243.0 77.7h0M240.7 66.5h0M261.6 73.2h0M224.9 61.1h0M249.2 65.5h0M284.2 73.1h0M241.6 75.3h0M223.1 60.8h0M244.4 68.6h0M247.1 45.6h0M264.7 70.6h0M233.4 55.9h0M233.6 69.5h0M233.7 80.0h0M227.6 57.2h0M246.1 78.9h0M245.8 69.4h0M296.8 71.8h0M237.6 82.4h0M245.7 81.1h0M254.6 63.4h0M234.8 62.2h0M260.7 61.1h0M240.1 32.3h0M274.8 67.0h0M287.1 75.1h0M266.8 64.7h0M252.5 70.1h0M246.3 53.3h0M264.9 68.7h0M225.1 79.0h0M250.0 57.5h0M221.6 64.9h0M232.6 83.8h0M230.7 70.3h0M279.9 66.9h0M236.6 76.3h0M232.0 69.5h0M249.6 63.2h0M228.3 68.4h0M244.5 75.3h0M262.7 79.5h0M224.0 57.1h0M243.9 69.2h0M257.4 53.4h0M242.3 84.4h0M243.9 55.4h0M249.1 51.2h0M225.1 72.5h0M219.4 79.1h0M225.2 80.8h0M260.3 62.8h0M254.1 54.9h0M279.6 78.1h0M227.0 73.9h0M231.2 75.2h0M228.3 62.5h0M252.9 69.5h0M264.7 74.8h0M295.5 87.0h0M242.4 78.5h0M261.1 63.1h0M223.3 79.3h0M232.4 79.9h0M243.3 73.2h0M278.0 71.0h0M223.0 61.8h0M227.5 63.0h0M286.0 73.2h0M252.6 46.1h0M227.9 65.1h0M243.8 62.9h0M258.5 68.1h0M231.8 69.1h0M227.6 42.0h0M248.3 58.7h0M243.8 53.5h0M254.2 65.8h0M240.6 43.7h0M244.3 58.7h0M245.9 83.5h0M257.6 65.4h0M220.7 75.6h0M233.2 78.8h0M253.8 75.5h0M256.1 70.6h0M227.9 54.5h0M307.7 77.6h0M252.2 70.1h0M225.4 79.6h0M219.1 65.0h0M258.1 73.7h0M231.8 61.3h0M279.2 77.9h0M278.5 68.8h0M227.4 82.0h0M261.7 67.9h0M227.5 69.2h0M261.0 71.6h0M225.1 74.5h0M286.8 70.1h0M223.2 56.3h0M241.6 73.7h0M292.5 83.4h0M226.7 59.8h0M242.3 73.6h0M247.0 90.1h0M282.4 73.6h0M223.1 59.9h0M265.6 64.5h0M234.1 83.9h0M233.0 69.4h0M238.4 72.2h0M274.0 78.7h0M242.0 77.9h0M263.0 63.3h0M238.9 79.2h0M290.1 79.5h0M245.5 69.6h0M292.7 80.4h0M249.1 57.4h0M261.8 67.3h0M236.7 61.3h0M258.2 52.7h0M254.9 62.8h0M251.7 77.4h0M230.5 76.4h0M237.6 65.7h0M221.7 75.8h0M222.4 57.7h0M241.2 78.3h0M237.2 65.2h0M265.1 74.7h0M243.3 63.9h0M223.0 64.8h0M272.7 76.6h0M242.8 26.3h0M249.3 64.1h0M255.9 71.0h0M231.1 53.9h0M219.9 61.5h0M238.9 77.3h0M286.8 82.1h0M287.3 82.5h0M269.6 79.1h0M245.8 68.3h0M252.9 67.2h0M237.3 66.3h0M255.4 70.9h0M259.3 70.8h0M260.1 71.5h0M235.6 76.6h0M249.4 71.0h0M247.9 82.7h0M240.0 69.6h0M232.9 80.6h0M220.1 64.4h0M265.6 67.2h0M254.5 73.5h0M273.8 69.9h0M240.8 78.2h0M229.7 41.5h0M229.9 72.2h0M224.6 71.0h0M224.6 78.7h0M237.6 78.9h0M238.2 66.2h0M235.6 83.0h0M242.0 57.6h0M252.9 83.9h0M229.7 78.4h0M247.8 67.2h0M236.3 50.8h0M227.4 84.5h0M262.0 61.5h0M253.1 64.1h0M270.8 81.4h0M267.6 77.8h0M257.4 82.8h0M247.0 53.3h0M222.0 66.4h0M249.4 77.7h0M230.3 56.0h0M256.0 62.8h0M262.5 62.6h0M281.2 81.9h0M238.7 82.2h0M253.8 59.8h0M244.2 60.3h0M248.7 75.6h0M227.0 58.3h0M228.8 56.0h0M242.7 65.8h0M235.2 62.7h0M224.9 74.1h0M240.9 65.3h0M255.3 43.1h0M234.6 65.4h0M225.8 61.4h0M241.0 57.6h0M249.1 53.5h0M223.9 78.8h0M254.8 47.6h0M291.3 73.0h0M223.4 57.9h0M226.1 78.4h0M246.0 78.8h0M247.8 81.2h0M260.8 45.4h0M224.6 78.6h0M281.7 67.3h0M253.3 70.7h0M249.2 69.1h0M255.9 68.0h0M236.1 70.1h0M244.2 77.6h0M235.4 53.5h0M241.2 76.6h0M229.3 83.6h0M243.9 67.3h0M235.5 76.4h0M233.3 81.1h0M252.4 75.7h0M226.2 63.8h0M259.1 71.4h0M258.3 68.8h0M235.8 80.4h0M228.4 79.5h0M230.1 79.1h0M275.3 66.0h0M271.0 58.0h0M249.9 71.1h0M228.7 77.2h0M249.1 68.6h0M257.7 66.9h0M233.3 67.3h0M230.9 68.9h0M238.0 29.4h0M245.0 72.1h0M262.5 66.5h0M260.4 50.0h0M263.1 70.5h0M298.2 81.0h0M243.2 64.5h0M247.3 56.3h0M232.6 58.7h0M237.5 76.2h0M258.5 78.8h0M231.3 51.8h0M258.1 70.6h0M243.2 82.0h0M231.0 55.6h0M244.3 74.2h0M236.1 55.1h0M260.2 46.5h0M266.3 58.5h0M224.4 55.4h0M228.4 62.5h0M229.0 67.5h0M281.5 66.6h0M227.9 61.7h0M253.2 71.4h0M254.6 67.4h0M227.5 63.7h0M232.1 55.5h0M242.3 63.4h0M264.5 82.1h0M254.1 83.4h0M236.8 54.6h0M272.6 74.4h0M241.9 58.2h0M229.4 62.2h0M234.2 65.5h0M233.9 72.4h0M244.9 65.5h0M237.1 80.0h0M262.1 74.0h0M245.1 60.8h0M232.3 76.6h0M259.3 75.5h0M221.3 60.6h0M241.9 64.8h0M224.0 59.3h0M260.3 71.3h0M249.8 77.1h0M236.5 81.9h0M250.7 75.0h0M244.6 64.6h0M247.7 38.8h0M221.8 58.4h0M247.1 73.2h0M233.2 70.5h0M232.5 62.2h0M237.8 77.4h0M260.0 75.4h0M223.7 71.8h0M249.9 57.2h0M229.9 76.2h0M228.1 65.9h0M248.1 48.4h0M241.2 73.8h0M246.6 69.3h0M258.7 59.3h0M240.7 68.0h0M258.0 85.6h0M240.9 84.5h0M272.9 79.3h0M259.6 58.4h0M240.8 59.7h0M261.0 65.3h0M240.8 82.8h0M218.8 68.1h0M223.9 61.5h0M254.8 64.9h0M222.0 60.1h0M224.7 66.9h0M240.5 63.6h0M225.0 64.3h0M239.0 80.6h0M233.5 76.2h0M269.3 81.0h0M250.6 82.0h0M250.3 71.3h0M241.2 38.3h0M252.4 44.1h0M230.8 67.0h0M239.5 28.5h0M255.4 45.9h0M254.2 82.6h0M257.3 70.2h0M251.0 69.7h0M225.3 73.5h0M241.2 66.9h0M228.4 63.9h0M235.2 74.7h0M251.5 62.2h0M241.0 55.3h0M282.4 81.6h0M264.1 77.8h0M296.6 80.5h0M245.5 55.5h0M242.8 71.0h0M264.8 83.8h0M230.3 59.5h0M223.6 60.6h0M242.3 76.6h0M236.7 66.1h0M227.7 61.7h0M249.0 92.7h0M224.3 53.8h0M277.4 75.0h0M292.0 84.5h0M247.1 67.3h0M227.5 50.9h0M237.0 72.5h0M260.9 71.6h0M245.7 83.6h0M233.0 77.9h0M226.3 80.9h0M228.6 65.2h0M239.5 80.5h0M222.2 76.3h0M233.5 82.5h0M245.7 82.1h0M249.7 71.9h0M242.0 74.1h0M244.2 63.1h0M240.4 75.7h0M236.3 72.0h0M251.9 55.9h0M263.0 68.2h0M247.2 80.8h0M257.6 77.5h0M273.5 78.2h0M228.0 62.3h0M265.2 80.7h0M247.6 71.3h0M241.7 66.1h0M251.9 72.0h0M252.6 81.8h0M265.4 73.9h0M251.0 61.4h0M238.6 36.3h0M261.4 77.5h0M232.5 70.9h0M270.0 77.6h0M279.0 60.7h0M278.4 70.8h0M248.0 71.5h0M243.9 48.6h0M238.5 70.0h0M258.9 68.8h0M259.5 76.4h0M252.2 81.2h0M254.9 68.3h0M251.2 68.6h0M248.8 59.1h0M224.3 55.7h0M223.1 80.9h0M254.4 64.6h0M291.2 71.6h0M244.2 23.5h0M219.6 67.6h0M267.1 67.3h0M236.8 65.3h0M271.8 64.8h0M254.2 79.7h0M232.8 59.7h0M249.4 53.9h0M232.4 64.2h0M258.1 50.3h0M255.4 53.9h0M283.8 81.9h0M228.9 59.5h0M234.5 79.8h0M264.3 83.4h0M250.1 74.9h0M245.0 67.4h0M238.5 78.5h0M241.4 78.1h0M253.5 60.0h0M259.8 79.8h0M240.6 77.5h0M226.9 80.2h0M259.6 65.5h0M222.6 78.5h0M249.5 51.5h0M222.3 80.8h0M234.3 72.8h0M227.3 58.2h0M238.3 84.1h0M241.7 62.3h0M231.7 52.3h0M232.2 72.7h0M233.7 55.7h0M245.6 56.9h0M226.3 57.3h0M251.9 75.4h0M250.3 78.2h0M252.8 56.4h0M255.9 82.4h0M232.8 51.7h0M251.5 59.6h0M249.0 70.6h0M230.6 76.1h0M238.6 74.9h0M232.6 56.3h0M225.7 75.3h0M254.8 69.9h0M253.8 71.4h0M229.3 52.7h0M230.5 64.8h0M235.4 71.2h0M236.4 80.2h0M264.6 81.7h0M271.1 67.0h0M236.1 60.4h0M234.9 70.1h0M233.2 57.4h0M231.6 70.5h0M226.9 64.5h0M258.8 59.7h0M243.7 57.4h0M244.2 53.3h0M223.7 74.3h0M241.2 75.0h0M243.7 54.0h0M252.5 69.3h0M265.4 70.7h0M222.9 80.6h0M226.7 70.4h0M263.6 78.1h0M256.2 60.3h0M251.7 77.0h0M307.7 71.2h0M229.8 58.8h0M241.6 70.2h0M251.5 36.4h0M235.2 79.4h0M244.1 68.7h0M247.6 79.4h0M228.6 74.4h0M219.5 70.3h0M227.3 73.0h0M236.7 78.8h0M221.2 65.9h0M252.7 58.1h0M233.4 58.9h0M256.5 42.6h0M249.2 58.9h0M227.1 56.6h0M224.0 57.1h0M249.8 53.5h0M281.8 81.5h0M251.2 63.4h0M251.6 77.3h0M260.6 65.2h0M219.5 72.2h0M271.3 67.8h0M272.7 77.7h0M246.2 68.4h0M266.2 75.8h0M250.8 48.7h0M257.5 75.1h0M253.6 70.2h0M227.6 74.4h0M232.9 61.4h0M228.7 62.3h0M251.1 44.8h0M220.1 62.8h0M230.1 52.4h0M227.8 79.0h0M269.5 64.1h0M244.2 65.1h0M225.8 66.7h0M243.8 83.5h0M256.3 69.4h0M268.7 66.7h0M235.4 65.9h0M258.1 77.7h0M261.9 51.2h0M262.5 64.9h0M222.2 80.9h0M241.6 74.6h0M261.8 67.6h0M221.0 72.2h0M244.5 33.9h0M227.8 58.6h0M247.8 58.1h0M232.7 67.5h0M256.0 74.1h0M243.6 73.9h0M236.7 76.5h0M250.7 45.9h0M237.2 83.6h0M238.9 54.3h0M235.2 67.4h0M262.0 72.3h0M233.7 55.6h0M229.7 69.5h0M246.6 60.8h0M237.6 63.9h0M256.3 63.8h0M240.6 51.4h0M264.4 80.0h0M265.6 66.5h0M223.1 80.3h0M239.7 72.4h0M228.5 74.6h0M279.2 58.1h0M224.0 80.9h0M243.8 81.0h0M224.9 54.5h0M263.8 67.2h0M249.3 73.9h0M229.2 73.5h0M248.0 59.3h0M218.6 78.0h0M250.2 69.3h0M244.3 84.9h0M221.4 72.7h0M259.0 69.9h0M284.4 68.8h0M223.2 54.8h0M242.2 65.1h0M240.4 56.6h0M249.0 84.6h0M255.0 64.7h0M234.8 71.0h0M244.4 58.6h0M233.7 58.2h0M239.1 69.6h0M233.2 68.0h0M227.4 58.8h0M258.9 55.9h0M225.2 76.8h0M228.3 56.3h0M280.2 76.2h0M248.2 74.9h0M256.6 52.0h0M227.4 78.7h0M268.7 62.8h0M245.3 77.5h0M261.8 60.1h0M249.8 80.0h0M231.4 36.1h0M241.6 63.4h0M258.3 76.0h0M249.6 67.5h0M249.8 52.8h0M246.5 53.3h0M255.5 60.6h0M220.1 61.2h0M258.7 55.3h0M225.4 64.2h0M249.5 58.6h0M253.3 80.3h0M274.9 71.5h0M234.1 82.6h0M228.1 80.9h0M250.8 66.2h0M231.1 67.0h0M260.7 68.9h0M235.8 58.2h0M239.9 57.4h0M252.1 63.1h0M246.5 44.1h0M244.9 47.8h0M269.0 70.6h0M230.3 75.2h0M250.3 63.0h0M220.4 74.4h0M233.4 66.0h0M220.8 59.9h0M220.1 66.3h0M237.2 51.0h0M238.5 78.7h0M259.5 67.7h0M226.0 55.0h0M238.1 61.4h0M229.0 64.7h0M249.6 83.4h0M234.6 75.0h0M243.8 78.3h0M252.1 82.7h0M239.3 81.3h0M259.5 74.2h0M229.5 48.2h0M245.5 45.9h0M247.8 60.7h0M249.2 63.7h0M243.5 70.3h0M247.2 49.1h0M247.8 60.3h0M228.7 79.2h0M224.7 51.8h0M241.3 69.0h0M230.0 74.8h0M235.4 81.8h0M221.0 77.5h0M252.4 39.5h0M222.6 55.2h0M225.1 72.3h0M225.1 80.1h0M240.2 75.1h0M241.0 55.9h0M228.8 57.7h0M231.7 63.3h0M229.0 76.0h0M237.4 81.8h0M239.3 72.0h0M237.4 51.2h0M264.6 68.9h0M259.1 51.4h0M252.9 76.5h0M252.1 53.0h0M283.0 79.4h0M266.0 67.6h0M221.7 71.4h0M223.3 60.0h0M266.7 76.5h0M222.1 63.2h0M256.7 71.6h0M248.2 64.7h0M258.6 70.0h0M223.1 80.6h0M243.6 62.3h0M243.1 78.0h0M232.0 64.2h0M235.7 43.2h0M227.6 80.3h0M283.1 81.1h0M296.0 83.5h0M249.4 55.6h0M232.1 73.2h0M256.0 68.7h0M254.4 61.8h0M239.6 70.0h0M253.6 68.8h0M235.8 67.3h0M249.2 78.0h0M255.4 83.7h0M227.5 48.6h0M242.5 52.8h0M258.3 78.1h0M228.3 55.5h0M245.8 75.0h0M248.2 65.6h0M231.1 61.4h0M220.4 64.2h0M244.0 77.8h0M255.5 81.7h0M238.3 74.0h0M287.6 84.6h0M259.9 57.4h0M275.6 82.3h0M253.9 75.4h0M260.2 73.3h0M272.1 63.6h0M267.7 78.7h0M235.9 57.2h0M262.7 68.8h0M281.7 65.3h0M226.3 83.6h0M253.4 71.2h0M248.4 60.8h0M228.9 70.5h0M261.9 59.6h0M231.3 57.6h0M242.1 60.0h0M246.7 76.0h0M251.2 79.0h0M255.8 63.4h0M250.6 68.1h0M226.6 67.2h0M242.3 78.2h0M224.5 78.3h0M256.5 65.3h0M239.8 62.8h0M274.5 73.1h0M231.0 81.8h0M256.7 68.4h0M241.6 72.8h0M227.8 75.0h0M235.6 71.3h0M250.5 59.8h0M248.7 79.7h0M249.2 74.3h0M244.0 63.4h0M231.5 77.6h0M252.5 72.5h0M232.7 55.4h0M231.8 75.8h0M224.8 52.9h0M232.0 57.9h0M267.1 64.0h0M259.1 69.6h0M232.1 55.3h0M235.3 82.1h0M239.6 71.2h0M267.4 74.8h0M223.3 62.0h0M232.7 62.5h0M236.3 80.5h0M221.2 57.9h0M243.5 69.5h0M265.9 76.0h0M235.0 77.7h0M240.6 40.5h0M266.4 76.0h0M220.1 72.0h0M249.8 56.8h0M231.1 69.2h0M237.2 74.5h0M261.9 70.9h0M237.3 66.7h0M229.8 58.3h0M234.2 80.7h0M241.4 66.4h0M254.8 45.4h0M251.0 39.9h0M240.0 77.5h0M238.3 49.4h0M233.0 67.8h0M254.3 77.0h0M252.8 79.5h0M245.2 74.8h0M226.5 54.4h0M242.3 39.9h0M246.0 70.1h0M259.5 77.0h0M224.9 52.5h0M227.8 77.9h0M219.8 60.8h0M238.5 35.2h0M230.3 75.3h0M249.9 78.2h0M242.8 65.0h0M267.1 76.6h0M248.5 69.7h0M232.8 76.0h0M248.2 76.9h0M221.3 82.4h0M249.6 59.6h0M233.5 78.7h0M231.6 83.5h0M234.1 49.2h0M263.7 59.4h0M224.5 55.9h0M254.7 82.9h0M228.5 64.1h0M253.6 56.7h0M226.0 59.9h0M247.8 66.4h0M239.9 74.3h0M226.6 81.9h0M231.4 77.0h0M224.7 59.4h0M267.0 70.3h0M313.3 72.7h0M238.9 51.4h0M258.1 77.5h0M255.0 79.1h0M264.8 60.1h0M252.0 39.8h0M249.7 63.3h0M241.9 62.9h0M254.3 79.3h0M220.6 69.4h0M243.6 77.1h0M237.5 72.4h0M233.0 57.4h0M231.9 80.5h0M261.3 66.8h0M251.6 85.9h0M268.3 68.9h0M226.0 72.8h0M260.6 60.4h0M229.2 54.6h0M253.3 71.0h0M270.7 72.9h0M278.3 70.6h0M232.3 60.4h0M236.1 56.6h0M263.9 85.2h0M256.6 74.9h0M250.1 58.2h0M242.5 76.6h0M265.2 68.9h0M257.4 53.3h0M263.3 68.6h0M225.3 76.6h0M272.7 82.7h0M238.9 59.6h0M250.6 84.6h0M235.1 54.4h0M239.7 70.5h0M224.6 59.0h0M260.0 81.4h0M235.3 78.3h0M240.6 69.7h0M251.0 74.5h0M234.6 72.5h0M226.4 66.6h0M225.2 77.7h0M264.3 77.0h0M262.3 72.1h0M281.3 65.0h0M270.3 81.2h0M222.3 63.6h0M275.9 73.7h0M243.3 67.1h0M258.5 69.5h0M276.4 77.1h0M258.4 82.9h0M252.4 70.8h0M253.1 71.1h0M243.5 81.7h0M268.1 63.3h0M226.8 60.5h0M224.7 58.4h0M264.5 79.9h0M261.0 76.5h0M229.7 74.2h0M248.8 76.8h0M229.2 50.0h0M249.0 77.4h0M245.4 72.0h0M249.9 69.0h0M288.1 79.8h0M239.7 55.0h0M242.8 65.5h0M253.9 69.2h0M256.2 70.0h0M226.9 75.9h0M257.8 81.2h0M242.3 62.5h0M252.9 79.6h0M226.5 58.8h0M230.6 72.9h0M236.4 74.3h0M248.8 48.1h0M228.8 53.2h0M275.8 81.5h0M244.8 74.0h0M251.8 73.4h0M238.6 63.0h0M230.4 53.9h0M237.8 76.9h0M244.1 64.5h0M235.4 68.2h0M228.2 57.3h0M236.2 81.1h0M237.6 69.9h0M232.1 58.9h0M241.3 79.9h0M225.8 51.4h0M230.6 59.6h0M253.1 60.6h0M230.0 66.1h0M261.2 58.1h0M240.1 80.5h0M279.4 81.8h0M249.0 54.0h0M258.9 71.5h0M239.8 71.6h0M228.1 59.6h0M239.7 46.9h0M247.2 67.0h0M247.9 78.8h0M250.2 80.9h0M243.0 69.8h0M239.0 59.0h0M259.1 62.4h0M264.1 58.9h0M270.8 73.6h0M231.1 70.2h0M256.9 77.6h0M237.4 71.3h0M256.1 72.4h0M267.7 79.9h0M250.3 64.3h0M239.6 82.8h0M220.6 73.3h0M257.4 64.9h0M241.3 61.3h0M242.5 61.8h0M242.7 53.9h0M293.7 77.9h0M244.2 76.5h0M237.7 60.1h0M292.0 85.1h0M238.7 59.6h0M231.4 75.3h0M224.6 79.5h0M233.2 66.0h0M257.0 72.3h0M252.5 77.3h0M231.6 83.1h0M243.2 67.3h0M249.7 56.4h0M245.8 67.1h0M225.7 63.0h0M243.9 72.5h0M230.2 58.6h0M250.9 62.5h0M234.2 71.9h0M251.8 78.3h0M290.7 78.8h0M246.9 74.8h0M222.1 59.8h0M277.4 71.7h0M260.6 68.7h0M253.9 71.5h0M251.4 55.0h0M247.2 70.3h0M262.7 48.7h0M242.0 69.6h0M270.3 72.0h0M255.7 73.0h0M248.2 82.9h0M240.2 55.6h0M241.5 80.3h0M251.3 65.9h0M229.4 68.5h0M255.6 72.2h0M252.4 79.7h0M241.5 65.1h0M235.5 82.5h0M232.5 55.2h0M225.6 69.1h0M228.4 76.8h0M226.3 55.9h0M237.0 77.0h0M246.0 74.8h0M219.3 63.4h0M223.3 80.0h0M256.1 81.7h0M246.3 67.2h0M249.2 50.1h0M247.2 83.2h0M237.3 76.7h0M225.0 72.6h0M259.2 66.0h0M221.7 64.1h0M245.1 64.8h0M251.7 38.3h0M260.4 54.2h0M249.0 61.0h0M233.0 66.8h0M251.1 73.6h0M233.4 76.8h0M258.3 81.0h0M238.5 61.0h0M245.1 76.8h0M218.8 68.0h0M259.3 76.6h0M230.2 65.6h0M229.4 54.8h0M256.6 53.2h0M243.4 61.2h0M235.2 53.4h0M255.2 60.5h0M272.2 62.6h0M240.2 77.0h0M229.7 80.3h0M232.2 51.1h0M245.8 75.2h0M218.2 66.0h0M247.9 50.6h0M258.0 71.9h0M244.3 61.0h0M240.6 69.5h0M219.6 70.0h0M225.5 69.2h0M246.7 61.6h0M266.0 80.5h0M234.1 65.2h0M260.4 66.2h0M261.3 64.3h0M255.7 66.3h0M243.3 78.1h0M231.7 65.4h0M241.4 79.4h0M230.4 72.6h0M225.4 43.2h0M242.1 60.6h0M267.8 71.7h0M237.8 60.4h0M244.5 77.5h0M246.9 67.7h0M223.7 67.5h0M232.8 78.1h0M256.6 45.6h0M257.7 60.2h0M273.0 85.0h0M242.2 62.7h0M243.1 77.7h0M248.0 69.3h0M230.2 58.1h0M240.3 57.7h0M284.5 80.4h0M271.4 63.0h0M231.9 44.8h0M221.9 79.0h0M258.6 62.2h0M278.3 72.3h0M226.1 66.2h0M244.6 62.3h0M240.9 82.1h0M239.2 68.6h0M261.2 73.2h0M269.3 75.3h0M254.1 54.2h0M252.9 80.8h0M252.2 75.2h0M226.8 54.5h0M229.6 66.3h0M248.1 57.7h0M232.2 64.3h0M222.6 63.0h0M264.4 63.6h0M249.6 68.2h0M262.5 39.4h0M271.1 67.6h0M232.3 69.2h0M258.8 78.6h0M230.2 73.3h0M229.9 59.6h0M251.3 75.9h0M219.8 71.1h0M272.9 68.8h0M245.1 62.5h0M258.9 48.5h0M282.3 69.0h0M228.1 46.5h0M231.8 59.3h0M223.1 58.0h0M249.5 68.4h0M238.3 57.9h0M241.8 71.0h0M237.6 84.7h0M255.8 69.2h0M234.4 54.1h0M244.1 67.3h0M241.2 61.5h0M271.9 67.1h0M242.4 79.8h0M230.9 77.5h0M234.0 77.7h0M243.0 81.9h0M248.0 55.4h0M262.6 71.1h0M268.7 83.0h0M248.3 49.2h0M233.0 81.4h0M259.5 70.8h0M266.2 65.9h0M236.3 30.6h0M227.8 72.8h0M272.7 79.6h0M262.8 64.4h0M233.2 74.5h0M287.1 79.6h0M252.0 32.5h0M257.5 57.1h0M243.6 83.4h0M233.7 68.2h0M235.0 54.8h0M270.0 64.6h0M231.2 75.3h0M243.6 54.9h0M283.6 68.8h0M229.3 62.8h0M265.9 80.5h0M234.3 61.4h0M234.0 60.4h0M244.1 59.0h0M231.4 72.1h0M222.5 61.5h0M226.5 74.4h0M242.8 72.6h0M255.8 80.5h0M235.5 65.0h0M268.3 82.9h0M228.5 71.4h0M244.7 63.8h0M236.3 52.0h0M262.1 72.1h0M234.8 72.5h0M227.9 73.8h0M222.5 74.6h0M237.6 56.2h0M231.7 81.1h0M276.6 79.5h0M269.2 74.1h0M258.9 59.3h0M228.2 66.4h0M232.5 81.5h0M233.5 79.0h0M260.8 60.4h0M245.4 76.5h0M251.8 69.4h0M239.4 71.2h0M246.6 55.2h0M240.4 70.0h0M226.0 61.4h0M266.2 69.5h0M229.1 64.6h0M241.0 82.3h0M228.5 73.0h0M244.5 59.8h0M240.9 66.9h0M249.4 74.2h0M231.2 65.6h0M251.3 56.0h0M229.9 78.5h0M265.3 80.7h0M250.2 84.3h0M260.4 71.7h0M228.8 66.7h0M252.3 39.4h0M255.8 69.0h0M255.7 73.6h0M230.3 78.1h0M243.4 62.7h0M231.3 61.9h0M248.0 82.1h0M244.5 63.7h0M243.8 75.2h0M239.7 62.6h0M252.9 86.9h0M231.4 59.7h0M228.3 77.3h0M246.2 68.6h0M248.7 66.2h0M246.0 67.9h0M274.3 61.3h0M256.9 68.3h0M229.4 65.7h0M234.7 80.1h0M232.2 81.6h0M223.4 75.1h0M244.7 58.5h0M237.5 60.9h0M235.4 68.2h0M223.9 66.4h0M237.2 75.0h0M236.1 74.3h0M256.7 72.7h0M225.1 72.5h0M222.9 63.1h0M251.0 77.0h0M229.3 63.3h0M261.0 59.4h0M277.0 73.9h0M241.7 29.0h0M246.6 68.5h0M251.5 83.8h0M245.6 69.7h0M233.9 74.5h0M229.4 62.7h0M221.5 75.2h0M242.0 75.8h0M241.0 60.4h0M223.6 71.5h0M234.4 82.2h0M259.5 68.4h0M233.9 74.7h0M224.4 77.0h0M225.8 74.0h0M243.1 79.5h0M254.6 81.1h0M221.6 79.9h0M235.6 60.1h0M236.1 57.3h0M238.3 70.6h0M246.2 71.3h0M218.1 71.5h0M266.4 80.6h0M253.2 69.6h0M230.8 85.6h0M241.4 65.7h0M237.7 69.8h0M221.9 69.7h0M272.9 78.1h0M274.3 70.4h0M241.7 71.3h0M249.7 72.9h0M238.3 53.0h0M265.5 62.4h0M254.9 50.9h0M224.9 67.9h0M247.4 58.9h0M247.5 73.1h0M237.7 66.1h0M263.3 74.4h0M283.6 81.8h0M237.7 71.6h0M244.6 53.1h0M241.7 45.4h0M224.5 80.9h0M252.8 75.0h0M293.8 76.0h0M235.2 65.9h0M251.0 43.2h0M290.6 72.0h0M221.9 58.7h0M249.6 74.0h0M260.6 77.3h0M223.2 71.5h0M247.7 51.9h0M282.5 83.6h0M234.0 68.0h0M254.8 49.4h0M225.6 66.4h0M249.5 76.7h0M230.1 80.4h0M241.0 59.5h0M236.0 61.6h0M231.7 72.6h0M234.1 84.4h0M223.9 75.9h0M279.0 70.9h0M252.7 64.7h0M246.8 77.3h0M243.2 71.5h0M238.8 47.9h0M263.2 79.3h0M219.6 75.0h0M223.9 64.2h0M271.2 83.3h0M243.6 62.7h0M225.5 65.3h0M237.5 60.5h0M237.9 29.8h0M263.0 75.5h0M272.5 61.8h0M240.2 77.1h0M239.4 33.6h0M234.8 55.7h0M236.0 57.1h0M253.8 69.4h0M275.2 77.1h0M255.1 83.5h0M241.4 58.0h0M244.6 58.4h0M288.6 69.2h0M227.1 75.8h0M242.3 75.9h0M228.0 67.4h0M283.5 66.1h0M247.2 81.6h0M239.3 69.6h0M269.2 70.5h0M256.4 57.3h0M256.6 67.5h0M264.1 70.4h0M271.5 63.2h0M275.4 64.3h0M248.0 78.1h0M269.5 71.6h0M263.6 80.0h0M235.6 60.9h0M259.4 59.9h0M241.1 73.5h0M230.1 72.8h0M274.4 79.8h0M231.5 61.1h0M294.9 70.2h0M243.3 69.0h0M261.6 78.4h0M231.1 68.9h0M247.5 65.1h0M245.1 55.7h0M229.4 80.8h0M250.1 61.0h0M273.5 84.9h0M242.0 76.1h0M232.1 74.7h0M262.8 73.3h0M238.9 54.7h0M219.9 65.4h0M223.2 78.2h0M248.0 71.6h0M247.7 43.2h0M218.4 69.5h0M239.8 75.8h0M224.1 63.3h0M232.4 84.5h0M243.6 84.1h0M231.2 67.2h0M264.3 71.7h0M244.6 66.4h0M258.0 81.8h0M252.7 55.8h0M230.8 39.4h0M247.0 58.4h0M243.9 74.6h0M231.2 77.8h0M267.2 67.9h0M240.9 63.1h0M294.9 80.9h0M293.0 78.4h0M252.0 54.4h0M284.9 80.9h0M248.4 67.7h0M228.1 71.4h0M238.7 35.7h0M239.3 62.7h0M264.7 77.3h0M227.8 72.2h0M222.4 60.1h0M238.4 71.6h0M226.3 68.4h0M270.0 81.3h0M247.6 58.8h0M227.2 61.5h0M249.3 74.4h0M227.0 61.3h0M221.7 62.6h0M249.4 81.8h0M255.5 66.3h0M224.4 71.8h0M242.3 57.0h0M225.8 67.7h0M224.2 55.5h0M256.7 78.2h0M252.8 67.7h0M252.6 81.7h0M262.9 82.1h0M271.5 76.5h0M259.0 79.8h0M240.9 63.9h0M260.4 54.4h0M228.6 53.5h0M240.7 74.6h0M223.2 54.7h0M230.0 75.6h0M270.3 82.4h0M232.1 75.5h0M264.5 83.0h0M234.6 61.1h0M225.9 76.5h0M238.2 74.9h0M228.5 82.0h0M253.1 72.4h0M225.8 56.9h0M254.5 81.0h0M232.4 77.9h0M222.6 71.6h0M250.0 52.8h0M249.0 53.0h0M259.3 62.7h0M238.4 57.0h0M272.3 68.2h0M247.5 69.7h0M236.8 75.5h0M287.9 78.7h0M254.9 70.1h0M232.8 60.0h0M253.8 62.1h0M275.7 74.6h0M264.6 57.8h0M235.3 82.5h0M231.8 78.2h0M259.1 68.2h0M245.5 62.7h0M238.5 83.6h0M260.8 68.7h0M237.4 63.4h0M243.8 64.0h0M241.3 62.2h0M251.2 55.7h0M245.2 67.8h0M234.5 81.9h0M241.8 76.8h0M256.8 41.3h0M242.9 76.4h0M258.4 74.9h0M236.0 65.1h0M290.6 69.7h0M253.9 57.8h0M285.4 68.6h0M225.8 66.7h0M232.1 62.3h0M233.5 57.0h0M282.4 78.3h0M240.8 72.6h0M255.6 56.5h0M220.3 67.5h0M232.8 63.7h0M243.1 74.6h0M231.8 67.6h0M283.2 73.2h0M241.7 64.8h0M232.5 81.0h0M253.6 65.5h0M220.8 67.2h0M241.7 71.4h0M248.2 48.0h0M218.9 77.7h0M266.5 72.6h0M244.7 77.6h0M243.4 73.8h0M250.0 78.3h0M270.3 72.7h0M253.2 84.6h0M245.3 41.1h0M229.8 77.1h0M271.2 73.0h0M257.1 59.0h0M244.9 74.9h0M231.8 80.7h0M266.6 76.5h0M253.3 55.7h0M252.2 75.9h0M272.1 78.4h0M225.9 70.1h0M240.2 71.6h0M258.9 60.8h0M239.5 54.1h0M229.4 81.4h0M251.2 80.0h0M266.4 74.6h0M247.7 51.6h0M269.1 65.7h0M219.7 79.8h0M282.4 70.7h0M226.5 55.7h0M219.5 59.2h0M232.8 73.0h0M247.7 78.4h0M272.8 49.4h0M227.4 68.4h0M268.3 58.9h0M242.0 86.3h0M227.6 81.3h0M247.3 55.1h0M283.5 81.3h0M237.6 75.4h0M264.9 68.4h0M238.5 45.9h0M252.4 72.8h0M241.1 67.4h0M254.3 53.0h0M280.5 72.7h0M236.9 50.2h0M279.0 77.6h0M227.3 77.3h0M258.7 68.3h0M249.2 54.5h0M240.9 57.4h0M283.4 83.2h0M254.1 82.0h0M237.0 78.4h0M236.6 79.6h0M250.5 73.9h0M255.7 53.9h0M224.3 59.3h0M230.6 75.4h0M254.1 63.1h0M247.7 66.0h0M268.9 68.9h0M264.1 67.0h0M272.3 49.1h0M255.1 69.4h0M220.1 67.2h0M254.0 65.4h0M249.1 60.1h0M253.8 68.1h0M256.6 76.5h0M229.3 62.9h0M258.4 58.6h0M254.2 39.2h0M241.7 71.5h0M221.6 64.7h0M276.6 81.9h0M259.7 53.6h0M247.3 47.8h0M253.8 74.3h0M240.5 60.3h0M247.9 65.3h0M243.8 61.1h0M227.5 65.9h0M262.7 68.5h0M234.7 82.1h0M229.9 79.5h0M246.1 65.2h0M244.5 51.7h0M272.1 67.3h0M233.8 74.1h0M237.9 83.4h0M255.9 84.4h0M235.5 76.2h0M254.3 65.0h0M252.7 55.6h0M238.9 71.2h0M229.5 61.6h0M255.7 61.8h0M247.6 76.8h0M255.0 76.6h0M286.9 77.0h0M230.7 54.8h0M256.5 53.9h0M227.3 79.7h0M234.8 62.9h0M238.3 54.2h0M231.1 71.9h0M233.4 81.1h0M236.5 54.9h0M266.6 83.4h0M239.7 75.9h0M257.1 81.0h0M244.4 70.4h0M258.9 75.3h0M240.7 71.2h0M245.1 68.5h0M255.2 41.1h0M227.2 71.9h0M246.3 79.5h0M236.5 69.2h0M255.4 58.6h0M246.6 33.9h0M235.0 61.4h0M223.6 70.9h0M221.1 59.7h0M248.3 65.8h0M263.6 74.9h0M230.3 51.9h0M256.6 59.9h0M257.9 75.5h0M243.1 74.2h0M224.3 63.4h0M233.8 83.7h0M253.4 80.0h0M218.5 70.9h0M231.6 53.1h0M257.7 67.6h0M225.0 68.6h0M243.7 75.1h0M258.6 41.5h0M276.2 74.0h0M240.4 80.5h0M231.5 61.0h0M223.0 64.7h0M257.9 68.6h0M272.0 78.3h0M224.7 58.9h0M225.3 67.5h0M230.0 64.8h0M250.9 55.3h0M220.2 59.9h0M247.2 75.2h0M258.5 74.8h0M258.8 65.6h0M257.4 67.5h0M246.8 60.4h0M255.7 43.8h0M242.2 62.1h0M280.7 66.8h0M274.9 77.0h0M274.3 74.7h0M235.6 71.0h0M223.7 75.1h0M222.4 73.0h0M235.9 73.3h0M227.9 70.1h0M246.6 68.6h0M236.5 78.6h0M243.0 74.6h0M248.8 63.0h0M267.3 84.7h0M230.4 59.9h0M240.9 60.3h0M248.4 54.2h0M287.9 68.9h0M262.0 69.6h0M219.9 58.5h0M259.5 65.7h0M241.7 39.4h0M248.9 75.2h0M280.5 82.1h0M231.6 79.4h0M222.9 72.8h0M221.8 75.6h0M252.0 73.0h0M236.7 82.2h0M252.8 54.8h0M251.4 45.8h0M244.1 55.7h0M225.0 65.6h0M270.1 66.0h0M254.4 44.4h0M224.2 55.8h0M225.5 60.6h0M251.2 58.9h0M253.0 77.9h0M241.0 81.8h0M273.3 82.3h0M290.1 75.5h0M269.3 74.6h0M240.5 67.1h0M263.2 81.0h0M229.2 73.7h0M226.3 57.2h0M243.5 61.5h0M232.9 63.9h0M234.1 60.1h0M233.0 71.1h0M257.7 77.6h0M236.4 65.8h0M223.3 73.4h0M267.0 81.0h0M234.0 68.3h0M234.1 54.3h0M221.1 61.8h0M226.6 69.6h0M284.7 80.9h0M249.8 64.5h0M240.5 69.9h0M227.1 78.0h0M230.8 59.9h0M254.0 81.8h0M235.5 68.2h0M276.1 65.6h0M235.9 55.0h0M242.1 61.7h0M228.3 65.9h0M247.9 65.2h0M241.6 83.3h0M244.0 63.0h0M219.0 76.9h0M223.6 57.3h0M256.1 81.4h0M243.1 52.7h0M253.8 62.0h0M240.9 65.9h0M241.6 60.2h0M230.9 59.3h0M230.6 62.5h0M257.1 52.8h0M248.8 78.4h0M263.6 79.5h0M228.0 66.7h0M260.8 78.9h0M243.9 79.4h0M283.4 50.6h0M247.1 55.0h0M229.3 58.5h0M260.7 74.8h0M238.3 51.8h0M224.3 55.3h0M222.6 61.2h0M225.8 73.3h0M246.7 58.8h0M249.1 56.3h0M219.1 75.4h0M221.5 66.5h0M250.3 81.2h0M263.9 75.0h0M234.7 60.6h0M252.8 80.0h0M256.3 72.1h0M220.2 63.9h0M275.7 78.7h0M230.5 63.6h0M254.3 80.1h0M220.8 77.1h0M221.3 65.8h0M242.7 57.7h0M254.6 77.8h0M228.8 71.6h0M240.3 63.8h0M252.1 34.5h0M261.6 77.5h0M245.7 79.2h0M273.3 81.6h0M232.3 77.8h0M243.1 64.5h0M295.4 71.0h0M231.0 52.1h0M234.3 83.4h0M223.9 66.0h0M231.4 74.1h0M250.9 70.7h0M241.1 61.2h0M238.3 70.8h0M240.0 78.8h0M281.4 81.7h0M234.7 83.0h0M244.8 59.8h0M236.6 76.4h0M227.0 59.2h0M250.1 78.6h0M234.3 56.1h0M224.0 55.3h0M257.1 76.3h0M238.7 54.5h0M257.2 75.9h0M230.3 83.1h0M236.2 80.1h0M230.1 70.6h0M221.6 72.8h0M240.8 60.3h0M247.8 63.4h0M241.7 78.5h0M246.9 67.8h0M250.8 83.2h0M238.2 68.8h0M227.3 70.0h0M237.1 63.7h0M223.5 59.5h0M227.4 72.4h0M229.5 54.4h0M231.0 68.6h0M228.4 64.1h0M224.5 65.9h0M226.6 82.7h0M236.6 56.7h0M239.7 79.6h0M230.5 77.6h0M243.3 53.6h0M280.7 75.6h0M243.6 81.0h0M262.6 83.0h0M258.5 72.8h0M266.3 73.3h0M224.1 60.8h0M247.7 84.8h0M245.5 57.3h0M244.5 52.0h0M248.5 55.7h0M248.3 78.6h0M251.0 37.5h0M228.1 60.6h0M243.7 56.1h0M253.0 83.0h0M246.4 83.3h0M244.1 64.3h0M233.3 78.2h0M283.7 75.5h0M253.7 38.8h0M250.5 77.1h0M219.6 77.1h0M225.9 62.2h0M245.5 75.0h0M253.4 63.0h0M242.0 70.8h0M251.4 39.5h0M240.1 82.2h0M244.3 69.5h0M229.6 69.9h0M232.6 61.7h0M268.8 62.8h0M227.4 50.2h0M250.8 72.4h0M271.2 63.6h0M237.1 71.7h0M262.6 87.1h0M257.0 62.4h0M251.1 57.6h0M247.4 61.9h0M265.0 65.6h0M238.4 78.5h0M259.8 81.4h0M225.4 56.1h0M280.3 76.8h0M231.4 65.3h0M238.7 51.1h0M226.0 62.2h0M267.6 70.5h0M231.0 61.7h0M245.1 66.6h0M234.8 79.2h0M255.9 72.6h0M221.9 70.4h0M233.5 78.5h0M251.4 83.3h0M233.7 79.8h0M242.8 74.5h0M223.3 76.1h0M255.5 71.9h0M252.3 65.8h0M227.7 65.8h0M230.1 70.0h0" stroke="#ffe014" stroke-width="1.50" stroke-linecap="round" fill="none"/>
<path d="M348.6 60.5h0M348.2 62.6h0M345.2 63.1h0M348.6 64.7h0M347.3 66.8h0M349.0 67.3h0M351.2 68.3h0M347.8 69.4h0M346.5 70.4h0M350.3 70.4h0M348.2 72.0h0M351.2 72.0h0M346.1 73.6h0M349.5 74.1h0M343.9 74.6h0M346.9 75.7h0M348.6 76.2h0M353.3 75.1h0M346.1 77.2h0M349.9 78.3h0M351.6 78.8h0M345.2 79.3h0M347.8 79.9h0M354.6 79.9h0M349.5 80.9h0M351.2 81.4h0M352.9 81.7h0M355.5 82.2h0M342.6 82.0h0M344.3 82.5h0M346.9 83.0h0M350.3 83.5h0M348.6 84.6h0M352.0 84.6h0M355.9 84.0h0M346.1 85.6h0M342.6 86.1h0M345.2 87.2h0M351.2 86.7h0M354.6 87.2h0M357.2 86.1h0M340.9 90.3h0M345.2 89.3h0M348.6 89.8h0M364.0 67.3h0M365.7 78.8h0M339.2 84.0h0M341.8 71.5h0M358.0 75.1h0M363.2 86.1h0M364.0 73.6h0M374.0 45.9h0M373.5 56.7h0M378.4 59.5h0M349.2 58.5h0M372.5 62.9h0M371.8 65.9h0M367.6 67.3h0M364.7 68.1h0M369.1 70.7h0M365.4 82.1h0M363.2 87.0h0M360.3 87.3h0M369.9 86.5h0M383.6 86.5h0M393.5 64.7h0M387.6 88.0h0M393.5 90.0h0M398.7 92.8h0M403.4 94.0h0M348.4 62.2h0M349.2 68.1h0M347.7 72.2h0M357.3 76.6h0M347.0 78.7h0M354.3 79.9h0M350.6 82.9h0M344.7 84.3h0M355.8 85.8h0M343.3 88.0h0M353.6 87.0h0M349.2 84.3h0" stroke="#00bfff" stroke-width="1.70" stroke-linecap="round" fill="none"/>
<path d="M477.7 54.9h0M492.7 61.6h0M491.9 65.8h0M491.9 67.0h0M466.8 68.3h0M473.2 68.9h0M479.3 68.5h0M485.4 68.0h0M461.7 69.5h0M461.1 71.3h0M456.2 72.9h0M453.2 75.6h0M456.8 75.6h0M459.3 73.7h0M459.9 75.6h0M460.5 77.4h0M461.7 78.6h0M462.9 78.0h0M464.1 79.2h0M465.3 79.8h0M466.6 81.0h0M458.6 78.0h0M459.9 80.4h0M462.3 81.0h0M464.7 81.4h0M468.4 79.2h0M470.8 79.2h0M471.4 76.2h0M475.1 78.6h0M477.5 75.6h0M480.5 76.5h0M482.4 72.5h0M483.6 74.3h0M484.2 78.0h0M483.0 79.2h0M487.2 75.3h0M489.1 77.4h0M486.6 79.2h0M490.3 79.2h0M492.7 78.6h0M493.3 74.3h0M490.9 72.5h0M488.5 81.4h0M491.5 82.2h0M476.3 81.4h0M473.9 82.6h0M479.9 81.4h0M468.4 82.6h0M454.6 85.3h0M460.5 85.3h0M461.1 86.5h0M468.4 86.5h0M460.5 88.3h0M465.3 88.3h0M476.3 84.7h0M479.9 85.9h0M479.3 87.1h0M481.2 87.1h0M476.3 88.3h0M484.2 89.5h0M487.2 85.3h0M491.5 86.3h0M490.9 88.7h0M489.7 90.8h0M490.3 92.6h0M489.7 93.8h0M475.7 90.8h0M479.3 91.4h0M468.4 94.4h0M473.9 74.3h0M470.2 76.8h0M456.8 86.5h0M489.8 76.8h0M489.2 78.6h0M492.9 79.0h0M488.6 81.0h0M492.3 82.3h0M510.5 70.5h0M504.4 73.1h0M516.0 73.5h0M501.6 75.8h0M509.9 75.9h0M513.0 76.4h0M503.8 78.6h0M506.9 78.9h0M508.1 80.2h0M509.3 80.8h0M515.0 79.2h0M502.6 82.3h0M504.4 81.7h0M505.7 83.5h0M507.5 84.7h0M512.1 81.9h0M514.2 84.5h0M511.1 85.5h0M503.2 85.5h0M505.0 88.0h0M510.5 88.7h0M513.3 88.3h0" stroke="#ff00ff" stroke-width="1.70" stroke-linecap="round" fill="none"/>
<path d="M222.3 149.9h0M247.5 153.7h0M232.8 162.5h0M238.3 155.0h0M241.8 156.6h0M242.8 164.9h0M237.8 157.9h0M240.0 152.5h0M230.8 147.5h0M227.2 155.8h0M225.8 154.4h0M270.4 177.0h0M230.3 157.2h0M240.3 148.6h0M226.0 162.8h0M281.8 164.6h0M227.8 164.7h0M229.4 156.1h0M230.0 156.1h0M239.7 150.0h0M227.1 158.6h0M230.6 142.9h0M227.5 159.5h0M282.4 165.6h0M231.3 157.8h0M243.3 161.8h0M266.4 153.5h0M241.9 164.1h0M227.4 144.9h0M219.5 155.2h0M229.4 158.1h0M222.1 152.8h0M239.2 108.6h0M242.6 149.8h0M267.8 157.1h0M235.8 150.9h0M232.6 152.7h0M222.8 158.1h0M251.5 159.9h0M227.6 155.7h0M240.0 165.2h0M255.0 165.6h0M226.7 158.7h0M229.7 158.7h0M239.4 153.0h0M229.1 149.8h0M231.4 145.4h0M224.9 166.1h0M238.2 145.7h0M242.6 156.3h0M218.8 157.9h0M223.1 164.2h0M241.8 153.4h0M265.7 148.5h0M262.1 166.4h0M239.7 168.6h0M223.4 168.6h0M228.6 148.8h0M241.9 151.8h0M245.2 155.2h0M240.7 150.8h0M238.0 147.9h0M238.8 155.0h0M240.0 161.6h0M244.4 155.5h0M240.0 156.2h0M242.6 149.3h0M223.8 149.5h0M243.5 143.6h0M238.0 157.5h0M232.5 155.8h0M240.9 151.3h0M241.0 159.1h0M238.9 153.3h0M233.4 161.3h0M256.4 169.9h0M248.7 165.8h0M238.1 152.2h0M250.8 167.0h0M245.8 152.7h0M240.7 161.8h0M226.9 157.1h0M230.2 147.2h0M242.1 157.5h0M241.3 166.2h0M241.7 149.1h0M247.3 162.1h0M238.2 153.4h0M223.6 149.6h0M239.7 166.2h0M245.2 162.6h0M239.4 160.9h0M222.8 153.2h0M228.1 143.1h0M253.6 160.9h0M226.6 156.5h0M235.9 128.3h0M229.8 142.5h0M248.3 166.0h0M231.4 161.1h0M234.0 159.9h0M236.9 156.4h0M223.9 163.6h0M232.2 151.0h0M240.0 167.5h0M226.7 150.2h0M227.1 155.5h0M223.7 152.0h0M247.7 162.6h0M242.3 153.0h0M254.4 157.0h0M228.4 149.5h0M239.5 155.2h0M234.6 151.7h0M223.0 155.6h0M222.0 158.9h0M237.8 167.0h0M234.0 123.7h0M230.7 145.0h0M235.9 162.7h0M232.1 159.8h0M245.3 167.5h0M225.4 164.0h0M234.5 150.3h0M237.5 152.1h0M222.7 151.8h0M234.5 150.9h0M235.0 160.3h0M235.8 161.5h0M228.8 151.9h0M249.4 154.3h0M242.8 143.9h0M241.3 161.6h0M227.1 162.2h0M238.2 150.2h0M232.4 163.3h0M241.9 165.6h0M224.2 163.5h0M235.0 156.5h0M249.6 164.9h0M240.6 157.9h0M245.5 156.6h0M235.3 138.0h0M244.6 152.3h0M239.4 156.2h0M228.2 164.0h0M224.0 156.1h0M248.0 163.3h0M221.6 163.8h0M225.3 170.7h0M225.5 156.0h0M250.9 154.6h0M244.2 156.4h0M240.3 149.1h0M222.1 153.2h0M226.5 133.2h0M227.2 152.8h0M232.5 159.5h0M239.9 165.8h0M243.8 161.5h0M239.5 148.0h0M231.3 160.4h0M233.5 162.4h0M238.6 149.9h0M253.0 150.3h0M232.2 148.6h0M239.0 156.3h0M224.1 150.6h0M236.4 138.2h0M230.0 155.0h0M240.0 162.5h0M249.4 161.0h0M237.0 149.7h0M225.5 132.5h0M234.1 161.8h0M245.5 144.4h0M234.6 155.7h0M239.6 153.2h0M232.8 156.3h0M222.6 157.8h0M241.6 165.7h0M230.5 160.1h0M219.5 149.8h0M234.8 153.6h0M231.6 161.1h0M230.7 151.8h0M238.7 153.0h0M253.0 145.6h0M238.6 156.4h0M238.1 145.6h0M240.6 161.5h0M227.4 160.5h0M227.2 170.9h0M234.4 160.9h0M236.4 162.1h0M236.9 169.8h0M263.5 160.0h0M226.1 153.8h0M243.5 160.7h0M228.0 159.7h0M230.5 158.4h0M247.0 152.3h0M238.1 155.8h0M237.2 160.2h0M235.8 153.0h0M270.0 178.0h0M234.4 150.6h0M239.2 153.0h0M243.6 132.8h0M237.2 151.4h0M228.8 148.0h0M240.6 150.4h0M241.2 160.1h0M243.6 144.2h0M222.3 164.8h0M234.7 147.1h0M221.3 156.8h0M228.0 157.9h0M239.7 159.4h0M232.9 153.6h0M256.7 165.2h0M237.4 149.2h0M250.8 163.1h0M237.5 157.9h0M220.5 161.8h0M240.8 139.8h0M221.5 151.9h0M226.4 153.6h0M245.8 165.2h0M273.5 160.7h0M250.8 167.0h0M231.6 157.0h0M235.1 143.4h0M235.5 151.1h0M239.8 165.0h0M239.3 157.3h0M224.6 146.1h0M227.0 167.8h0M230.2 154.1h0M222.2 153.1h0M245.0 166.3h0M237.8 158.3h0M232.3 155.7h0M221.6 161.5h0M240.2 150.9h0M267.1 166.4h0M227.8 157.2h0M222.2 161.7h0M230.1 156.3h0M230.1 154.9h0M236.4 167.3h0M241.0 154.9h0M257.9 157.3h0M226.8 157.9h0M250.4 161.4h0M247.1 177.0h0M248.8 153.9h0M237.8 153.0h0M238.5 149.8h0M224.9 152.7h0M243.2 156.4h0M246.7 141.4h0M226.3 145.4h0M249.5 165.4h0M226.3 152.2h0M227.4 158.4h0M238.1 112.3h0M238.5 166.2h0M229.1 160.4h0M242.3 168.7h0M242.5 160.3h0M248.5 149.9h0M239.0 149.3h0M246.5 160.7h0M236.3 156.2h0M228.8 155.1h0M232.2 119.5h0M235.0 163.5h0M237.4 161.6h0M242.3 170.4h0M229.1 150.5h0M257.8 168.5h0M256.4 150.2h0M244.5 154.9h0M239.8 152.1h0M234.7 150.5h0M235.0 160.1h0M222.6 155.0h0M230.2 167.8h0M222.1 150.5h0M230.4 144.1h0M251.5 157.0h0M221.9 154.8h0M234.8 132.5h0M229.5 156.1h0M226.9 147.0h0M247.2 151.8h0M236.8 154.4h0M235.7 153.1h0M235.0 166.3h0M222.3 155.1h0M226.1 163.9h0M256.2 167.3h0M248.7 157.1h0M239.2 157.7h0M302.7 145.0h0M258.5 162.8h0M236.7 157.5h0M239.4 160.1h0M236.7 124.7h0M229.5 165.4h0M229.6 162.5h0M239.3 164.2h0M233.7 157.1h0M228.2 163.2h0M239.0 162.4h0M247.9 166.0h0M231.9 120.4h0M235.5 160.9h0M231.9 166.9h0M228.5 159.2h0M227.2 153.1h0M254.3 160.0h0M259.1 159.1h0M241.8 157.8h0M241.8 164.8h0M225.9 151.8h0M235.0 156.3h0M224.5 155.1h0M238.8 150.3h0M235.2 159.0h0M242.3 166.7h0M253.1 152.0h0M234.0 143.6h0M234.1 162.8h0M223.8 159.2h0M259.8 145.2h0M229.1 157.8h0M220.3 151.7h0M247.1 131.7h0M233.7 158.2h0M225.6 165.0h0M249.7 155.3h0M239.1 155.1h0M239.2 161.7h0M226.8 148.7h0M246.4 158.3h0M218.5 164.1h0M221.7 161.3h0M245.0 114.3h0M236.4 161.6h0M239.2 148.3h0M224.6 162.6h0M220.9 157.1h0M227.8 167.6h0M239.0 164.6h0M230.9 159.4h0M239.8 160.7h0M229.9 159.4h0M234.0 158.9h0M233.2 152.4h0M270.7 162.1h0M240.4 150.2h0M235.0 148.6h0M242.5 165.1h0M230.0 161.6h0M233.3 153.9h0M220.0 150.5h0M261.0 147.8h0M259.3 156.4h0M236.9 157.5h0M227.8 157.7h0M231.2 147.0h0M227.7 165.3h0M221.7 146.3h0M229.4 152.1h0M242.1 138.7h0M224.3 161.1h0M239.1 152.7h0M219.3 160.7h0M231.9 158.1h0M220.4 150.8h0M230.5 153.4h0M239.4 164.7h0M232.3 162.3h0M230.5 160.7h0M242.1 165.3h0M239.9 155.3h0M242.3 164.2h0M228.8 160.6h0M227.8 151.4h0M234.0 147.6h0M221.0 162.4h0M245.9 156.4h0M220.3 165.4h0M220.6 155.6h0M232.3 157.5h0M231.8 149.7h0M232.2 146.4h0M229.7 160.6h0M223.4 154.0h0M221.9 149.1h0M243.2 164.4h0M239.1 159.2h0M226.0 158.7h0M246.6 153.9h0M229.7 147.5h0M227.0 154.2h0M229.2 145.0h0M243.8 150.6h0M258.0 156.4h0M234.8 146.4h0M224.3 158.8h0M245.7 159.2h0M233.4 155.6h0M238.6 155.4h0M244.5 146.6h0M240.4 151.1h0M237.2 152.0h0M231.3 148.6h0M246.9 160.4h0M243.8 148.3h0M233.3 155.7h0M229.8 161.1h0M242.3 161.8h0M248.0 151.6h0M227.5 152.3h0M223.2 166.1h0M235.2 147.2h0M236.4 126.3h0M226.2 162.7h0M228.7 157.3h0M239.1 151.9h0M230.3 157.6h0M239.3 154.7h0M235.6 157.3h0M238.7 155.2h0M256.0 168.8h0M240.3 152.5h0M229.7 159.2h0M233.5 155.3h0M224.3 161.4h0M226.5 162.7h0M224.7 154.5h0M238.4 146.6h0M234.9 158.1h0M222.1 146.6h0M264.2 164.2h0M242.5 149.1h0M221.7 159.0h0M222.9 149.7h0M230.0 162.2h0M233.6 143.5h0M238.6 159.3h0M222.9 149.0h0M244.6 150.0h0M222.7 150.0h0M253.9 151.3h0M277.8 159.2h0M235.6 159.4h0M252.0 153.2h0M221.9 157.4h0M242.4 155.8h0M229.3 161.7h0M224.9 145.6h0M234.6 150.5h0M248.3 144.1h0M238.4 157.6h0M229.7 152.4h0M227.2 169.1h0M251.4 172.1h0M231.0 148.2h0M226.1 164.5h0M231.7 160.4h0M232.4 156.3h0M308.9 179.2h0M238.0 164.3h0M251.1 156.7h0M223.1 162.8h0M233.2 160.8h0M235.1 165.2h0M233.8 157.2h0M247.7 162.7h0M249.3 179.2h0M228.7 163.5h0M233.0 158.5h0M245.7 155.7h0M232.6 159.4h0M237.6 159.1h0M245.5 163.4h0M233.6 164.8h0M270.0 160.0h0M253.6 155.7h0M233.6 150.8h0M229.2 148.6h0M240.8 147.0h0M239.1 158.3h0M239.7 164.8h0M260.7 161.4h0M233.8 136.6h0M248.9 148.0h0M232.2 164.9h0M241.8 162.8h0M241.6 166.5h0M262.4 153.3h0M232.8 159.2h0M278.5 156.1h0M231.4 152.7h0M247.9 174.9h0M248.4 157.2h0M244.3 154.8h0M220.0 151.6h0M221.5 163.5h0M228.4 160.4h0M223.1 153.4h0M223.9 146.6h0M229.4 152.6h0M237.8 152.2h0M234.8 157.4h0M292.3 139.7h0M248.8 152.0h0M237.9 160.5h0M245.3 168.6h0M253.8 152.4h0M250.7 170.6h0M245.6 163.8h0M244.8 149.7h0M226.8 149.6h0M262.8 155.7h0M235.9 158.7h0M238.2 160.3h0M231.0 150.8h0M236.7 144.6h0M241.3 159.9h0M226.8 158.2h0M278.1 165.6h0M225.1 146.3h0M222.8 158.1h0M231.9 151.3h0M240.9 157.7h0M238.8 147.0h0M230.9 156.5h0M223.7 165.2h0M241.3 163.0h0M247.0 153.8h0M249.9 147.5h0M235.1 160.2h0M234.3 134.6h0M224.7 145.1h0M238.2 161.0h0M221.8 165.4h0M242.7 156.7h0M251.2 162.4h0M255.7 151.4h0M231.3 150.5h0M228.5 160.9h0M231.2 145.8h0M227.7 151.3h0M220.7 160.0h0M233.3 147.3h0M228.9 149.3h0M228.3 161.6h0M220.6 156.6h0M229.0 157.6h0M223.2 145.5h0M226.8 163.7h0M240.5 156.6h0M228.2 154.0h0M239.6 153.6h0M234.3 149.9h0M232.0 162.4h0M230.1 153.3h0M246.1 157.2h0M222.1 149.7h0M226.2 153.6h0M242.4 153.9h0M232.7 169.0h0M241.3 154.9h0M229.2 157.1h0M240.1 151.1h0M236.8 151.7h0M232.1 152.3h0M227.4 160.0h0M238.2 153.0h0M240.3 158.2h0M245.5 158.2h0M225.0 159.2h0M236.0 160.5h0M234.0 153.3h0M227.7 162.6h0M231.3 143.8h0M234.2 153.9h0M227.0 149.0h0M237.9 150.7h0M247.3 141.5h0M225.3 149.9h0M250.9 160.7h0M244.0 118.0h0M242.8 147.7h0M231.1 159.3h0M256.4 151.3h0M223.2 159.2h0M232.2 158.2h0M248.7 157.1h0M220.2 159.1h0M226.4 160.1h0M231.7 142.3h0M237.0 158.4h0M247.1 131.8h0M244.1 160.4h0M228.0 151.0h0M223.3 147.7h0M225.5 159.8h0M234.8 170.6h0M239.5 136.1h0M228.2 154.5h0M236.5 158.5h0M230.5 165.4h0M283.2 155.7h0M227.5 171.0h0M237.1 165.9h0M232.2 150.0h0M234.4 143.1h0M238.5 153.3h0M256.4 155.0h0M219.4 153.7h0M235.4 151.2h0M231.2 158.5h0M230.3 166.0h0M226.2 155.6h0M233.2 157.4h0M240.9 164.4h0M245.1 163.2h0M221.5 153.7h0M241.6 158.3h0M243.2 154.8h0M248.0 159.3h0M230.3 166.2h0M224.8 145.5h0M230.6 153.9h0M245.1 155.6h0M237.2 156.0h0M230.5 156.2h0M228.5 169.8h0M221.4 165.4h0M235.1 148.0h0M239.7 142.4h0M222.5 153.4h0M222.3 164.2h0M245.5 162.4h0M231.1 157.5h0M236.9 145.6h0M236.8 144.9h0M230.8 146.5h0M225.5 154.1h0M230.2 161.6h0M232.2 160.1h0M223.6 159.8h0M229.1 158.3h0M251.4 156.8h0M232.8 164.7h0M244.3 162.1h0M245.9 159.1h0M271.4 168.2h0M240.3 157.5h0M237.5 153.9h0M225.0 158.4h0M242.8 152.3h0M234.4 163.7h0M223.0 156.2h0M234.8 148.5h0M245.5 160.6h0M230.4 153.3h0M227.0 158.7h0M275.7 162.5h0M232.1 150.3h0M229.4 153.2h0M235.3 130.4h0M223.9 153.8h0M240.1 150.8h0M234.8 160.4h0M236.0 146.5h0M243.3 163.9h0M225.9 157.9h0M241.2 166.3h0M232.0 156.3h0M236.6 163.0h0M244.7 158.8h0M232.5 157.5h0M223.4 162.5h0M232.6 157.7h0M244.1 164.4h0M239.9 165.6h0M229.6 145.8h0M235.1 158.5h0M225.7 153.7h0M248.7 164.8h0M244.0 169.1h0M242.9 121.1h0M224.3 143.5h0M250.5 165.0h0M242.8 144.7h0M225.0 158.3h0M238.6 151.0h0M221.2 158.9h0M252.1 167.8h0M228.9 159.6h0M229.7 147.1h0M253.2 164.0h0M246.0 155.1h0M238.5 163.5h0M224.5 164.0h0M242.0 157.2h0M230.0 149.3h0M227.6 148.4h0M257.9 147.1h0M234.7 160.9h0M230.2 152.2h0M283.2 167.8h0" stroke="#128c12" stroke-width="1.70" stroke-linecap="round" fill="none"/>
<path d="M346.3 165.2h0M341.6 166.6h0M350.9 159.1h0M350.8 163.2h0M347.2 164.1h0M351.3 160.3h0M348.8 167.8h0M354.8 161.1h0M347.6 166.1h0M352.5 162.4h0M351.3 166.2h0M348.2 158.4h0M349.0 168.0h0M357.3 166.2h0M347.4 164.3h0M344.3 163.0h0M350.0 168.6h0M354.6 166.1h0M350.5 167.5h0M349.2 160.9h0M350.7 165.9h0M347.6 163.9h0M347.1 166.8h0M351.1 163.4h0M351.0 162.2h0M358.6 164.7h0M357.0 163.9h0M349.5 163.1h0M347.7 160.8h0M354.4 162.1h0M350.9 165.3h0M353.9 167.4h0M349.3 164.5h0M351.6 162.8h0M351.9 158.0h0M348.3 163.8h0M355.3 163.3h0M348.9 167.9h0M350.3 161.4h0M353.2 167.4h0M346.5 162.5h0M346.2 163.7h0M361.9 165.1h0M352.0 159.5h0M346.3 163.8h0M355.5 159.9h0M353.7 163.4h0M349.9 169.0h0M352.8 167.2h0M360.2 167.0h0M347.7 167.9h0M349.0 164.2h0M357.0 158.8h0M346.9 160.5h0M348.5 166.7h0M346.4 162.6h0M351.7 164.7h0M344.6 158.5h0M342.6 163.9h0M357.8 160.7h0M349.4 169.4h0M345.4 163.2h0M343.8 166.1h0M350.1 169.4h0M347.5 168.6h0M343.0 164.3h0M349.7 161.4h0M356.4 163.8h0M353.6 170.2h0M347.0 163.8h0M347.2 163.0h0M348.9 167.1h0M346.8 160.0h0M348.2 160.6h0M348.9 161.5h0M348.0 162.8h0M354.3 162.2h0M356.9 164.6h0M348.1 164.4h0M351.1 164.0h0M346.8 162.5h0M351.6 164.2h0M353.8 165.6h0M349.1 167.9h0M352.4 164.6h0M350.9 157.3h0M357.0 161.3h0M347.4 160.1h0M362.7 168.2h0M350.0 162.6h0M347.2 153.5h0M350.1 159.0h0M356.7 158.1h0M341.1 156.2h0M354.8 170.9h0M350.3 157.6h0M346.6 156.6h0M355.4 157.0h0M366.7 153.0h0M355.0 156.3h0M356.1 160.9h0M357.8 156.1h0M349.6 163.0h0M342.7 157.6h0M353.1 159.1h0M343.0 155.0h0M353.3 163.2h0M351.7 166.6h0M358.7 165.4h0M340.6 151.0h0M350.1 168.1h0M341.5 153.1h0M354.5 162.5h0M343.4 161.7h0M353.2 162.0h0M339.3 167.5h0M351.1 160.9h0M352.9 168.1h0M351.4 162.8h0M355.3 171.0h0M356.0 162.0h0M343.9 157.4h0M352.9 149.2h0M354.5 165.8h0M358.9 165.1h0M352.3 174.3h0M366.2 167.2h0M359.8 171.8h0M353.7 168.8h0M344.4 166.1h0M363.4 165.1h0M346.1 164.3h0M339.5 151.8h0M349.1 164.4h0M337.8 172.6h0M352.4 163.1h0M351.2 153.6h0M356.9 163.3h0M354.6 171.5h0M341.7 160.2h0M356.5 168.8h0M373.7 130.9h0M379.4 131.5h0M379.0 133.6h0M370.1 147.2h0M366.2 150.7h0M361.9 151.8h0M361.6 157.7h0M362.3 162.3h0M361.6 163.9h0M363.1 167.0h0M367.0 163.1h0M371.7 155.3h0M374.0 158.4h0M370.9 160.0h0M370.1 164.7h0M369.3 167.0h0M372.4 166.7h0M375.6 167.0h0M377.1 160.0h0M378.7 168.2h0M381.8 167.8h0M384.1 162.3h0M384.9 165.7h0M387.2 158.0h0M387.2 167.0h0M388.8 166.2h0M389.5 169.3h0M385.7 170.9h0M391.1 163.9h0M393.4 163.1h0M394.2 156.9h0M395.8 167.0h0M397.3 168.5h0M398.9 163.9h0M398.1 160.8h0M400.1 158.4h0M401.2 162.3h0M402.0 167.0h0M404.3 161.5h0M407.4 160.8h0M409.8 160.0h0M411.3 161.5h0M413.7 161.5h0M416.0 162.3h0M417.5 163.1h0M423.8 161.5h0M426.9 160.5h0M405.1 164.7h0M402.8 171.7h0M406.7 171.7h0M409.0 174.5h0M419.9 173.2h0M398.9 171.7h0M394.2 171.7h0M383.3 175.5h0M375.6 175.5h0M370.1 173.5h0M379.4 182.2h0M381.0 171.3h0M374.8 170.9h0M367.8 168.5h0M363.9 156.1h0M352.6 142.1h0M356.8 144.1h0M342.8 149.8h0M350.0 149.8h0M340.7 154.5h0M362.0 151.4h0M366.1 150.9h0M340.5 133.5h0" stroke="#ff1493" stroke-width="1.70" stroke-linecap="round" fill="none"/>
<path d="M471.4 163.1h0M462.7 163.4h0M458.5 164.7h0M458.7 160.0h0M468.4 158.0h0M467.9 154.6h0M466.2 165.1h0M460.8 161.6h0M473.7 159.7h0M456.8 165.8h0M471.8 156.9h0M470.1 161.4h0M470.3 157.0h0M465.6 170.9h0M459.7 155.2h0M455.6 165.1h0M454.3 159.1h0M462.7 160.4h0M469.0 162.5h0M457.9 164.2h0M458.8 163.3h0M462.6 163.9h0M453.2 157.0h0M456.5 160.8h0M465.6 158.7h0M454.4 166.8h0M458.2 155.6h0M459.0 154.8h0M455.5 163.0h0M452.6 169.5h0M463.9 165.1h0M476.6 169.5h0M456.1 161.5h0M465.2 163.8h0M457.0 163.6h0M462.9 159.0h0M466.4 156.3h0M455.4 165.8h0M469.4 159.4h0M463.8 165.5h0M459.1 160.4h0M468.1 160.8h0M455.2 153.5h0M458.6 159.5h0M449.3 159.4h0M460.1 157.7h0M472.7 161.5h0M454.9 165.0h0M451.0 160.9h0M470.7 155.0h0M467.0 159.8h0M461.6 157.7h0M467.8 154.9h0M450.9 162.3h0M468.9 165.2h0M468.4 167.7h0M458.4 162.2h0M462.0 165.3h0M462.9 162.2h0M461.5 159.5h0M456.3 161.3h0M453.7 162.9h0M459.1 152.5h0M469.8 160.2h0M457.4 157.9h0M468.5 172.2h0M471.3 168.7h0M458.7 165.9h0M465.3 162.3h0M458.7 171.9h0M470.9 161.7h0M456.4 163.2h0M469.2 159.0h0M455.2 163.3h0M466.4 164.4h0M464.4 173.2h0M455.4 156.2h0M479.1 167.2h0M452.9 165.3h0M460.8 154.9h0M460.2 159.0h0M467.0 160.4h0M463.1 150.2h0M477.9 164.8h0M455.4 154.1h0M471.1 169.7h0M459.8 159.7h0M477.2 158.2h0M459.2 156.3h0M465.1 168.0h0M464.9 154.8h0M470.0 160.6h0M460.5 160.7h0M461.3 158.1h0M455.9 158.2h0M469.4 165.6h0M460.9 155.8h0M461.7 168.4h0M459.5 169.4h0M459.5 158.9h0M454.9 165.4h0M454.4 163.2h0M457.5 159.7h0M460.7 162.7h0M463.1 138.4h0M462.8 140.4h0M462.5 142.3h0M462.1 144.2h0M461.6 146.2h0M461.2 148.8h0M460.8 150.7h0M460.5 152.7h0M459.0 145.5h0M458.3 147.5h0M457.7 149.4h0M457.3 151.4h0M456.9 153.0h0M464.4 139.7h0M469.0 140.1h0M465.1 145.5h0M481.2 150.1h0M480.4 150.7h0M472.8 177.9h0M478.7 178.5h0M480.6 177.2h0M483.8 171.4h0M498.3 129.4h0M475.8 162.3h0M477.3 163.9h0M489.8 160.5h0M498.0 163.1h0M499.9 165.7h0M502.2 164.7h0M504.5 166.2h0M503.8 167.8h0M506.9 163.1h0M511.5 165.4h0M513.9 163.6h0M508.4 170.1h0M517.8 172.4h0M527.9 161.1h0M539.5 163.1h0M542.2 162.0h0M531.3 171.7h0M487.4 167.0h0M485.9 170.9h0M484.3 171.7h0M482.8 172.4h0M488.2 173.2h0M491.3 169.3h0M492.1 170.9h0M493.7 170.1h0M495.2 171.7h0M496.8 170.9h0M496.0 174.0h0M500.7 172.4h0M478.9 171.7h0M480.4 177.9h0M478.1 179.4h0M479.7 170.1h0M475.0 170.9h0" stroke="#a95f0a" stroke-width="1.70" stroke-linecap="round" fill="none"/>
<path d="M239.1 208.2h0M239.6 211.6h0M239.9 213.6h0M240.2 215.3h0M240.9 216.7h0M241.9 218.4h0M242.7 219.7h0M265.2 219.4h0M266.0 217.8h0M266.4 216.0h0M266.4 214.3h0M267.7 211.3h0M268.4 209.5h0M268.7 208.0h0M291.7 237.9h0M291.3 239.7h0M291.5 241.3h0M292.0 243.1h0M292.5 244.7h0M293.3 246.3h0M293.7 247.9h0M294.0 249.8h0M293.9 251.3h0M294.1 253.1h0M295.0 254.4h0M293.9 253.2h0M249.6 203.8h0M250.2 205.4h0M250.7 207.0h0M251.7 208.3h0M253.0 209.0h0M254.6 209.3h0M256.0 210.3h0M257.6 210.7h0M259.1 210.8h0M262.2 210.7h0M265.2 210.0h0M267.4 207.8h0M268.3 206.3h0M269.3 204.9h0M272.6 201.5h0M273.6 200.3h0M254.6 254.4h0M254.1 257.7h0M254.3 259.6h0M255.3 261.1h0M255.3 262.9h0M254.4 263.3h0M253.0 262.3h0M252.0 261.3h0M250.9 259.7h0M248.9 257.0h0M247.8 255.7h0M270.3 203.7h0M271.8 203.3h0M273.3 203.8h0M274.9 204.0h0M276.4 204.1h0M277.9 204.0h0M279.4 203.9h0M280.9 203.2h0M282.1 202.0h0M280.8 202.6h0M279.3 203.3h0M277.9 204.2h0M276.4 205.0h0M275.2 205.9h0M274.4 207.4h0M273.2 208.7h0M287.3 242.6h0M288.3 241.3h0M289.6 240.5h0M290.3 238.9h0M290.8 237.2h0M290.4 235.3h0M290.6 231.9h0M290.2 230.1h0M289.9 228.5h0M290.3 226.7h0M291.0 225.2h0M293.6 223.3h0M295.1 222.6h0M275.8 256.1h0M275.6 254.7h0M276.2 253.0h0M276.1 251.2h0M276.0 249.3h0M275.5 247.7h0M275.1 246.0h0M250.3 237.6h0M247.7 239.1h0M246.4 239.9h0M244.5 242.4h0M243.6 244.0h0M242.5 247.1h0M242.0 248.8h0M241.8 250.6h0M241.6 252.3h0M241.8 254.0h0M242.1 255.8h0M244.4 240.9h0M244.1 239.1h0M243.8 237.4h0M243.2 235.9h0M242.5 234.2h0M240.4 231.5h0M239.0 231.0h0M236.6 228.8h0M235.8 227.3h0M242.6 211.4h0M239.8 210.4h0M238.2 209.9h0M237.3 208.5h0M236.6 206.8h0M235.9 205.4h0M237.0 206.5h0M238.0 207.8h0M238.9 209.3h0M239.4 210.6h0M240.4 212.3h0M241.0 213.9h0M241.3 215.6h0M241.5 217.1h0M241.6 219.1h0M294.7 210.9h0M294.0 209.5h0M293.2 208.0h0M291.8 207.0h0M291.1 205.6h0M279.2 265.2h0M278.6 266.6h0M277.7 265.3h0M276.6 264.2h0M275.6 262.9h0M274.2 261.9h0M273.1 260.6h0M273.1 259.0h0M273.8 255.7h0M274.4 254.1h0M275.2 252.5h0M278.5 246.5h0M278.6 244.8h0M279.2 243.1h0M280.5 242.0h0M280.9 240.3h0M294.5 224.2h0M293.0 224.5h0M291.5 224.6h0M290.2 223.2h0M289.4 221.9h0M289.4 220.2h0M288.9 218.5h0M288.5 216.6h0M260.3 261.3h0M260.8 259.5h0M265.3 255.0h0M266.8 254.3h0M268.2 253.6h0M224.2 241.7h0M221.2 242.8h0M220.4 244.2h0M221.4 245.4h0M222.5 246.8h0M225.3 248.2h0M280.7 208.5h0M279.5 207.6h0M278.9 206.0h0M278.5 204.2h0M279.6 202.7h0M280.1 204.2h0M280.8 205.8h0M281.1 207.5h0M280.2 212.5h0M247.6 229.0h0M249.0 227.8h0M250.8 225.0h0M250.9 223.3h0M250.8 221.5h0M251.2 219.8h0M251.2 218.0h0M251.6 216.5h0M252.8 215.4h0M253.9 213.9h0M255.1 213.1h0M256.6 212.5h0M241.8 231.9h0M242.6 233.3h0M243.5 241.8h0M241.9 244.8h0M241.3 246.6h0M240.6 248.0h0M239.9 249.6h0M239.4 251.5h0M239.8 253.0h0M240.4 254.6h0M239.9 256.2h0M239.1 259.6h0M225.4 229.9h0M226.9 233.0h0M226.6 234.6h0M226.0 236.2h0M224.9 239.5h0M224.5 241.2h0M223.1 242.2h0M221.8 243.1h0M220.7 244.4h0M219.2 244.7h0M240.4 217.4h0M238.9 216.9h0M234.4 215.8h0M233.4 214.6h0M232.3 213.2h0M232.2 211.5h0M231.0 210.4h0M232.7 210.9h0M234.1 211.0h0M235.8 211.2h0M237.2 210.9h0M238.7 210.7h0M241.7 209.9h0M243.1 209.2h0M244.5 208.2h0M246.0 207.5h0M247.7 207.3h0M256.6 239.5h0M256.8 241.2h0M258.6 243.9h0M259.1 245.6h0M260.5 248.6h0M261.1 250.3h0M261.3 251.9h0M261.9 255.4h0M262.3 257.2h0M262.3 258.9h0M262.2 260.6h0M262.5 262.4h0M262.1 264.0h0M284.9 233.1h0M283.5 233.8h0M280.5 234.9h0M279.3 235.8h0M278.0 237.1h0M276.9 238.0h0M273.9 239.0h0M272.6 240.0h0M271.9 241.5h0M271.4 243.2h0M270.5 244.8h0M270.1 246.4h0M269.5 248.2h0M269.3 249.8h0M268.8 251.4h0M268.7 253.3h0M268.5 255.0h0M267.5 256.5h0M278.4 240.2h0M278.5 241.9h0M279.8 245.0h0M280.0 246.8h0M280.5 250.3h0M281.2 251.6h0M282.5 252.7h0M284.8 255.1h0M289.1 259.6h0M289.9 260.9h0M246.0 263.6h0M246.1 261.8h0M245.9 260.1h0M246.7 258.3h0M247.0 256.7h0M246.3 255.0h0M246.2 253.3h0M245.6 248.2h0M238.2 241.9h0M237.9 245.6h0M237.2 247.1h0M237.2 250.5h0M237.1 252.2h0M238.5 255.6h0M239.5 256.8h0M240.4 258.0h0M242.0 258.1h0M243.1 259.3h0M244.0 260.9h0M244.8 262.4h0M245.6 263.8h0M245.1 262.0h0M245.3 258.8h0M245.5 257.1h0M274.3 235.5h0M275.1 237.0h0M274.9 238.8h0M275.5 242.2h0M275.3 244.0h0M275.6 245.7h0M275.4 247.2h0M274.7 249.0h0M273.7 250.4h0M273.7 252.1h0M286.9 219.0h0M287.9 217.5h0M288.9 216.6h0M289.9 214.9h0M289.9 213.2h0M290.5 211.7h0M291.2 209.9h0M291.3 208.2h0M290.6 207.7h0M290.0 209.5h0M289.3 211.0h0M288.5 212.8h0M287.9 214.3h0M285.7 216.7h0M282.1 220.0h0M281.1 221.1h0M219.8 233.8h0M220.1 235.7h0M220.3 237.5h0M220.0 239.0h0M219.7 240.7h0M219.2 244.2h0M217.1 241.7h0M218.3 242.8h0M219.7 243.8h0M220.7 244.9h0M220.6 246.6h0M223.2 244.9h0M224.8 244.7h0M227.8 243.6h0M273.7 209.9h0M272.8 208.3h0M272.3 206.6h0M271.6 205.1h0M271.2 203.3h0M271.0 201.7h0M269.2 198.7h0M268.1 197.8h0M266.6 198.0h0M263.5 197.7h0M262.0 196.8h0M262.8 198.3h0M284.9 202.9h0M283.5 203.5h0M281.9 202.9h0M280.4 202.5h0M278.8 202.3h0M278.1 200.8h0M277.5 199.0h0M251.5 248.8h0M251.4 245.2h0M250.6 243.8h0M249.3 242.6h0M248.7 239.5h0M248.2 237.6h0M247.4 236.1h0M246.7 234.6h0M245.6 233.4h0M260.7 212.9h0M260.2 211.3h0M259.8 209.5h0M260.2 208.0h0M260.9 204.4h0M261.9 201.4h0M262.3 199.5h0M266.2 201.1h0M267.5 202.1h0M267.9 203.8h0M268.1 205.5h0M268.0 207.3h0M305.0 223.1h0M304.8 221.4h0M305.2 223.1h0M306.2 224.4h0M306.8 225.9h0M308.0 229.1h0M308.8 230.7h0M309.5 232.3h0M308.3 231.4h0M275.0 220.7h0M275.7 222.3h0M276.9 223.3h0M277.9 224.6h0M278.8 226.1h0M279.4 227.6h0M279.6 229.4h0M259.0 207.1h0M255.9 207.5h0M252.9 207.4h0M248.2 207.7h0M245.6 209.7h0M242.8 210.7h0M240.2 212.7h0M238.6 213.3h0M235.5 213.0h0M232.5 213.2h0M260.3 234.6h0M257.3 233.4h0M255.8 233.7h0M252.9 235.0h0M251.4 235.3h0M249.9 235.5h0M248.2 235.2h0M246.7 235.1h0M245.3 234.5h0M244.1 233.6h0M276.5 228.7h0M276.3 230.6h0M276.4 232.1h0M275.7 235.7h0M275.2 237.5h0M275.3 240.8h0M274.6 242.4h0M273.9 244.0h0M273.3 245.6h0M272.3 248.8h0M272.2 250.6h0M227.6 219.4h0M229.2 222.1h0M230.3 223.7h0M232.0 226.3h0M232.5 228.1h0M232.6 230.0h0M253.3 197.0h0M253.5 198.7h0M254.6 200.2h0M255.7 201.4h0M256.4 203.0h0M256.1 204.6h0M255.2 206.0h0M254.6 207.7h0M252.1 211.9h0M251.1 213.4h0M250.1 214.6h0M247.4 216.2h0M285.8 258.2h0M285.7 256.3h0M285.3 254.9h0M285.3 253.0h0M285.6 251.2h0M285.4 247.7h0M286.0 246.2h0M286.3 244.5h0M287.3 241.3h0M288.2 239.6h0M288.1 236.1h0M287.6 234.7h0M287.5 232.8h0M257.4 224.7h0M255.9 225.3h0M253.9 225.0h0M252.7 224.8h0M251.1 224.8h0M248.5 226.5h0M247.2 227.5h0M244.4 229.5h0M243.0 232.5h0M299.5 216.2h0M298.4 217.3h0M297.2 218.6h0M296.7 220.2h0M296.4 221.8h0M297.3 226.9h0M297.6 230.5h0M233.0 234.0h0M234.9 231.1h0M235.5 229.7h0M236.5 226.5h0M237.3 224.8h0M237.5 223.1h0M237.5 221.3h0M237.0 219.8h0M236.5 218.1h0M234.4 213.5h0M233.8 211.8h0M253.3 224.0h0M254.5 224.9h0M256.0 225.6h0M257.2 226.6h0M258.9 226.7h0M260.4 226.2h0M261.8 225.3h0M263.2 224.6h0M264.7 224.3h0M242.0 255.9h0M241.4 257.4h0M241.0 259.1h0M240.9 260.8h0M240.8 262.6h0M243.8 262.0h0M245.2 261.6h0M248.4 260.8h0M249.7 260.1h0M251.9 257.7h0M252.7 256.1h0M252.9 254.4h0M263.3 241.2h0M262.6 242.8h0M261.3 243.8h0M260.0 244.7h0M259.5 246.5h0M257.2 248.6h0M255.2 251.4h0M254.6 252.9h0M253.7 256.4h0M299.5 232.8h0M298.3 233.8h0M297.1 235.1h0M296.0 236.5h0M294.7 237.2h0M290.3 238.3h0M288.7 238.4h0M287.2 239.0h0M259.5 248.0h0M260.0 249.7h0M260.1 251.3h0M260.2 253.3h0M259.8 256.7h0M308.0 233.3h0M306.5 232.5h0M303.3 229.1h0M302.3 227.8h0M239.2 253.5h0M238.1 258.4h0M237.3 259.8h0M238.2 258.5h0M238.6 256.7h0M234.9 222.6h0M233.3 222.2h0M231.7 221.7h0M225.8 220.7h0M224.5 219.8h0M223.4 218.7h0M224.7 219.6h0M225.3 221.2h0M226.0 222.7h0M227.1 224.1h0M228.2 225.3h0M228.3 227.2h0M228.6 229.0h0M280.2 216.1h0M279.9 214.4h0M281.7 209.7h0M283.7 206.8h0M284.6 205.6h0M284.8 204.0h0M284.1 205.3h0M283.1 206.7h0M292.8 253.7h0M293.3 257.0h0M292.8 255.4h0M291.8 254.1h0M290.7 252.9h0M289.6 251.6h0M289.0 250.1h0M288.7 248.4h0M288.8 246.5h0M288.6 244.8h0M288.1 241.4h0M288.2 239.7h0M288.7 238.0h0M293.7 244.3h0M293.8 246.1h0M294.4 247.5h0M294.0 249.4h0M293.0 250.8h0M290.5 252.4h0M289.6 254.0h0M303.6 238.9h0M301.6 236.5h0M300.5 235.0h0M299.8 233.6h0M297.1 231.8h0M295.6 231.2h0M294.1 231.0h0M292.5 230.9h0M291.2 230.4h0M271.2 243.8h0M271.1 245.4h0M270.6 247.2h0M270.7 248.9h0M271.2 250.6h0M271.8 252.3h0M272.7 253.8h0M273.1 255.3h0M273.4 257.1h0M273.3 259.1h0M273.2 260.6h0M271.9 261.9h0M275.8 246.0h0M276.2 247.7h0M277.8 250.7h0M278.1 252.4h0M279.8 255.5h0M280.0 257.2h0M270.8 250.9h0M271.1 252.9h0M270.9 254.6h0M270.2 258.0h0M270.3 259.7h0M269.5 261.2h0M268.9 262.8h0M267.2 265.6h0M267.4 267.4h0M266.5 266.0h0M232.4 251.8h0M234.4 254.1h0M236.1 254.1h0M237.6 254.5h0M239.2 254.7h0M240.7 255.4h0M242.1 255.9h0M243.6 256.8h0M244.4 258.2h0M245.6 259.5h0M246.6 260.8h0M267.4 233.2h0M267.5 231.4h0M267.7 229.8h0M267.5 228.1h0M267.7 226.3h0M267.9 224.6h0M270.1 220.1h0M274.5 218.7h0M276.1 218.3h0M277.5 217.7h0M279.0 216.9h0M281.9 217.1h0M268.5 225.9h0M274.4 227.7h0M277.0 225.9h0M277.9 224.5h0M278.8 223.1h0M279.4 221.4h0M282.1 220.0h0M283.6 220.5h0M285.0 221.1h0M286.6 221.7h0M260.9 196.7h0M260.2 198.2h0M259.1 201.4h0M259.6 203.4h0M259.7 205.0h0M260.4 206.6h0M260.2 210.1h0M249.9 215.3h0M252.8 216.8h0M257.4 223.4h0M257.4 226.9h0M257.0 228.4h0M255.6 229.6h0M254.1 230.2h0M250.9 230.4h0M247.9 230.4h0M246.4 230.2h0M244.9 230.3h0M265.8 257.9h0M264.7 257.0h0M263.3 255.7h0M262.4 254.5h0M261.3 253.2h0M261.4 251.5h0M252.2 263.3h0M252.7 261.7h0M252.7 259.8h0M254.0 256.9h0M255.4 255.9h0M291.0 223.8h0M292.6 223.6h0M294.1 223.1h0M295.6 222.3h0M218.5 223.9h0M221.7 224.8h0M223.0 224.7h0M224.7 224.6h0M226.1 224.6h0M227.7 223.8h0M228.9 222.7h0M230.3 221.9h0M231.8 221.6h0M233.3 221.6h0M235.0 221.7h0M236.2 222.5h0M239.0 224.2h0M239.9 225.7h0M239.7 229.3h0M239.1 230.5h0M237.9 232.0h0M233.2 215.1h0M233.4 211.6h0M234.0 209.8h0M234.6 206.5h0M235.6 207.8h0M236.4 209.2h0M236.3 211.1h0M236.0 214.6h0M235.4 217.9h0M237.4 222.7h0M238.4 225.9h0M238.3 227.6h0M237.2 229.0h0M236.9 230.9h0M275.5 198.3h0M274.6 199.8h0M272.5 202.1h0M271.2 203.3h0M268.4 204.4h0M236.3 259.7h0M236.2 257.7h0M236.5 256.1h0M237.5 252.8h0M237.8 251.0h0M238.3 249.2h0M238.3 247.7h0M237.4 244.3h0M236.7 242.8h0M283.9 250.3h0M284.4 251.9h0M284.7 253.5h0M284.5 255.2h0M285.3 258.7h0M287.6 261.0h0M287.5 261.1h0M286.5 259.8h0M284.5 257.0h0M284.0 255.3h0M283.8 251.7h0M291.5 231.5h0M290.4 230.1h0M289.5 228.5h0M289.0 227.2h0M288.4 225.4h0M287.6 223.9h0M286.5 222.6h0M285.0 222.2h0M282.4 220.2h0M282.0 222.8h0M284.9 222.3h0M286.5 222.2h0M288.1 221.3h0M289.3 220.4h0M290.8 219.7h0M292.1 218.8h0M297.7 216.1h0M298.7 214.7h0M299.4 213.2h0M299.5 215.0h0M299.9 216.5h0M301.9 219.0h0M273.8 264.8h0M275.4 267.9h0M273.8 267.0h0M272.8 266.0h0M271.5 264.9h0M271.1 263.1h0M271.4 259.7h0M271.6 258.1h0M272.2 256.3h0M230.9 227.6h0M231.0 225.7h0M230.7 224.1h0M230.3 222.2h0M231.1 219.0h0M231.1 217.3h0M228.7 214.9h0M225.8 214.4h0M227.3 217.1h0M254.0 209.6h0M257.1 209.1h0M263.1 208.0h0M222.4 246.9h0M223.8 247.6h0M227.0 247.8h0M228.4 247.7h0M229.9 248.5h0M231.0 249.7h0M232.3 250.4h0M234.6 255.0h0M234.5 256.5h0M300.2 244.6h0M298.9 243.6h0M297.6 242.6h0M296.8 241.1h0M295.2 238.2h0M294.7 236.5h0M294.5 234.8h0M293.8 233.3h0M294.3 231.2h0M293.9 229.6h0M293.9 228.0h0M294.3 226.3h0M294.0 224.5h0M294.5 222.8h0M249.4 257.7h0M249.8 256.1h0M250.4 254.4h0M250.8 252.7h0M250.3 251.1h0M249.9 249.3h0M249.9 247.7h0M254.1 233.5h0M254.3 235.1h0M253.3 238.4h0M251.5 241.0h0M250.5 242.8h0M249.8 244.3h0M248.8 245.8h0M248.0 247.1h0M246.4 247.6h0M287.4 209.0h0M290.5 208.0h0M293.4 209.3h0M294.0 210.8h0M294.3 212.8h0M294.5 214.3h0M294.7 216.0h0M295.2 217.6h0M264.5 249.7h0M263.7 248.0h0M263.2 246.5h0M262.6 244.8h0M261.5 243.7h0M261.0 242.0h0M260.6 240.3h0M258.5 237.7h0M258.0 236.1h0M256.7 234.8h0M255.2 234.1h0M253.0 231.9h0M252.2 230.6h0M251.4 228.9h0M250.4 227.3h0M248.7 224.4h0M218.4 241.5h0M217.0 242.1h0M218.5 241.7h0M219.9 241.2h0M223.1 240.9h0M224.5 240.4h0M227.7 240.2h0M229.3 240.6h0M230.6 241.2h0M232.2 241.8h0M233.6 242.6h0M234.8 243.8h0M236.2 244.9h0M237.0 246.1h0M245.9 247.3h0M247.2 250.3h0M247.2 252.0h0M247.2 253.8h0M247.3 255.5h0M247.6 257.2h0M247.6 259.0h0M247.1 260.7h0M246.4 262.2h0M246.2 263.9h0M246.5 262.2h0M246.4 260.4h0M246.2 258.6h0M246.0 257.1h0M245.5 255.4h0M245.4 253.5h0M246.2 252.1h0M246.8 250.2h0M248.0 249.4h0M249.3 248.3h0M267.1 209.9h0M266.9 208.0h0M266.2 206.3h0M265.8 204.9h0M265.4 203.1h0M263.3 200.7h0M232.6 244.8h0M233.8 246.3h0M234.6 247.7h0M234.8 249.3h0M233.7 254.6h0M232.7 255.9h0M232.5 255.6h0M232.4 254.0h0M257.1 202.4h0M255.7 203.2h0M254.3 204.2h0M253.5 205.5h0M253.0 207.3h0M251.7 208.2h0M250.2 208.6h0M248.7 209.2h0M247.2 209.8h0M245.7 210.4h0M244.1 210.9h0M241.2 211.9h0M243.3 202.0h0M244.4 198.8h0M243.6 200.2h0M242.8 201.8h0M242.1 203.4h0M239.7 205.6h0M238.5 206.6h0M237.3 207.8h0M236.2 209.1h0M240.2 223.8h0M238.9 225.1h0M237.7 226.0h0M236.7 227.2h0M235.2 228.3h0M232.6 229.8h0M231.1 230.4h0M229.5 230.7h0M268.8 196.5h0M270.1 197.1h0M271.6 198.0h0M272.9 199.1h0M275.3 201.3h0M276.6 204.4h0M277.9 205.5h0M278.3 207.1h0M280.7 209.6h0M281.8 210.7h0M282.5 212.1h0M282.6 213.9h0M282.8 215.6h0M284.0 217.1h0M284.4 218.7h0M246.0 222.8h0M244.3 223.1h0M242.8 223.3h0M237.1 226.0h0M234.8 228.6h0M233.6 229.9h0M231.9 232.7h0M230.2 232.9h0M228.8 232.9h0M254.6 217.2h0M255.1 215.6h0M256.5 214.4h0M257.5 213.3h0M258.2 211.8h0M259.6 211.0h0M262.2 209.4h0M265.3 209.7h0M266.8 209.3h0M268.1 208.3h0M269.1 206.9h0M270.9 204.2h0M232.3 231.5h0M230.9 232.2h0M229.5 232.5h0M228.1 233.4h0M226.7 234.2h0M224.1 236.1h0M223.5 237.8h0M232.9 209.1h0M234.3 212.2h0M235.5 213.5h0M236.7 214.4h0M237.9 215.6h0M238.3 217.3h0M238.6 219.2h0M238.4 220.9h0M238.0 222.5h0M236.6 223.7h0M236.0 225.3h0M235.0 226.8h0M234.2 228.0h0M263.9 266.5h0M263.5 264.9h0M262.8 263.3h0M262.9 261.5h0M262.5 259.7h0M263.4 258.1h0M264.0 256.6h0M264.9 255.2h0M264.9 253.4h0M264.7 251.6h0M264.7 249.9h0M263.0 247.0h0M262.4 245.4h0M227.9 212.1h0M228.7 213.3h0M229.6 215.0h0M231.9 217.1h0M232.7 218.5h0M233.3 220.3h0M233.7 222.0h0M232.4 222.9h0M270.7 216.4h0M270.6 214.8h0M270.4 213.0h0M270.2 211.4h0M271.5 207.9h0M271.0 206.2h0M270.4 204.6h0M270.8 203.0h0M271.2 201.2h0M238.6 236.0h0M240.2 238.8h0M241.4 240.0h0M241.8 241.8h0M241.4 245.2h0M241.1 246.9h0M240.9 250.4h0M241.2 252.1h0M281.0 256.0h0M280.0 252.4h0M279.8 250.9h0M278.9 249.4h0M278.0 247.8h0M277.4 246.3h0M280.4 246.8h0M280.1 248.4h0M279.9 250.1h0M280.3 252.0h0M280.7 253.7h0M281.9 254.6h0M282.8 256.2h0M283.4 257.8h0M285.3 260.6h0M286.2 262.0h0M287.3 263.3h0M286.3 261.9h0M285.6 260.4h0M284.2 257.2h0M276.3 204.3h0M277.8 205.0h0M280.9 206.1h0M283.6 206.1h0M284.8 205.1h0M285.5 203.5h0M283.6 206.1h0M281.9 206.5h0M280.3 206.6h0M227.5 235.4h0M226.4 234.2h0M225.9 232.6h0M225.4 230.9h0M223.0 226.7h0M221.8 225.4h0M221.1 224.1h0M220.8 224.3h0M222.7 227.0h0M267.9 245.8h0M267.7 243.9h0M267.3 240.6h0M267.1 238.8h0M266.8 237.1h0M265.6 235.9h0M264.3 235.2h0M262.5 235.2h0M261.3 234.3h0M260.0 233.3h0M258.9 232.2h0M257.4 231.6h0M223.9 224.5h0M222.3 224.6h0M221.1 224.4h0M220.8 223.9h0M222.4 224.4h0M223.8 223.8h0M225.1 223.3h0M226.9 223.7h0M228.5 223.8h0M229.9 224.1h0M232.0 226.4h0M232.5 228.1h0M232.2 229.7h0M232.2 233.3h0M232.3 235.2h0M231.9 236.9h0M231.2 238.3h0M246.6 254.3h0M246.4 256.0h0M243.8 257.7h0M242.3 258.6h0M241.6 260.0h0M242.6 261.5h0M242.5 259.6h0M241.4 258.4h0M240.6 256.9h0M240.2 255.3h0M240.4 253.6h0M224.6 249.3h0M224.0 247.6h0M221.1 243.5h0M219.6 242.7h0M218.4 241.7h0M217.1 240.9h0M218.1 242.0h0M219.5 242.8h0M220.9 243.5h0M221.9 244.8h0M243.5 235.1h0M243.9 238.6h0M245.5 241.4h0M247.3 243.8h0M247.7 245.6h0M248.2 247.2h0M248.3 249.1h0M248.6 254.2h0M248.9 255.8h0M249.0 257.9h0M249.6 259.2h0M250.1 260.9h0M251.0 262.4h0M251.2 264.2h0M252.5 243.1h0M252.9 239.7h0M254.9 235.1h0M255.0 233.3h0M255.4 231.5h0M255.5 229.8h0M263.7 228.2h0M265.1 228.5h0M266.5 229.8h0M266.7 231.3h0M267.8 232.9h0M268.7 234.2h0M269.6 235.6h0M270.6 236.7h0M272.0 237.7h0M273.2 239.1h0M275.3 241.4h0M276.1 243.0h0M276.7 244.7h0M277.3 246.3h0M277.6 247.9h0M277.7 249.7h0M279.1 252.9h0M279.5 254.6h0M280.3 256.0h0M223.6 216.0h0M224.9 215.1h0M226.3 215.5h0M227.8 215.3h0M229.5 215.6h0M230.8 216.7h0M231.8 217.9h0M234.3 222.3h0M234.8 225.6h0M235.6 230.7h0M235.5 232.4h0M235.6 234.1h0M288.2 215.4h0M287.4 214.0h0M284.3 212.8h0M282.8 212.4h0M281.8 211.2h0M281.1 209.6h0M280.1 208.5h0M278.7 207.2h0M277.5 206.4h0M275.9 206.0h0M272.9 205.2h0M271.4 205.5h0M269.9 205.7h0M301.0 221.7h0M300.9 218.2h0M300.6 216.3h0M300.6 214.7h0M300.7 216.4h0M301.0 218.0h0M301.7 219.7h0M300.9 224.7h0M301.2 226.5h0M302.4 227.3h0M305.6 227.6h0M307.1 227.1h0M304.1 228.3h0M302.9 229.2h0M301.4 229.6h0M299.9 230.5h0M268.9 265.6h0M267.7 259.0h0M267.7 257.3h0M267.2 255.7h0M267.9 254.0h0M268.7 252.5h0M270.2 249.6h0M270.4 247.8h0M270.7 246.2h0M270.4 244.5h0M269.7 242.8h0M283.4 239.1h0M283.4 237.4h0M284.5 235.8h0M286.6 233.3h0M287.6 231.9h0M289.2 231.8h0M290.6 231.2h0M292.0 230.4h0M293.2 229.3h0M294.3 228.0h0M294.7 226.3h0M295.1 224.8h0M294.3 223.1h0M263.1 201.3h0M261.6 201.8h0M260.0 202.0h0M258.4 202.3h0M256.9 202.4h0M254.2 201.3h0M253.2 199.8h0M251.9 198.8h0M250.6 197.8h0M252.2 198.3h0M297.6 238.7h0M296.8 240.4h0M295.4 245.4h0M294.6 246.7h0M293.6 248.1h0M292.2 251.2h0M292.4 254.7h0M283.6 228.2h0M283.6 226.3h0M283.6 224.5h0M283.7 222.8h0M286.6 218.8h0M287.5 217.4h0M288.1 215.6h0M289.3 214.8h0M290.1 213.4h0M291.3 212.1h0M292.5 210.9h0M293.6 209.9h0M255.4 259.6h0M255.9 261.3h0M256.7 262.8h0M258.4 262.6h0M258.2 260.8h0M257.8 259.0h0M258.4 257.6h0M259.2 254.3h0M260.4 249.1h0M261.4 248.1h0M246.4 199.7h0M245.7 201.3h0M245.5 204.5h0M245.6 206.3h0M247.3 209.3h0M247.8 210.9h0M248.5 212.5h0M251.2 210.6h0M252.7 211.7h0M253.8 212.5h0M255.0 213.8h0M256.8 216.6h0M257.2 218.5h0M256.3 221.9h0M255.4 223.2h0M253.2 225.7h0M252.7 227.4h0M259.3 254.6h0M259.2 252.8h0M259.2 251.2h0M259.6 247.5h0M260.7 246.3h0M260.9 244.6h0M298.3 249.5h0M296.9 248.9h0M295.4 248.2h0M294.4 247.0h0M292.4 244.4h0M291.5 242.8h0M291.5 241.1h0M292.3 239.4h0M292.4 237.8h0M290.6 235.0h0M287.2 262.5h0M287.6 260.7h0M288.1 259.1h0M288.3 257.4h0M288.9 255.8h0M289.5 250.9h0M288.7 249.4h0M287.8 245.9h0M286.2 242.8h0M285.2 241.5h0M283.4 238.6h0M233.0 239.5h0M231.5 239.2h0M230.2 238.2h0M227.4 236.7h0M221.8 237.7h0M219.8 240.4h0M219.5 244.0h0M220.0 242.2h0M221.8 239.3h0M222.2 237.8h0M280.4 200.3h0M281.1 201.5h0M282.5 202.8h0M283.4 203.9h0M284.6 205.3h0M285.6 206.6h0M286.6 208.0h0M290.2 211.3h0M291.4 211.8h0M296.1 210.9h0M292.6 214.2h0M291.3 214.9h0M289.7 215.7h0M280.5 230.7h0M280.8 229.2h0M281.7 227.8h0M283.2 227.0h0M284.5 226.7h0M286.1 226.1h0M287.7 226.2h0M289.3 225.8h0M290.7 225.8h0M292.3 225.6h0M294.0 225.4h0M295.5 225.4h0M288.2 252.2h0M286.7 255.3h0M285.7 258.8h0M280.4 262.5h0M279.6 264.0h0M278.2 267.3h0M241.7 261.0h0M242.3 262.6h0M240.4 259.8h0M239.5 256.5h0M238.4 255.5h0M237.5 254.0h0M236.6 252.5h0M235.9 251.0h0M234.6 249.8h0M233.6 248.9h0M228.9 247.4h0M227.4 247.5h0M225.9 247.4h0M224.3 247.2h0M222.8 247.9h0M224.3 248.1h0M278.2 251.1h0M277.2 252.4h0M275.9 253.7h0M273.1 257.6h0M272.1 258.9h0M271.9 260.7h0M271.6 264.9h0M269.5 262.5h0M268.6 261.0h0M267.0 258.0h0M266.9 256.3h0M307.5 228.8h0M307.3 230.3h0M307.6 233.9h0M307.0 232.4h0M305.7 231.1h0M304.3 228.2h0M302.9 227.1h0M300.4 225.2h0M297.4 224.2h0M296.0 225.2h0M274.1 226.2h0M275.9 225.8h0M277.4 226.3h0M280.3 230.3h0M280.8 231.8h0M281.5 233.4h0M282.0 235.2h0M282.6 236.8h0M283.3 238.3h0M286.7 210.2h0M287.2 208.5h0M287.6 206.8h0M288.4 205.3h0M287.7 207.0h0M286.3 207.9h0M285.4 209.3h0M284.8 210.9h0M285.0 212.8h0M285.0 214.7h0M285.2 216.1h0M285.4 217.9h0M285.1 219.6h0M233.4 258.6h0M234.0 258.0h0M233.0 256.6h0M232.0 255.4h0M231.8 253.7h0M231.6 251.8h0M230.6 250.3h0M229.6 249.4h0M228.3 248.2h0M225.3 247.8h0M222.4 246.5h0M220.8 246.0h0M223.2 248.3h0M224.8 248.6h0M237.4 212.0h0M238.7 211.6h0M240.2 212.1h0M241.7 212.2h0M243.4 211.9h0M244.8 211.3h0M246.2 212.2h0M249.0 213.9h0M249.7 215.4h0M250.4 216.9h0M251.7 220.2h0M252.7 221.6h0M255.8 225.6h0M256.9 226.8h0M258.1 227.8h0M259.2 229.1h0M260.6 229.8h0M277.5 211.9h0M277.8 210.1h0M278.4 208.6h0M278.9 206.7h0M279.4 203.5h0M279.8 201.8h0M280.4 200.3h0M279.7 201.8h0M278.0 204.7h0M276.6 205.7h0M273.8 207.2h0M272.5 207.9h0M271.0 208.4h0M269.5 208.6h0M244.2 225.7h0M242.9 226.0h0M241.4 225.9h0M239.9 226.4h0M238.3 226.1h0M235.2 226.8h0M291.4 259.2h0M291.1 257.6h0M290.7 255.8h0M291.0 254.3h0M290.4 252.6h0M288.0 250.4h0M286.9 249.0h0M285.8 247.9h0M283.1 245.9h0M282.2 244.6h0M281.6 242.9h0M281.4 241.4h0M256.7 227.2h0M257.3 228.5h0M257.8 230.2h0M257.6 232.0h0M257.1 233.7h0M256.6 235.1h0M255.9 236.8h0M255.1 238.4h0M254.4 240.0h0M253.9 241.5h0M252.6 242.6h0M270.4 262.1h0M270.0 265.5h0M269.9 267.2h0M270.0 265.3h0M270.5 262.1h0M270.8 258.5h0M268.7 253.8h0M268.6 252.1h0M267.0 249.1h0M265.8 248.1h0M264.9 246.7h0M298.3 226.4h0M297.0 229.5h0M296.2 233.0h0M296.4 236.4h0M296.3 239.8h0M295.0 242.9h0M296.2 246.1h0M288.4 254.0h0M288.7 252.4h0M288.9 250.6h0M288.9 248.9h0M288.8 247.3h0M289.0 245.4h0M288.0 244.0h0M287.6 242.3h0M287.4 240.6h0M287.9 238.8h0M288.2 237.1h0M288.0 235.4h0M287.2 233.7h0M287.4 232.1h0M287.4 230.3h0M286.6 228.8h0M285.6 227.6h0M303.1 230.3h0M304.5 227.3h0M305.0 225.5h0M304.1 227.0h0M259.0 215.8h0M260.1 212.5h0M261.1 211.0h0M261.4 209.3h0M262.1 207.9h0M263.3 206.7h0M264.8 206.2h0M248.8 233.6h0M247.3 238.9h0M245.8 239.4h0M244.3 239.8h0M243.4 241.1h0M242.0 241.9h0M241.0 243.1h0M239.5 243.9h0M255.9 246.7h0M256.0 245.0h0M255.6 243.3h0M254.7 241.8h0M253.8 240.7h0M252.6 239.1h0M250.9 236.2h0M250.4 231.1h0M249.2 229.7h0M248.7 228.1h0M248.3 226.4h0M247.6 224.7h0M247.5 223.1h0M247.2 217.7h0M247.3 216.1h0M269.6 262.7h0M270.4 264.0h0M270.5 265.9h0M270.9 267.8h0M273.7 263.7h0M274.6 262.1h0M262.9 256.7h0M263.6 253.4h0M263.0 250.1h0M263.3 248.3h0M263.4 246.6h0M264.2 245.0h0M265.3 243.7h0M266.1 242.3h0M266.5 240.6h0M267.2 237.0h0M268.0 235.6h0M268.9 234.3h0M271.7 232.6h0M276.3 233.0h0M295.9 213.6h0M296.2 211.8h0M296.8 210.3h0M296.9 212.2h0M295.3 218.7h0M294.8 220.3h0M287.9 235.7h0M286.3 236.4h0M284.9 236.3h0M283.3 236.8h0M281.8 237.1h0M278.6 237.2h0M277.0 237.1h0M274.5 235.2h0M273.8 233.9h0M272.7 232.4h0M271.8 231.0h0M271.7 229.0h0M271.2 227.4h0M270.5 226.0h0M269.7 224.5h0M220.2 225.8h0M220.2 224.2h0M220.7 224.1h0M220.2 225.7h0M219.7 229.2h0M219.8 231.0h0M237.7 253.5h0M237.8 255.3h0M238.4 256.9h0M240.8 259.4h0M242.0 260.1h0M243.5 260.7h0M246.4 262.5h0M275.5 215.5h0M277.0 215.3h0M279.7 215.6h0M281.1 216.8h0M282.1 220.1h0M282.5 221.7h0M248.2 240.2h0M247.7 236.6h0M246.5 229.9h0M245.9 228.6h0M245.0 227.1h0M243.1 213.6h0M241.7 213.9h0M240.3 213.8h0M238.7 214.2h0M237.1 214.8h0M235.8 215.5h0M234.5 216.7h0M233.3 217.7h0M231.5 220.4h0M230.8 222.0h0M231.0 223.7h0M231.1 225.3h0M228.6 227.8h0M225.8 227.8h0M224.1 227.9h0M222.9 241.5h0M224.3 242.2h0M225.9 242.0h0M228.0 239.6h0M229.4 238.8h0M230.6 237.5h0M231.3 236.0h0M232.1 234.3h0M233.1 233.0h0M233.8 231.4h0M233.9 229.7h0M234.4 227.8h0M239.7 224.9h0M241.2 224.6h0M244.4 224.5h0M246.1 224.5h0M242.5 244.7h0M242.5 248.2h0M242.5 250.0h0M241.9 251.7h0M241.9 253.3h0M242.1 255.1h0M241.4 260.2h0M240.8 261.8h0M241.8 260.5h0M243.3 260.0h0M246.4 259.1h0M247.5 257.9h0M248.4 256.4h0M267.1 237.8h0M268.1 236.5h0M268.2 234.8h0M267.8 232.9h0M267.9 231.4h0M267.6 229.6h0M267.5 227.9h0M268.0 226.0h0M268.7 224.6h0M269.7 223.1h0M271.0 222.0h0M272.5 221.5h0M236.4 218.0h0M238.0 217.7h0M239.5 216.9h0M241.1 216.7h0M243.9 216.0h0M245.3 215.1h0M248.3 215.1h0M249.8 214.7h0M251.2 214.3h0M252.9 213.9h0M254.3 213.3h0M255.2 211.9h0M258.2 210.5h0M260.8 208.7h0M262.4 208.1h0M265.3 208.1h0M257.5 262.4h0M257.1 260.7h0M256.5 259.1h0M256.4 257.6h0M256.5 255.6h0M270.8 222.1h0M271.6 223.3h0M272.2 224.9h0M273.8 231.8h0M273.7 235.1h0M274.4 236.8h0M274.5 238.5h0M274.3 240.5h0M274.8 242.0h0M275.4 243.6h0M276.7 244.9h0M277.6 246.0h0M279.3 246.3h0M280.8 246.7h0M272.2 205.4h0M272.8 206.9h0M274.1 210.1h0M274.4 211.9h0M274.3 213.7h0M274.7 215.1h0M275.1 216.9h0M274.4 218.5h0M273.1 219.7h0M271.8 220.3h0M270.3 219.8h0M295.3 229.3h0M294.1 230.5h0M292.8 231.4h0M291.6 232.5h0M290.6 233.8h0M289.9 235.5h0M287.5 237.6h0M286.1 238.2h0M284.6 238.8h0M283.4 240.2h0M282.2 241.0h0M280.9 241.9h0M279.3 241.8h0M278.1 241.1h0M277.1 239.9h0M275.6 236.6h0M274.6 235.3h0M272.9 234.9h0M271.5 234.9h0M223.5 234.0h0M222.8 237.6h0M221.9 239.1h0M220.7 240.2h0M219.3 241.0h0M221.4 235.7h0M222.4 234.5h0M223.6 233.6h0M225.0 232.7h0M226.4 231.7h0M227.6 230.6h0M290.2 205.1h0M294.9 234.7h0M297.1 237.1h0M299.0 239.7h0M300.3 240.7h0M299.1 239.8h0M298.1 238.2h0M296.9 237.1h0M295.8 236.0h0M294.8 234.6h0M293.9 233.4h0M292.6 232.5h0M251.6 227.9h0M251.4 226.1h0M251.3 224.1h0M251.0 222.6h0M251.0 220.8h0M250.3 219.3h0M249.1 218.0h0M248.2 216.6h0M247.8 214.9h0M247.2 213.3h0M246.4 211.7h0M245.9 210.1h0M245.5 208.3h0M246.4 206.7h0M247.3 205.5h0M247.7 203.8h0M247.8 202.0h0M248.0 200.2h0M231.2 220.9h0M231.6 222.5h0M231.7 224.3h0M231.1 226.2h0M231.1 227.8h0M232.8 232.7h0M233.9 234.0h0M234.8 235.3h0M236.8 237.8h0M237.7 239.1h0M238.3 240.7h0M239.6 242.3h0M240.3 243.7h0M239.7 245.2h0M238.9 246.9h0M238.4 248.3h0M236.9 249.8h0M238.3 250.7h0M240.2 253.3h0M240.8 254.9h0M241.5 256.6h0M241.9 258.3h0M241.8 260.1h0M241.7 261.9h0M259.9 245.3h0M260.5 246.7h0M261.0 248.5h0M261.1 251.9h0M273.5 238.2h0M273.2 236.4h0M272.3 233.0h0M272.2 231.4h0M272.2 229.5h0M271.6 227.9h0M272.1 222.5h0M272.5 219.2h0M264.5 224.1h0M265.3 222.3h0M265.8 220.6h0M265.5 218.8h0M264.3 217.7h0M263.6 216.4h0M262.1 215.3h0M260.6 215.2h0M257.3 215.4h0M265.9 213.9h0M264.5 210.9h0M264.1 209.2h0M263.8 207.5h0M263.5 205.8h0M263.3 204.0h0M262.7 202.3h0M263.0 200.6h0M263.3 198.9h0M246.1 218.1h0M246.8 216.4h0M248.1 211.5h0M248.8 210.1h0M248.4 208.4h0M248.4 206.4h0M248.4 204.8h0M248.0 203.1h0M251.1 219.1h0M250.1 217.6h0M248.9 216.6h0M247.6 215.5h0M246.4 214.4h0M245.3 213.3h0M244.3 209.8h0M242.9 206.9h0M242.6 205.2h0M241.7 201.9h0M241.5 203.6h0M241.1 205.3h0M223.9 220.3h0M225.2 221.4h0M226.3 222.7h0M227.4 224.0h0M227.6 225.7h0M227.8 227.5h0M228.8 230.6h0M230.0 231.9h0M231.2 232.8h0M291.9 223.1h0M290.6 224.0h0M289.1 224.1h0M287.6 224.7h0M284.7 226.1h0M283.3 226.9h0M282.1 228.1h0M281.8 229.7h0M281.4 231.4h0M280.9 232.9h0M257.9 230.7h0M258.5 229.1h0M259.0 227.3h0M259.1 225.6h0M259.6 222.5h0M257.3 218.2h0M256.1 217.0h0M254.8 216.2h0M264.3 246.7h0M264.3 244.9h0M264.6 243.2h0M265.3 241.8h0M265.9 240.0h0M266.8 236.7h0M267.0 235.0h0M266.6 231.4h0M267.0 229.9h0M268.4 226.6h0M270.5 224.2h0M271.7 223.2h0M257.0 220.4h0M260.2 219.9h0M263.3 219.5h0M264.7 218.2h0M265.6 216.9h0M266.6 215.5h0M229.6 246.6h0M228.5 247.9h0M227.3 249.1h0M226.2 250.1h0M225.3 251.7h0M225.6 249.8h0M225.8 248.2h0M294.8 250.8h0M294.5 252.5h0M293.5 254.1h0M293.4 255.7h0M292.9 257.4h0M293.1 255.7h0M293.4 254.0h0M293.6 252.5h0M293.8 250.5h0M295.6 247.7h0M296.3 246.3h0M297.3 244.8h0M297.8 243.1h0M298.2 241.5h0M297.7 234.6h0M277.7 220.4h0M277.8 218.7h0M278.7 217.2h0M279.9 216.2h0M281.2 215.2h0M282.8 215.0h0M285.7 215.8h0M287.4 215.5h0M288.8 214.7h0M290.0 213.7h0M292.3 209.4h0M293.7 208.0h0M292.5 209.2h0M297.2 211.7h0M295.7 211.3h0M294.2 211.2h0M292.6 211.2h0M289.5 211.1h0M287.9 211.0h0M284.9 210.2h0M283.5 209.2h0M282.2 208.7h0M279.1 209.7h0M277.9 211.0h0M296.3 252.9h0M296.1 251.1h0M296.3 249.3h0M296.4 244.2h0M296.1 242.5h0M295.4 240.9h0M294.2 239.8h0M293.4 238.3h0M292.9 236.5h0M292.6 234.9h0M293.7 231.8h0M296.0 229.3h0M297.9 222.6h0M290.3 244.4h0M290.2 242.6h0M290.9 241.1h0M291.5 239.3h0M291.3 237.8h0M291.0 236.2h0M291.7 232.7h0M294.1 230.3h0M295.7 229.8h0M297.1 229.3h0M298.7 228.9h0M300.3 228.8h0M301.6 228.2h0M303.3 228.1h0M304.8 227.6h0M306.4 227.4h0M304.8 228.0h0M303.2 228.5h0M304.6 234.5h0M302.3 237.1h0M301.2 238.2h0M299.3 242.9h0M263.9 234.9h0M264.5 236.4h0M265.7 237.6h0M266.4 239.2h0M267.8 240.1h0M268.4 241.7h0M268.6 245.1h0M269.2 246.8h0M269.4 248.4h0M269.7 250.2h0M269.6 255.1h0M270.1 256.8h0M271.3 257.9h0M271.9 259.5h0M271.3 261.3h0M270.7 262.8h0M270.3 231.0h0M268.9 230.8h0M267.3 230.4h0M265.9 229.5h0M264.5 228.8h0M263.7 227.0h0M263.0 225.7h0M261.6 224.7h0M261.1 223.1h0M260.4 221.5h0M260.2 219.8h0M260.0 218.0h0M259.7 216.3h0M259.5 214.4h0M240.2 214.2h0M241.3 215.3h0M242.5 216.7h0M243.6 217.9h0M244.7 219.1h0M247.4 221.0h0M248.8 221.3h0M255.0 221.0h0M256.3 221.7h0M257.0 223.0h0M257.9 224.6h0" stroke="#ffe014" stroke-width="1.68" stroke-linecap="round" fill="none"/>
<path d="M367.2 197.4h0M370.0 197.7h0M370.7 197.1h0M373.4 199.4h0M366.9 202.3h0M369.0 202.3h0M361.0 205.4h0M368.3 208.3h0M349.8 209.4h0M361.0 214.4h0M377.0 213.7h0M365.4 219.2h0M376.4 221.2h0M374.2 223.9h0M377.5 224.3h0M367.6 225.6h0M369.3 228.4h0M341.5 229.3h0M349.6 229.3h0M352.7 232.4h0M355.5 232.4h0M387.4 196.9h0M381.2 204.6h0M382.2 206.5h0M378.6 210.1h0M384.3 208.3h0M386.4 209.4h0M385.5 210.8h0M396.2 209.1h0M382.7 214.8h0M388.4 213.7h0M400.3 213.2h0M390.5 218.4h0M402.7 218.7h0M381.2 223.0h0M379.6 227.2h0M391.5 224.6h0M410.2 220.4h0M411.0 223.0h0M416.9 220.1h0M418.5 223.9h0M414.8 227.2h0M415.4 227.7h0M419.5 227.2h0M345.2 233.6h0M346.2 233.2h0M346.7 236.7h0M340.5 242.0h0M346.2 243.4h0M334.3 245.5h0M357.6 242.4h0M357.1 247.3h0M358.3 247.3h0M361.2 249.4h0M362.5 248.4h0M331.2 252.5h0M344.6 252.5h0M357.6 251.7h0M358.1 255.6h0M362.3 256.0h0M361.7 259.1h0M359.7 261.0h0M354.5 259.4h0M372.6 253.5h0M361.7 265.4h0M350.9 268.0h0M352.4 267.4h0M386.6 239.0h0M381.2 243.2h0M382.4 242.9h0M383.3 242.4h0M387.4 243.2h0M393.4 242.4h0M380.4 249.8h0M387.9 256.0h0M396.7 265.1h0M387.4 268.8h0M424.5 235.1h0M418.5 241.5h0M420.0 242.9h0M412.0 249.4h0M418.7 252.2h0M422.1 251.3h0" stroke="#00bfff" stroke-width="1.70" stroke-linecap="round" fill="none"/>
<path d="M492.5 197.4h0M473.6 206.5h0M462.5 212.7h0M447.4 216.6h0M446.7 218.7h0M451.8 227.0h0M463.2 227.0h0M506.3 200.5h0M497.4 204.2h0M502.9 204.9h0M503.4 206.5h0M495.9 208.5h0M502.4 209.1h0M503.2 210.1h0M509.6 211.1h0M511.2 210.4h0M500.3 213.7h0M497.2 215.6h0M498.2 216.6h0M506.5 215.6h0M513.2 217.0h0M520.5 213.2h0M523.1 215.3h0M508.4 220.8h0M518.4 221.8h0M520.0 223.2h0M527.7 223.9h0M497.0 227.4h0M511.7 226.4h0M512.2 228.4h0M510.6 229.5h0M521.0 228.0h0M526.2 228.0h0M527.2 229.0h0M533.4 226.7h0M531.9 228.4h0M523.6 230.5h0M507.0 231.5h0M528.3 231.5h0M529.8 232.2h0M466.9 236.1h0M459.4 242.9h0M468.1 249.4h0M458.1 266.4h0M506.8 231.4h0M510.8 229.4h0M512.5 228.6h0M507.7 234.3h0M513.1 233.5h0M497.1 239.4h0M510.8 240.3h0M522.8 230.3h0M523.9 233.1h0M525.1 234.8h0M526.8 228.6h0M527.3 231.4h0M528.5 233.1h0M529.1 230.3h0M532.5 228.6h0M532.5 232.6h0M533.6 234.8h0M534.8 236.0h0M522.2 237.7h0M532.5 238.5h0M534.2 238.8h0M535.9 238.8h0M537.6 238.8h0M539.3 239.1h0M530.5 243.4h0M522.2 245.3h0M520.5 248.3h0M518.2 250.2h0M517.1 251.4h0M504.5 247.4h0M500.9 248.8h0M505.9 250.8h0M514.2 256.5h0M509.7 260.5h0M506.3 263.6h0M512.0 265.6h0M499.4 267.3h0M511.4 268.8h0" stroke="#ff00ff" stroke-width="1.70" stroke-linecap="round" fill="none"/>
<path d="M238.3 294.5h0M239.1 297.5h0M266.9 300.4h0M292.9 339.3h0M260.3 298.5h0M263.5 297.9h0M266.3 297.0h0M270.5 291.7h0M271.6 290.6h0M253.9 343.4h0M254.9 351.9h0M249.6 345.8h0M268.5 290.9h0M286.6 332.0h0M290.3 321.2h0M292.5 312.1h0M248.4 325.4h0M244.8 328.5h0M242.4 333.0h0M241.3 320.2h0M237.4 317.3h0M234.5 313.3h0M240.9 298.3h0M279.8 351.0h0M273.3 344.8h0M276.0 338.8h0M276.8 337.0h0M277.3 335.6h0M261.6 345.8h0M262.4 344.3h0M263.7 343.3h0M269.3 340.5h0M226.6 329.5h0M225.1 329.7h0M222.0 329.4h0M223.3 335.0h0M278.3 290.4h0M278.9 288.7h0M280.7 296.9h0M280.2 298.6h0M249.3 314.2h0M257.4 299.0h0M240.8 317.6h0M242.5 322.6h0M242.4 324.3h0M242.8 326.0h0M243.5 327.7h0M242.3 330.9h0M239.1 345.5h0M238.2 349.0h0M225.4 319.0h0M224.7 325.5h0M220.2 332.6h0M221.7 333.2h0M241.5 305.8h0M236.8 304.4h0M235.3 304.3h0M239.7 298.0h0M257.5 330.1h0M259.9 334.5h0M261.1 341.2h0M262.2 353.2h0M281.8 322.0h0M275.0 325.6h0M279.3 330.9h0M279.8 336.0h0M283.8 341.3h0M286.1 343.3h0M287.5 344.1h0M288.7 345.2h0M289.6 346.7h0M245.4 339.1h0M245.1 337.6h0M237.8 331.2h0M236.5 336.4h0M237.1 341.5h0M244.4 348.1h0M273.5 321.5h0M275.0 327.9h0M273.7 341.3h0M273.8 343.2h0M291.5 294.3h0M287.0 303.2h0M284.6 305.4h0M283.4 306.6h0M218.7 330.0h0M217.6 330.4h0M221.0 333.1h0M225.5 331.9h0M269.6 288.2h0M264.7 285.9h0M250.8 334.6h0M248.5 328.5h0M260.4 302.4h0M260.6 293.9h0M261.4 290.7h0M262.3 285.5h0M263.3 286.7h0M264.7 287.6h0M304.7 312.4h0M307.5 315.3h0M259.9 295.5h0M257.1 294.8h0M254.0 294.8h0M250.7 295.4h0M249.3 295.3h0M246.4 296.4h0M243.6 297.5h0M241.0 299.4h0M236.6 300.9h0M233.3 300.6h0M258.5 321.3h0M253.9 321.9h0M277.3 315.0h0M276.2 321.7h0M275.1 326.7h0M272.4 335.0h0M228.1 308.6h0M231.1 312.4h0M232.0 319.1h0M253.4 296.8h0M252.1 297.9h0M248.5 303.3h0M285.3 337.0h0M286.5 330.2h0M287.9 325.6h0M260.0 312.0h0M258.4 312.1h0M249.3 313.0h0M245.4 315.8h0M243.4 318.5h0M297.0 311.2h0M297.2 313.0h0M297.6 316.4h0M297.6 319.7h0M233.6 320.6h0M235.6 315.7h0M235.0 304.2h0M234.5 302.6h0M241.9 350.0h0M246.4 348.5h0M250.5 346.4h0M258.3 335.5h0M256.1 337.5h0M253.9 342.1h0M293.4 325.5h0M291.8 325.8h0M259.9 342.6h0M258.6 345.7h0M305.7 318.8h0M304.8 317.4h0M300.9 314.4h0M300.0 313.2h0M239.5 335.5h0M239.4 337.4h0M239.0 339.3h0M238.7 342.5h0M237.8 344.1h0M229.6 309.7h0M228.2 308.9h0M227.0 308.0h0M279.9 300.3h0M280.6 298.8h0M282.5 296.0h0M282.5 296.1h0M292.8 342.9h0M288.3 330.5h0M291.8 339.3h0M302.7 325.3h0M298.5 320.4h0M269.9 327.9h0M270.2 329.9h0M276.5 337.0h0M278.6 341.4h0M270.4 343.8h0M267.6 351.6h0M232.6 340.8h0M247.4 349.5h0M268.0 310.6h0M268.7 309.0h0M271.4 307.1h0M272.9 306.9h0M280.3 304.2h0M269.7 314.2h0M271.0 314.9h0M272.7 315.1h0M275.6 314.6h0M280.5 308.0h0M259.1 287.5h0M260.3 296.0h0M250.8 303.6h0M253.7 305.1h0M254.7 306.8h0M255.6 307.9h0M256.4 309.6h0M257.1 312.7h0M252.1 318.0h0M249.1 317.9h0M266.5 346.7h0M251.8 352.6h0M252.7 345.7h0M288.2 313.1h0M289.5 311.9h0M296.7 309.0h0M219.4 311.6h0M237.1 311.0h0M239.6 315.1h0M232.8 301.0h0M233.8 295.8h0M236.0 300.4h0M235.3 303.9h0M235.6 307.1h0M236.3 308.7h0M237.7 311.7h0M273.6 289.1h0M269.6 291.8h0M266.6 292.8h0M236.3 342.0h0M237.3 333.5h0M284.6 344.6h0M286.6 347.1h0M288.6 349.8h0M285.2 346.0h0M283.7 340.9h0M283.7 308.8h0M283.3 310.4h0M293.5 306.5h0M295.0 305.5h0M296.2 304.3h0M300.7 305.7h0M274.2 353.9h0M270.8 348.9h0M230.7 308.3h0M229.4 303.7h0M226.8 302.7h0M226.1 303.5h0M255.3 296.9h0M258.3 297.3h0M259.8 296.8h0M261.5 296.2h0M224.7 335.6h0M233.1 339.2h0M233.9 340.5h0M296.0 327.2h0M295.3 308.9h0M296.3 307.5h0M254.3 319.6h0M253.8 324.5h0M252.0 327.4h0M289.0 296.3h0M291.9 295.8h0M295.9 306.7h0M264.4 339.1h0M259.2 326.3h0M253.4 320.7h0M249.1 313.6h0M221.0 328.9h0M225.8 327.6h0M246.2 336.3h0M264.2 289.4h0M234.1 338.7h0M233.6 340.3h0M231.8 344.9h0M242.3 299.1h0M239.2 299.8h0M243.1 288.1h0M240.7 292.4h0M233.5 316.7h0M273.7 287.9h0M275.7 290.7h0M279.1 296.1h0M247.0 309.8h0M241.0 311.6h0M239.4 312.2h0M238.0 312.8h0M235.3 314.9h0M232.4 318.8h0M226.7 320.3h0M225.2 320.0h0M260.6 297.6h0M263.4 297.9h0M269.7 293.2h0M235.8 316.1h0M234.3 316.7h0M233.2 318.0h0M225.0 322.9h0M222.4 326.9h0M233.1 298.3h0M263.5 336.2h0M229.9 303.8h0M270.9 297.2h0M238.7 325.0h0M241.2 331.0h0M240.2 336.2h0M280.5 341.5h0M276.8 332.2h0M280.8 332.8h0M284.2 346.6h0M285.0 346.3h0M279.2 293.0h0M282.0 294.6h0M284.5 292.5h0M278.6 294.1h0M224.3 316.9h0M223.6 315.4h0M219.1 310.5h0M221.1 313.3h0M267.1 330.1h0M218.6 311.3h0M230.8 312.6h0M231.5 319.3h0M246.1 339.8h0M244.7 344.6h0M243.2 350.2h0M242.4 348.9h0M225.7 338.0h0M225.2 339.7h0M224.5 338.3h0M222.5 333.7h0M221.6 332.2h0M243.4 324.4h0M244.5 327.6h0M246.4 329.9h0M247.9 338.3h0M247.9 340.0h0M252.0 329.1h0M253.0 325.7h0M253.9 324.3h0M255.2 315.8h0M274.0 327.7h0M278.3 338.8h0M232.3 306.9h0M232.9 308.4h0M234.4 311.6h0M234.8 315.0h0M235.4 316.5h0M291.2 304.2h0M289.6 303.6h0M285.8 301.1h0M274.3 293.0h0M301.1 307.4h0M301.9 309.1h0M301.4 310.8h0M304.1 315.0h0M305.7 315.3h0M268.3 354.9h0M268.9 351.3h0M268.9 349.6h0M268.3 348.1h0M269.5 338.7h0M285.3 322.1h0M255.1 289.8h0M253.5 285.9h0M295.9 329.4h0M295.7 331.2h0M292.8 337.1h0M292.4 340.5h0M284.2 308.8h0M285.0 307.4h0M256.9 352.0h0M257.7 353.4h0M257.8 351.6h0M258.7 343.3h0M258.9 339.9h0M259.3 338.2h0M262.5 334.7h0M246.8 285.8h0M244.9 290.4h0M246.0 295.5h0M248.1 296.7h0M249.4 297.4h0M255.6 303.0h0M256.2 307.6h0M254.1 312.1h0M259.2 336.8h0M293.1 333.4h0M291.4 323.9h0M289.4 321.2h0M288.9 319.5h0M284.6 352.2h0M285.8 351.1h0M289.5 341.9h0M289.7 340.0h0M288.2 335.1h0M286.6 332.0h0M284.1 327.7h0M228.3 325.2h0M225.4 323.2h0M223.9 323.4h0M222.7 324.6h0M220.2 326.8h0M219.1 329.7h0M220.4 328.4h0M287.5 297.0h0M288.8 298.0h0M293.1 299.6h0M294.7 299.2h0M295.3 300.1h0M293.9 300.8h0M279.9 320.2h0M289.6 337.0h0M289.1 338.6h0M287.1 341.4h0M286.2 344.7h0M284.2 347.1h0M282.9 348.4h0M281.6 349.0h0M278.7 353.0h0M240.6 349.1h0M239.3 345.8h0M231.5 335.5h0M229.9 335.3h0M274.7 342.5h0M273.7 343.7h0M271.5 350.0h0M272.1 351.6h0M273.1 353.0h0M273.6 354.8h0M272.6 353.6h0M270.0 351.5h0M267.7 346.9h0M307.3 319.7h0M304.9 317.1h0M301.7 313.8h0M298.8 312.4h0M272.5 313.7h0M278.2 314.8h0M279.0 316.5h0M285.3 300.9h0M286.2 299.4h0M231.7 344.9h0M234.1 347.1h0M226.3 335.8h0M223.1 335.0h0M221.3 335.1h0M247.3 300.5h0M250.8 306.3h0M253.2 310.6h0M254.5 311.6h0M278.5 292.7h0M278.7 291.0h0M275.3 294.3h0M236.3 313.8h0M288.9 339.1h0M284.5 334.3h0M282.4 327.3h0M270.9 346.0h0M270.3 347.6h0M269.9 351.1h0M270.1 351.2h0M270.5 347.6h0M270.3 344.4h0M269.2 342.8h0M267.7 338.1h0M297.6 315.6h0M296.4 318.8h0M296.6 322.3h0M296.5 325.5h0M295.2 328.9h0M295.7 331.8h0M297.1 335.1h0M284.7 313.6h0M284.5 311.9h0M284.0 310.1h0M283.8 308.3h0M304.1 316.5h0M305.1 313.2h0M306.3 312.0h0M258.9 306.7h0M258.7 305.2h0M259.1 301.6h0M248.2 323.0h0M247.3 324.6h0M251.6 325.3h0M250.3 322.0h0M250.3 320.4h0M246.6 308.9h0M246.6 307.4h0M246.8 302.1h0M271.3 353.7h0M272.8 352.6h0M262.8 342.5h0M262.8 339.2h0M266.7 326.4h0M270.0 320.7h0M273.0 319.8h0M274.4 320.3h0M295.4 303.1h0M296.9 301.4h0M296.3 303.2h0M296.1 305.0h0M280.1 324.8h0M275.6 323.7h0M268.8 310.5h0M220.8 316.6h0M219.9 315.2h0M219.3 310.1h0M219.1 314.9h0M218.9 320.1h0M238.9 346.1h0M244.5 349.1h0M246.9 351.2h0M278.2 302.3h0M281.7 306.0h0M282.5 311.3h0M247.9 329.4h0M247.4 325.9h0M246.9 322.4h0M247.4 320.9h0M246.9 319.3h0M246.0 300.5h0M244.4 301.4h0M231.6 306.4h0M229.3 314.2h0M226.7 315.3h0M226.5 328.4h0M235.3 314.7h0M236.4 313.3h0M237.8 312.9h0M242.5 312.1h0M241.7 334.1h0M241.6 344.3h0M241.5 346.1h0M244.5 347.2h0M242.1 304.3h0M246.4 302.1h0M256.5 299.1h0M259.2 296.9h0M263.6 295.4h0M256.4 353.5h0M257.0 351.7h0M269.2 308.7h0M272.3 314.3h0M272.8 315.9h0M273.1 317.7h0M273.2 321.1h0M273.1 296.2h0M288.7 324.0h0M275.9 326.0h0M222.5 323.5h0M217.3 328.9h0M218.6 328.0h0M219.6 326.5h0M220.3 325.0h0M228.4 317.4h0M229.3 316.0h0M230.4 314.5h0M296.2 323.4h0M297.8 326.2h0M300.5 328.2h0M301.6 329.1h0M231.1 317.0h0M231.6 318.6h0M235.0 324.5h0M235.6 335.7h0M238.7 339.6h0M259.0 331.1h0M260.8 337.7h0M259.8 340.8h0M272.2 322.4h0M271.5 313.7h0M271.8 312.1h0M271.8 308.3h0M258.7 303.1h0M265.1 299.9h0M247.0 302.8h0M247.4 301.1h0M248.1 289.1h0M244.5 299.2h0M243.4 295.9h0M241.8 291.2h0M227.4 316.7h0M231.9 321.7h0M295.0 306.8h0M294.1 308.1h0M293.0 309.5h0M286.1 312.7h0M258.6 311.5h0M259.2 308.1h0M258.4 306.5h0M265.6 325.9h0M266.9 320.8h0M267.1 315.7h0M268.9 312.8h0M255.8 309.2h0M258.2 307.6h0M261.7 307.4h0M225.6 334.1h0M227.0 332.9h0M294.8 336.7h0M294.7 336.6h0M297.9 327.2h0M298.3 325.5h0M298.2 323.9h0M278.4 309.5h0M284.2 302.7h0M290.6 299.7h0M291.7 298.2h0M298.8 299.6h0M291.0 298.8h0M286.2 298.2h0M280.4 296.8h0M296.2 335.1h0M296.7 333.4h0M293.0 320.9h0M294.5 317.8h0M296.8 315.4h0M297.1 313.7h0M297.6 312.0h0M291.1 321.9h0M292.9 319.2h0M302.0 315.7h0M303.5 323.5h0M300.0 327.1h0M299.9 328.8h0M268.4 331.0h0M269.0 339.5h0M268.3 341.1h0M271.5 318.2h0M245.7 307.4h0M249.8 309.6h0M251.5 309.5h0M253.1 309.0h0" stroke="#128c12" stroke-width="1.70" stroke-linecap="round" fill="none"/>
<path d="M371.4 285.4h0M374.9 287.5h0M377.3 289.3h0M363.8 290.4h0M367.4 289.5h0M369.3 289.3h0M369.5 291.6h0M371.6 291.2h0M364.5 294.7h0M365.9 294.5h0M367.4 294.0h0M372.4 296.1h0M365.9 297.1h0M375.5 298.1h0M350.7 298.4h0M352.4 302.8h0M352.7 304.0h0M368.0 303.0h0M372.1 301.8h0M371.6 303.8h0M375.2 300.2h0M374.7 304.3h0M346.7 304.7h0M347.2 306.7h0M363.8 305.7h0M373.6 306.7h0M367.2 308.2h0M372.4 308.5h0M374.5 310.2h0M339.7 311.1h0M344.1 312.3h0M363.5 311.6h0M353.4 314.2h0M366.4 315.4h0M331.4 318.5h0M337.4 318.1h0M364.3 318.5h0M365.4 319.4h0M384.8 284.4h0M383.0 287.5h0M377.2 289.3h0M388.9 290.4h0M399.0 287.8h0M400.7 292.6h0M401.9 294.5h0M380.1 295.5h0M383.0 296.4h0M378.6 297.6h0M380.1 298.6h0M380.7 300.2h0M392.8 294.3h0M395.2 296.1h0M396.2 298.6h0M396.2 299.9h0M402.7 298.6h0M384.3 301.8h0M394.4 301.8h0M385.8 304.0h0M385.3 304.9h0M391.5 304.7h0M390.5 305.4h0M392.4 303.0h0M398.6 304.9h0M406.6 303.6h0M411.7 304.9h0M413.8 307.1h0M417.2 310.0h0M382.7 307.1h0M383.8 308.2h0M379.6 308.5h0M386.9 308.5h0M392.1 307.1h0M399.8 309.8h0M399.3 311.1h0M378.9 313.4h0M382.7 312.1h0M383.3 313.4h0M386.4 313.4h0M389.3 313.4h0M392.4 312.3h0M380.1 316.5h0M383.8 315.7h0M384.3 318.8h0M391.5 318.5h0M394.1 317.1h0M401.4 315.4h0M402.4 318.5h0M408.1 315.7h0M415.9 318.8h0M418.5 316.8h0M420.0 319.2h0M421.6 319.2h0M423.1 319.4h0M341.8 323.2h0M336.3 325.4h0M341.8 327.2h0M346.1 327.6h0M350.2 327.2h0M350.8 328.3h0M353.4 324.5h0M353.2 328.0h0M357.3 324.0h0M360.0 329.4h0M371.2 320.7h0M375.5 324.0h0M376.6 322.4h0M371.7 327.2h0M334.5 331.9h0M344.0 331.6h0M345.0 332.7h0M346.1 333.8h0M347.8 332.7h0M349.1 331.6h0M342.1 337.8h0M343.4 337.4h0M344.5 336.5h0M351.2 338.5h0M357.6 335.2h0M362.1 334.3h0M367.9 335.2h0M370.1 337.4h0M372.8 333.8h0M376.1 332.7h0M356.2 338.5h0M358.6 340.3h0M360.8 341.4h0M356.5 342.8h0M361.4 344.1h0M369.3 341.4h0M373.0 346.5h0M376.3 342.5h0M376.3 349.0h0M375.5 353.4h0M376.2 319.1h0M378.4 320.7h0M375.1 322.9h0M384.3 321.3h0M388.7 318.5h0M405.6 320.7h0M406.1 322.4h0M408.8 320.2h0M408.3 323.4h0M407.8 325.1h0M415.4 324.0h0M415.9 326.2h0M419.2 319.6h0M420.8 319.6h0M423.0 319.6h0M424.1 320.2h0M379.4 328.3h0M387.6 329.4h0M376.0 332.7h0M392.0 332.2h0M400.7 328.0h0M403.4 328.9h0M406.1 328.6h0M409.4 327.3h0M411.6 329.8h0M412.1 331.6h0M413.7 332.7h0M415.4 332.7h0M408.8 331.6h0M418.6 329.8h0M397.4 333.8h0M398.5 337.8h0M408.8 337.4h0M381.1 336.5h0M380.0 338.1h0M378.9 341.4h0M376.4 342.5h0M381.4 340.9h0M389.8 340.3h0M397.4 341.4h0M396.9 342.5h0M406.7 341.4h0M400.1 344.1h0M404.5 344.7h0M397.4 347.4h0M399.6 346.5h0M402.3 347.2h0M376.2 349.0h0M375.6 353.4h0M384.9 355.6h0M386.5 354.5h0M388.2 353.9h0" stroke="#ff1493" stroke-width="1.70" stroke-linecap="round" fill="none"/>
<path d="M478.0 285.4h0M481.9 285.0h0M486.7 285.7h0M486.3 287.0h0M467.4 289.3h0M484.7 289.3h0M491.7 288.8h0M466.9 292.2h0M467.1 292.9h0M469.1 294.3h0M477.7 291.4h0M473.9 294.7h0M484.0 294.7h0M487.1 291.9h0M478.5 299.5h0M492.2 299.2h0M492.2 301.5h0M451.5 302.6h0M481.2 305.7h0M456.0 306.1h0M459.4 307.8h0M464.6 309.5h0M468.4 309.5h0M489.9 309.2h0M491.7 310.2h0M450.1 310.2h0M452.4 311.1h0M467.7 311.6h0M474.9 310.9h0M480.5 312.3h0M476.7 315.2h0M465.8 316.5h0M449.5 316.8h0M460.9 318.1h0M472.9 318.3h0M476.2 317.8h0M482.6 318.5h0M464.8 319.4h0M501.3 284.4h0M499.8 288.1h0M500.1 290.6h0M499.3 291.2h0M496.4 291.9h0M511.2 288.5h0M509.1 295.0h0M517.7 294.7h0M496.7 299.5h0M500.3 298.9h0M512.5 299.9h0M516.9 299.7h0M522.0 298.9h0M514.3 304.7h0M522.6 304.0h0M527.7 307.1h0M496.1 310.6h0M499.5 309.2h0M533.4 315.0h0M496.4 316.5h0M496.7 319.2h0M539.6 319.4h0M464.9 319.3h0M446.6 322.6h0M449.1 322.4h0M451.6 323.4h0M452.9 323.7h0M453.8 325.1h0M454.5 325.8h0M459.4 321.3h0M459.4 325.1h0M474.4 324.0h0M480.6 321.8h0M482.8 323.2h0M485.5 324.0h0M488.8 320.4h0M490.4 321.3h0M446.4 329.4h0M455.1 328.7h0M456.7 330.8h0M474.6 329.4h0M477.0 329.8h0M485.5 327.6h0M448.5 332.7h0M449.6 333.2h0M452.9 334.1h0M461.4 331.9h0M467.6 332.1h0M482.8 333.5h0M488.2 331.9h0M456.1 336.0h0M457.2 337.0h0M461.0 338.7h0M462.7 342.5h0M480.1 337.8h0M485.5 340.6h0M492.6 335.4h0M492.3 338.7h0M475.7 347.2h0M476.8 350.9h0M482.8 349.0h0M483.9 349.8h0M487.5 349.0h0M493.1 354.8h0M496.5 319.3h0M490.5 321.0h0M506.3 323.7h0M510.1 323.4h0M534.6 320.7h0M539.5 320.0h0M519.9 327.3h0M523.8 325.8h0M523.8 328.3h0M527.6 328.3h0M527.9 329.8h0M531.4 328.7h0M534.1 330.5h0M504.2 330.5h0M524.3 331.6h0M524.8 332.7h0M524.0 334.1h0M530.1 332.7h0M492.7 335.4h0M492.4 338.7h0M518.5 338.1h0M523.2 341.7h0M516.1 342.8h0M520.3 345.2h0M515.6 346.5h0M517.2 347.2h0M513.4 348.3h0M511.8 349.6h0M504.7 351.8h0M504.2 354.5h0M503.1 355.6h0M501.4 356.3h0M493.8 354.5h0M497.1 355.2h0" stroke="#a95f0a" stroke-width="1.70" stroke-linecap="round" fill="none"/>
<g font-family="'DejaVu Sans','Liberation Sans',sans-serif" font-size="4.7" fill="#2a2a2a">
<rect x="27.20" y="19.40" width="170.60" height="132.00" fill="none" stroke="#bcbcbc" stroke-width="0.9"/>
<g font-size="4.6">
<text x="27.20" y="157.90" text-anchor="middle">−4</text>
<text x="51.57" y="157.90" text-anchor="middle">−2</text>
<text x="75.94" y="157.90" text-anchor="middle">0</text>
<text x="100.31" y="157.90" text-anchor="middle">2</text>
<text x="124.69" y="157.90" text-anchor="middle">4</text>
<text x="149.06" y="157.90" text-anchor="middle">6</text>
<text x="173.43" y="157.90" text-anchor="middle">8</text>
<text x="197.80" y="157.90" text-anchor="middle">10</text>
<text x="24.40" y="144.66" text-anchor="end">−4</text>
<text x="24.40" y="127.07" text-anchor="end">−2</text>
<text x="24.40" y="109.48" text-anchor="end">0</text>
<text x="24.40" y="91.90" text-anchor="end">2</text>
<text x="24.40" y="74.31" text-anchor="end">4</text>
<text x="24.40" y="56.73" text-anchor="end">6</text>
<text x="24.40" y="39.14" text-anchor="end">8</text>
<text x="24.40" y="21.56" text-anchor="end">10</text>
</g>
<path d="M27.20 151.40v1.3 M51.57 151.40v1.3 M75.94 151.40v1.3 M100.31 151.40v1.3 M124.69 151.40v1.3 M149.06 151.40v1.3 M173.43 151.40v1.3 M197.80 151.40v1.3 M27.20 142.50h-1.3 M27.20 124.91h-1.3 M27.20 107.33h-1.3 M27.20 89.74h-1.3 M27.20 72.16h-1.3 M27.20 54.57h-1.3 M27.20 36.99h-1.3 M27.20 19.40h-1.3" stroke="#bcbcbc" stroke-width="0.7" fill="none"/>
<rect x="29.80" y="172.80" width="170.40" height="131.60" fill="none" stroke="#bcbcbc" stroke-width="0.9"/>
<g font-size="4.6">
<text x="47.60" y="310.90" text-anchor="middle">−15</text>
<text x="69.30" y="310.90" text-anchor="middle">−10</text>
<text x="91.00" y="310.90" text-anchor="middle">−5</text>
<text x="112.70" y="310.90" text-anchor="middle">0</text>
<text x="134.40" y="310.90" text-anchor="middle">5</text>
<text x="156.10" y="310.90" text-anchor="middle">10</text>
<text x="177.80" y="310.90" text-anchor="middle">15</text>
<text x="27.00" y="287.96" text-anchor="end">−10</text>
<text x="27.00" y="263.53" text-anchor="end">−5</text>
<text x="27.00" y="239.11" text-anchor="end">0</text>
<text x="27.00" y="214.68" text-anchor="end">5</text>
<text x="27.00" y="190.26" text-anchor="end">10</text>
</g>
<path d="M47.60 304.40v1.3 M69.30 304.40v1.3 M91.00 304.40v1.3 M112.70 304.40v1.3 M134.40 304.40v1.3 M156.10 304.40v1.3 M177.80 304.40v1.3 M29.80 285.80h-1.3 M29.80 261.38h-1.3 M29.80 236.95h-1.3 M29.80 212.52h-1.3 M29.80 188.10h-1.3" stroke="#bcbcbc" stroke-width="0.7" fill="none"/>
<rect x="211.70" y="17.40" width="102.50" height="78.90" fill="none" stroke="#bcbcbc" stroke-width="0.9"/>
<g font-size="4.7">
<text x="211.70" y="102.30" text-anchor="middle">−4</text>
<text x="226.34" y="102.30" text-anchor="middle">−2</text>
<text x="240.99" y="102.30" text-anchor="middle">0</text>
<text x="255.63" y="102.30" text-anchor="middle">2</text>
<text x="270.27" y="102.30" text-anchor="middle">4</text>
<text x="284.91" y="102.30" text-anchor="middle">6</text>
<text x="299.56" y="102.30" text-anchor="middle">8</text>
<text x="314.20" y="102.30" text-anchor="middle">10</text>
<text x="210.00" y="94.99" text-anchor="end">−4</text>
<text x="210.00" y="84.16" text-anchor="end">−2</text>
<text x="210.00" y="73.33" text-anchor="end">0</text>
<text x="210.00" y="62.51" text-anchor="end">2</text>
<text x="210.00" y="51.68" text-anchor="end">4</text>
<text x="210.00" y="40.85" text-anchor="end">6</text>
<text x="210.00" y="30.02" text-anchor="end">8</text>
<text x="210.00" y="19.19" text-anchor="end">10</text>
</g>
<path d="M211.70 96.30v1.3 M226.34 96.30v1.3 M240.99 96.30v1.3 M255.63 96.30v1.3 M270.27 96.30v1.3 M284.91 96.30v1.3 M299.56 96.30v1.3 M314.20 96.30v1.3 M211.70 92.80h-1.3 M211.70 81.97h-1.3 M211.70 71.14h-1.3 M211.70 60.31h-1.3 M211.70 49.49h-1.3 M211.70 38.66h-1.3 M211.70 27.83h-1.3 M211.70 17.00h-1.3" stroke="#bcbcbc" stroke-width="0.7" fill="none"/>
<rect x="326.80" y="17.40" width="102.50" height="78.90" fill="none" stroke="#bcbcbc" stroke-width="0.9"/>
<g font-size="4.7">
<text x="326.80" y="102.30" text-anchor="middle">−4</text>
<text x="341.44" y="102.30" text-anchor="middle">−2</text>
<text x="356.09" y="102.30" text-anchor="middle">0</text>
<text x="370.73" y="102.30" text-anchor="middle">2</text>
<text x="385.37" y="102.30" text-anchor="middle">4</text>
<text x="400.01" y="102.30" text-anchor="middle">6</text>
<text x="414.66" y="102.30" text-anchor="middle">8</text>
<text x="429.30" y="102.30" text-anchor="middle">10</text>
<text x="325.10" y="97.29" text-anchor="end">−2</text>
<text x="325.10" y="84.36" text-anchor="end">0</text>
<text x="325.10" y="71.43" text-anchor="end">2</text>
<text x="325.10" y="58.49" text-anchor="end">4</text>
<text x="325.10" y="45.56" text-anchor="end">6</text>
<text x="325.10" y="32.63" text-anchor="end">8</text>
<text x="325.10" y="19.69" text-anchor="end">10</text>
</g>
<path d="M326.80 96.30v1.3 M341.44 96.30v1.3 M356.09 96.30v1.3 M370.73 96.30v1.3 M385.37 96.30v1.3 M400.01 96.30v1.3 M414.66 96.30v1.3 M429.30 96.30v1.3 M326.80 95.10h-1.3 M326.80 82.17h-1.3 M326.80 69.23h-1.3 M326.80 56.30h-1.3 M326.80 43.37h-1.3 M326.80 30.43h-1.3 M326.80 17.50h-1.3" stroke="#bcbcbc" stroke-width="0.7" fill="none"/>
<rect x="441.20" y="17.40" width="102.50" height="78.90" fill="none" stroke="#bcbcbc" stroke-width="0.9"/>
<g font-size="4.7">
<text x="441.20" y="102.30" text-anchor="middle">−4</text>
<text x="455.84" y="102.30" text-anchor="middle">−2</text>
<text x="470.49" y="102.30" text-anchor="middle">0</text>
<text x="485.13" y="102.30" text-anchor="middle">2</text>
<text x="499.77" y="102.30" text-anchor="middle">4</text>
<text x="514.41" y="102.30" text-anchor="middle">6</text>
<text x="529.06" y="102.30" text-anchor="middle">8</text>
<text x="543.70" y="102.30" text-anchor="middle">10</text>
<text x="439.50" y="89.19" text-anchor="end">0</text>
<text x="439.50" y="75.27" text-anchor="end">2</text>
<text x="439.50" y="61.35" text-anchor="end">4</text>
<text x="439.50" y="47.43" text-anchor="end">6</text>
<text x="439.50" y="33.51" text-anchor="end">8</text>
<text x="439.50" y="19.59" text-anchor="end">10</text>
</g>
<path d="M441.20 96.30v1.3 M455.84 96.30v1.3 M470.49 96.30v1.3 M485.13 96.30v1.3 M499.77 96.30v1.3 M514.41 96.30v1.3 M529.06 96.30v1.3 M543.70 96.30v1.3 M441.20 87.00h-1.3 M441.20 73.08h-1.3 M441.20 59.16h-1.3 M441.20 45.24h-1.3 M441.20 31.32h-1.3 M441.20 17.40h-1.3" stroke="#bcbcbc" stroke-width="0.7" fill="none"/>
<rect x="211.70" y="105.70" width="102.50" height="79.10" fill="none" stroke="#bcbcbc" stroke-width="0.9"/>
<g font-size="4.7">
<text x="211.70" y="190.80" text-anchor="middle">−4</text>
<text x="226.34" y="190.80" text-anchor="middle">−2</text>
<text x="240.99" y="190.80" text-anchor="middle">0</text>
<text x="255.63" y="190.80" text-anchor="middle">2</text>
<text x="270.27" y="190.80" text-anchor="middle">4</text>
<text x="284.91" y="190.80" text-anchor="middle">6</text>
<text x="299.56" y="190.80" text-anchor="middle">8</text>
<text x="314.20" y="190.80" text-anchor="middle">10</text>
<text x="210.00" y="182.19" text-anchor="end">−4</text>
<text x="210.00" y="171.62" text-anchor="end">−2</text>
<text x="210.00" y="161.05" text-anchor="end">0</text>
<text x="210.00" y="150.48" text-anchor="end">2</text>
<text x="210.00" y="139.91" text-anchor="end">4</text>
<text x="210.00" y="129.33" text-anchor="end">6</text>
<text x="210.00" y="118.76" text-anchor="end">8</text>
<text x="210.00" y="108.19" text-anchor="end">10</text>
</g>
<path d="M211.70 184.80v1.3 M226.34 184.80v1.3 M240.99 184.80v1.3 M255.63 184.80v1.3 M270.27 184.80v1.3 M284.91 184.80v1.3 M299.56 184.80v1.3 M314.20 184.80v1.3 M211.70 180.00h-1.3 M211.70 169.43h-1.3 M211.70 158.86h-1.3 M211.70 148.29h-1.3 M211.70 137.71h-1.3 M211.70 127.14h-1.3 M211.70 116.57h-1.3 M211.70 106.00h-1.3" stroke="#bcbcbc" stroke-width="0.7" fill="none"/>
<rect x="326.80" y="105.70" width="102.50" height="79.10" fill="none" stroke="#bcbcbc" stroke-width="0.9"/>
<g font-size="4.7">
<text x="326.80" y="190.80" text-anchor="middle">−4</text>
<text x="341.44" y="190.80" text-anchor="middle">−2</text>
<text x="356.09" y="190.80" text-anchor="middle">0</text>
<text x="370.73" y="190.80" text-anchor="middle">2</text>
<text x="385.37" y="190.80" text-anchor="middle">4</text>
<text x="400.01" y="190.80" text-anchor="middle">6</text>
<text x="414.66" y="190.80" text-anchor="middle">8</text>
<text x="429.30" y="190.80" text-anchor="middle">10</text>
<text x="325.10" y="176.39" text-anchor="end">−2</text>
<text x="325.10" y="165.03" text-anchor="end">0</text>
<text x="325.10" y="153.66" text-anchor="end">2</text>
<text x="325.10" y="142.29" text-anchor="end">4</text>
<text x="325.10" y="130.93" text-anchor="end">6</text>
<text x="325.10" y="119.56" text-anchor="end">8</text>
<text x="325.10" y="108.19" text-anchor="end">10</text>
</g>
<path d="M326.80 184.80v1.3 M341.44 184.80v1.3 M356.09 184.80v1.3 M370.73 184.80v1.3 M385.37 184.80v1.3 M400.01 184.80v1.3 M414.66 184.80v1.3 M429.30 184.80v1.3 M326.80 174.20h-1.3 M326.80 162.83h-1.3 M326.80 151.47h-1.3 M326.80 140.10h-1.3 M326.80 128.73h-1.3 M326.80 117.37h-1.3 M326.80 106.00h-1.3" stroke="#bcbcbc" stroke-width="0.7" fill="none"/>
<rect x="441.20" y="105.70" width="102.50" height="79.10" fill="none" stroke="#bcbcbc" stroke-width="0.9"/>
<g font-size="4.7">
<text x="441.20" y="190.80" text-anchor="middle">−4</text>
<text x="455.84" y="190.80" text-anchor="middle">−2</text>
<text x="470.49" y="190.80" text-anchor="middle">0</text>
<text x="485.13" y="190.80" text-anchor="middle">2</text>
<text x="499.77" y="190.80" text-anchor="middle">4</text>
<text x="514.41" y="190.80" text-anchor="middle">6</text>
<text x="529.06" y="190.80" text-anchor="middle">8</text>
<text x="543.70" y="190.80" text-anchor="middle">10</text>
<text x="439.50" y="176.19" text-anchor="end">−2</text>
<text x="439.50" y="164.86" text-anchor="end">0</text>
<text x="439.50" y="153.53" text-anchor="end">2</text>
<text x="439.50" y="142.19" text-anchor="end">4</text>
<text x="439.50" y="130.86" text-anchor="end">6</text>
<text x="439.50" y="119.53" text-anchor="end">8</text>
<text x="439.50" y="108.19" text-anchor="end">10</text>
</g>
<path d="M441.20 184.80v1.3 M455.84 184.80v1.3 M470.49 184.80v1.3 M485.13 184.80v1.3 M499.77 184.80v1.3 M514.41 184.80v1.3 M529.06 184.80v1.3 M543.70 184.80v1.3 M441.20 174.00h-1.3 M441.20 162.67h-1.3 M441.20 151.33h-1.3 M441.20 140.00h-1.3 M441.20 128.67h-1.3 M441.20 117.33h-1.3 M441.20 106.00h-1.3" stroke="#bcbcbc" stroke-width="0.7" fill="none"/>
<rect x="211.40" y="193.30" width="102.50" height="79.10" fill="none" stroke="#bcbcbc" stroke-width="0.9"/>
<g font-size="4.7">
<text x="222.30" y="278.40" text-anchor="middle">−15</text>
<text x="235.32" y="278.40" text-anchor="middle">−10</text>
<text x="248.33" y="278.40" text-anchor="middle">−5</text>
<text x="261.35" y="278.40" text-anchor="middle">0</text>
<text x="274.37" y="278.40" text-anchor="middle">5</text>
<text x="287.38" y="278.40" text-anchor="middle">10</text>
<text x="300.40" y="278.40" text-anchor="middle">15</text>
<text x="209.70" y="263.19" text-anchor="end">−10</text>
<text x="209.70" y="248.59" text-anchor="end">−5</text>
<text x="209.70" y="233.99" text-anchor="end">0</text>
<text x="209.70" y="219.39" text-anchor="end">5</text>
<text x="209.70" y="204.79" text-anchor="end">10</text>
</g>
<path d="M222.30 272.40v1.3 M235.32 272.40v1.3 M248.33 272.40v1.3 M261.35 272.40v1.3 M274.37 272.40v1.3 M287.38 272.40v1.3 M300.40 272.40v1.3 M211.40 261.00h-1.3 M211.40 246.40h-1.3 M211.40 231.80h-1.3 M211.40 217.20h-1.3 M211.40 202.60h-1.3" stroke="#bcbcbc" stroke-width="0.7" fill="none"/>
<rect x="326.60" y="193.30" width="102.50" height="79.10" fill="none" stroke="#bcbcbc" stroke-width="0.9"/>
<g font-size="4.7">
<text x="333.80" y="278.40" text-anchor="middle">−15</text>
<text x="348.37" y="278.40" text-anchor="middle">−10</text>
<text x="362.93" y="278.40" text-anchor="middle">−5</text>
<text x="377.50" y="278.40" text-anchor="middle">0</text>
<text x="392.07" y="278.40" text-anchor="middle">5</text>
<text x="406.63" y="278.40" text-anchor="middle">10</text>
<text x="421.20" y="278.40" text-anchor="middle">15</text>
<text x="324.90" y="272.19" text-anchor="end">−10</text>
<text x="324.90" y="255.57" text-anchor="end">−5</text>
<text x="324.90" y="238.94" text-anchor="end">0</text>
<text x="324.90" y="222.32" text-anchor="end">5</text>
<text x="324.90" y="205.69" text-anchor="end">10</text>
</g>
<path d="M333.80 272.40v1.3 M348.37 272.40v1.3 M362.93 272.40v1.3 M377.50 272.40v1.3 M392.07 272.40v1.3 M406.63 272.40v1.3 M421.20 272.40v1.3 M326.60 270.00h-1.3 M326.60 253.38h-1.3 M326.60 236.75h-1.3 M326.60 220.12h-1.3 M326.60 203.50h-1.3" stroke="#bcbcbc" stroke-width="0.7" fill="none"/>
<rect x="442.00" y="193.30" width="102.50" height="79.10" fill="none" stroke="#bcbcbc" stroke-width="0.9"/>
<g font-size="4.7">
<text x="449.60" y="278.40" text-anchor="middle">−10</text>
<text x="465.88" y="278.40" text-anchor="middle">−5</text>
<text x="482.16" y="278.40" text-anchor="middle">0</text>
<text x="498.44" y="278.40" text-anchor="middle">5</text>
<text x="514.72" y="278.40" text-anchor="middle">10</text>
<text x="531.00" y="278.40" text-anchor="middle">15</text>
<text x="440.30" y="206.19" text-anchor="end">10.0</text>
<text x="440.30" y="215.02" text-anchor="end">7.5</text>
<text x="440.30" y="223.85" text-anchor="end">5.0</text>
<text x="440.30" y="232.68" text-anchor="end">2.5</text>
<text x="440.30" y="241.51" text-anchor="end">0.0</text>
<text x="440.30" y="250.33" text-anchor="end">−2.5</text>
<text x="440.30" y="259.16" text-anchor="end">−5.0</text>
<text x="440.30" y="267.99" text-anchor="end">−7.5</text>
</g>
<path d="M449.60 272.40v1.3 M465.88 272.40v1.3 M482.16 272.40v1.3 M498.44 272.40v1.3 M514.72 272.40v1.3 M531.00 272.40v1.3 M442.00 204.00h-1.3 M442.00 212.83h-1.3 M442.00 221.66h-1.3 M442.00 230.49h-1.3 M442.00 239.31h-1.3 M442.00 248.14h-1.3 M442.00 256.97h-1.3 M442.00 265.80h-1.3" stroke="#bcbcbc" stroke-width="0.7" fill="none"/>
<rect x="211.40" y="280.90" width="102.50" height="78.60" fill="none" stroke="#bcbcbc" stroke-width="0.9"/>
<g font-size="4.7">
<text x="221.70" y="365.50" text-anchor="middle">−15</text>
<text x="234.82" y="365.50" text-anchor="middle">−10</text>
<text x="247.93" y="365.50" text-anchor="middle">−5</text>
<text x="261.05" y="365.50" text-anchor="middle">0</text>
<text x="274.17" y="365.50" text-anchor="middle">5</text>
<text x="287.28" y="365.50" text-anchor="middle">10</text>
<text x="300.40" y="365.50" text-anchor="middle">15</text>
<text x="209.70" y="350.69" text-anchor="end">−10</text>
<text x="209.70" y="336.14" text-anchor="end">−5</text>
<text x="209.70" y="321.59" text-anchor="end">0</text>
<text x="209.70" y="307.04" text-anchor="end">5</text>
<text x="209.70" y="292.49" text-anchor="end">10</text>
</g>
<path d="M221.70 359.50v1.3 M234.82 359.50v1.3 M247.93 359.50v1.3 M261.05 359.50v1.3 M274.17 359.50v1.3 M287.28 359.50v1.3 M300.40 359.50v1.3 M211.40 348.50h-1.3 M211.40 333.95h-1.3 M211.40 319.40h-1.3 M211.40 304.85h-1.3 M211.40 290.30h-1.3" stroke="#bcbcbc" stroke-width="0.7" fill="none"/>
<rect x="326.60" y="280.90" width="102.50" height="78.60" fill="none" stroke="#bcbcbc" stroke-width="0.9"/>
<g font-size="4.7">
<text x="334.50" y="365.50" text-anchor="middle">−15</text>
<text x="348.15" y="365.50" text-anchor="middle">−10</text>
<text x="361.80" y="365.50" text-anchor="middle">−5</text>
<text x="375.45" y="365.50" text-anchor="middle">0</text>
<text x="389.10" y="365.50" text-anchor="middle">5</text>
<text x="402.75" y="365.50" text-anchor="middle">10</text>
<text x="416.40" y="365.50" text-anchor="middle">15</text>
<text x="324.90" y="350.69" text-anchor="end">−10</text>
<text x="324.90" y="336.14" text-anchor="end">−5</text>
<text x="324.90" y="321.59" text-anchor="end">0</text>
<text x="324.90" y="307.04" text-anchor="end">5</text>
<text x="324.90" y="292.49" text-anchor="end">10</text>
</g>
<path d="M334.50 359.50v1.3 M348.15 359.50v1.3 M361.80 359.50v1.3 M375.45 359.50v1.3 M389.10 359.50v1.3 M402.75 359.50v1.3 M416.40 359.50v1.3 M326.60 348.50h-1.3 M326.60 333.95h-1.3 M326.60 319.40h-1.3 M326.60 304.85h-1.3 M326.60 290.30h-1.3" stroke="#bcbcbc" stroke-width="0.7" fill="none"/>
<rect x="442.00" y="280.90" width="102.50" height="78.60" fill="none" stroke="#bcbcbc" stroke-width="0.9"/>
<g font-size="4.7">
<text x="452.90" y="365.50" text-anchor="middle">−15</text>
<text x="466.10" y="365.50" text-anchor="middle">−10</text>
<text x="479.30" y="365.50" text-anchor="middle">−5</text>
<text x="492.50" y="365.50" text-anchor="middle">0</text>
<text x="505.70" y="365.50" text-anchor="middle">5</text>
<text x="518.90" y="365.50" text-anchor="middle">10</text>
<text x="532.10" y="365.50" text-anchor="middle">15</text>
<text x="440.30" y="350.69" text-anchor="end">−10</text>
<text x="440.30" y="336.14" text-anchor="end">−5</text>
<text x="440.30" y="321.59" text-anchor="end">0</text>
<text x="440.30" y="307.04" text-anchor="end">5</text>
<text x="440.30" y="292.49" text-anchor="end">10</text>
</g>
<path d="M452.90 359.50v1.3 M466.10 359.50v1.3 M479.30 359.50v1.3 M492.50 359.50v1.3 M505.70 359.50v1.3 M518.90 359.50v1.3 M532.10 359.50v1.3 M442.00 348.50h-1.3 M442.00 333.95h-1.3 M442.00 319.40h-1.3 M442.00 304.85h-1.3 M442.00 290.30h-1.3" stroke="#bcbcbc" stroke-width="0.7" fill="none"/>
</g>
<rect x="285.73" y="19.00" width="26.47" height="10.60" rx="1" fill="#fff" fill-opacity="0.8" stroke="#ececec" stroke-width="0.6"/>
<circle cx="289.33" cy="24.50" r="0.95" fill="#ffe014"/>
<text x="309.30" y="26.20" text-anchor="end" font-size="5.15" font-family="'DejaVu Sans','Liberation Sans',sans-serif" fill="#1a1a1a">Brazil</text>
<rect x="387.96" y="19.00" width="39.34" height="10.60" rx="1" fill="#fff" fill-opacity="0.8" stroke="#ececec" stroke-width="0.6"/>
<circle cx="391.56" cy="24.50" r="0.95" fill="#00bfff"/>
<text x="424.40" y="26.20" text-anchor="end" font-size="5.15" font-family="'DejaVu Sans','Liberation Sans',sans-serif" fill="#1a1a1a">Costa Rica</text>
<rect x="500.68" y="19.00" width="41.02" height="10.60" rx="1" fill="#fff" fill-opacity="0.8" stroke="#ececec" stroke-width="0.6"/>
<circle cx="504.28" cy="24.50" r="0.95" fill="#ff00ff"/>
<text x="538.80" y="26.20" text-anchor="end" font-size="5.15" font-family="'DejaVu Sans','Liberation Sans',sans-serif" fill="#1a1a1a">El Salvador</text>
<rect x="282.12" y="107.30" width="30.08" height="10.60" rx="1" fill="#fff" fill-opacity="0.8" stroke="#ececec" stroke-width="0.6"/>
<circle cx="285.72" cy="112.80" r="0.95" fill="#128c12"/>
<text x="309.30" y="114.50" text-anchor="end" font-size="5.15" font-family="'DejaVu Sans','Liberation Sans',sans-serif" fill="#1a1a1a">Mexico</text>
<rect x="394.58" y="107.30" width="32.72" height="10.60" rx="1" fill="#fff" fill-opacity="0.8" stroke="#ececec" stroke-width="0.6"/>
<circle cx="398.18" cy="112.80" r="0.95" fill="#ff1493"/>
<text x="424.40" y="114.50" text-anchor="end" font-size="5.15" font-family="'DejaVu Sans','Liberation Sans',sans-serif" fill="#1a1a1a">Panama</text>
<rect x="518.13" y="107.30" width="23.57" height="10.60" rx="1" fill="#fff" fill-opacity="0.8" stroke="#ececec" stroke-width="0.6"/>
<circle cx="521.73" cy="112.80" r="0.95" fill="#a95f0a"/>
<text x="538.80" y="114.50" text-anchor="end" font-size="5.15" font-family="'DejaVu Sans','Liberation Sans',sans-serif" fill="#1a1a1a">Peru</text>
<rect x="285.43" y="194.90" width="26.47" height="10.60" rx="1" fill="#fff" fill-opacity="0.8" stroke="#ececec" stroke-width="0.6"/>
<circle cx="289.03" cy="200.40" r="0.95" fill="#ffe014"/>
<text x="309.00" y="202.10" text-anchor="end" font-size="5.15" font-family="'DejaVu Sans','Liberation Sans',sans-serif" fill="#1a1a1a">Brazil</text>
<rect x="387.76" y="194.90" width="39.34" height="10.60" rx="1" fill="#fff" fill-opacity="0.8" stroke="#ececec" stroke-width="0.6"/>
<circle cx="391.36" cy="200.40" r="0.95" fill="#00bfff"/>
<text x="424.20" y="202.10" text-anchor="end" font-size="5.15" font-family="'DejaVu Sans','Liberation Sans',sans-serif" fill="#1a1a1a">Costa Rica</text>
<rect x="501.48" y="194.90" width="41.02" height="10.60" rx="1" fill="#fff" fill-opacity="0.8" stroke="#ececec" stroke-width="0.6"/>
<circle cx="505.08" cy="200.40" r="0.95" fill="#ff00ff"/>
<text x="539.60" y="202.10" text-anchor="end" font-size="5.15" font-family="'DejaVu Sans','Liberation Sans',sans-serif" fill="#1a1a1a">El Salvador</text>
<rect x="281.82" y="282.50" width="30.08" height="10.60" rx="1" fill="#fff" fill-opacity="0.8" stroke="#ececec" stroke-width="0.6"/>
<circle cx="285.42" cy="288.00" r="0.95" fill="#128c12"/>
<text x="309.00" y="289.70" text-anchor="end" font-size="5.15" font-family="'DejaVu Sans','Liberation Sans',sans-serif" fill="#1a1a1a">Mexico</text>
<rect x="394.38" y="282.50" width="32.72" height="10.60" rx="1" fill="#fff" fill-opacity="0.8" stroke="#ececec" stroke-width="0.6"/>
<circle cx="397.98" cy="288.00" r="0.95" fill="#ff1493"/>
<text x="424.20" y="289.70" text-anchor="end" font-size="5.15" font-family="'DejaVu Sans','Liberation Sans',sans-serif" fill="#1a1a1a">Panama</text>
<rect x="518.93" y="282.50" width="23.57" height="10.60" rx="1" fill="#fff" fill-opacity="0.8" stroke="#ececec" stroke-width="0.6"/>
<circle cx="522.53" cy="288.00" r="0.95" fill="#a95f0a"/>
<text x="539.60" y="289.70" text-anchor="end" font-size="5.15" font-family="'DejaVu Sans','Liberation Sans',sans-serif" fill="#1a1a1a">Peru</text>
<g font-family="'DejaVu Sans','Liberation Sans',sans-serif" fill="#111">
<text x="112.2" y="166.6" font-size="8.2" text-anchor="middle">Principal component 1</text>
<text transform="translate(14.9 85.4) rotate(-90)" font-size="8.2" text-anchor="middle">Principal component 2</text>
<text x="114.6" y="319.3" font-size="8.2" text-anchor="middle">t-SNE Dimension 1</text>
<text transform="translate(14.7 237.8) rotate(-90)" font-size="8.2" text-anchor="middle">t-SNE Dimension 2</text>
<text x="7.4" y="14.9" font-size="11">A</text>
<text x="6.0" y="169.5" font-size="11">B</text>
</g>
<rect x="141.7" y="320.5" width="55.6" height="61.2" rx="1.5" fill="#fff" stroke="#e2e2e2" stroke-width="0.7"/>
<g font-family="'DejaVu Sans','Liberation Sans',sans-serif" font-size="6.4" fill="#1a1a1a" stroke="#1a1a1a" stroke-width="0.12">
<circle cx="148.3" cy="326.40" r="1.25" fill="#ffe014" stroke="none"/>
<text x="158.3" y="328.50">Brazil</text>
<circle cx="148.3" cy="336.00" r="1.25" fill="#00bfff" stroke="none"/>
<text x="158.3" y="338.10">Costa Rica</text>
<circle cx="148.3" cy="345.60" r="1.25" fill="#ff00ff" stroke="none"/>
<text x="158.3" y="347.70">El Salvador</text>
<circle cx="148.3" cy="355.20" r="1.25" fill="#128c12" stroke="none"/>
<text x="158.3" y="357.30">Mexico</text>
<circle cx="148.3" cy="364.80" r="1.25" fill="#ff1493" stroke="none"/>
<text x="158.3" y="366.90">Panama</text>
<circle cx="148.3" cy="374.40" r="1.25" fill="#a95f0a" stroke="none"/>
<text x="158.3" y="376.50">Peru</text>
</g>
</svg></body></html>
